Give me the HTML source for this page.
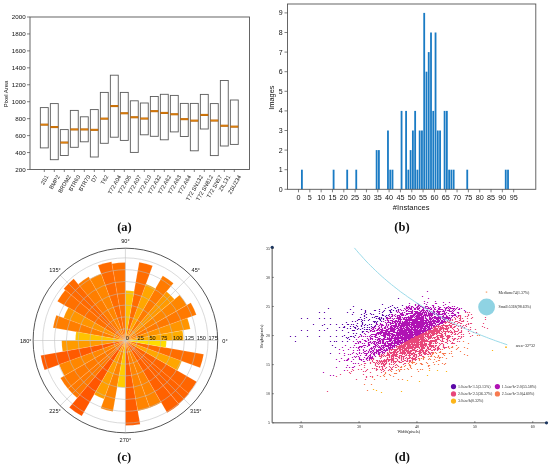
<!DOCTYPE html><html><head><meta charset="utf-8"><style>html,body{margin:0;padding:0;background:#fff;width:550px;height:465px;overflow:hidden}svg{display:block;filter:blur(0.3px)}text{font-family:"Liberation Sans",sans-serif}.sr{font-family:"Liberation Serif",serif}</style></head><body>
<svg width="550" height="465" viewBox="0 0 550 465">
<g id="pa">
<rect x="30.0" y="17.0" width="219.5" height="152.5" fill="none" stroke="#555" stroke-width="0.9"/>
<line x1="27.0" y1="169.5" x2="30.0" y2="169.5" stroke="#4a4a4a" stroke-width="0.7"/>
<text x="25.6" y="171.85" font-size="6.2" fill="#111" text-anchor="end">200</text>
<line x1="27.0" y1="152.56" x2="30.0" y2="152.56" stroke="#4a4a4a" stroke-width="0.7"/>
<text x="25.6" y="154.91" font-size="6.2" fill="#111" text-anchor="end">400</text>
<line x1="27.0" y1="135.61" x2="30.0" y2="135.61" stroke="#4a4a4a" stroke-width="0.7"/>
<text x="25.6" y="137.96" font-size="6.2" fill="#111" text-anchor="end">600</text>
<line x1="27.0" y1="118.67" x2="30.0" y2="118.67" stroke="#4a4a4a" stroke-width="0.7"/>
<text x="25.6" y="121.02" font-size="6.2" fill="#111" text-anchor="end">800</text>
<line x1="27.0" y1="101.72" x2="30.0" y2="101.72" stroke="#4a4a4a" stroke-width="0.7"/>
<text x="25.6" y="104.07" font-size="6.2" fill="#111" text-anchor="end">1000</text>
<line x1="27.0" y1="84.78" x2="30.0" y2="84.78" stroke="#4a4a4a" stroke-width="0.7"/>
<text x="25.6" y="87.13" font-size="6.2" fill="#111" text-anchor="end">1200</text>
<line x1="27.0" y1="67.83" x2="30.0" y2="67.83" stroke="#4a4a4a" stroke-width="0.7"/>
<text x="25.6" y="70.18" font-size="6.2" fill="#111" text-anchor="end">1400</text>
<line x1="27.0" y1="50.89" x2="30.0" y2="50.89" stroke="#4a4a4a" stroke-width="0.7"/>
<text x="25.6" y="53.24" font-size="6.2" fill="#111" text-anchor="end">1600</text>
<line x1="27.0" y1="33.94" x2="30.0" y2="33.94" stroke="#4a4a4a" stroke-width="0.7"/>
<text x="25.6" y="36.29" font-size="6.2" fill="#111" text-anchor="end">1800</text>
<line x1="27.0" y1="17" x2="30.0" y2="17" stroke="#4a4a4a" stroke-width="0.7"/>
<text x="25.6" y="19.35" font-size="6.2" fill="#111" text-anchor="end">2000</text>
<text transform="translate(8.4,94) rotate(-90)" font-size="5.9" fill="#111" text-anchor="middle">Pixel Area</text>
<rect x="40.35" y="107.6" width="7.9" height="40.3" fill="#fff" stroke="#5a5a5a" stroke-width="0.9"/>
<rect x="40.35" y="123.6" width="7.9" height="2.1" fill="#b86408"/>
<line x1="40.85" y1="124.6" x2="47.75" y2="124.6" stroke="#e88a10" stroke-width="0.8"/>
<line x1="44.3" y1="169.5" x2="44.3" y2="172.0" stroke="#4a4a4a" stroke-width="0.7"/>
<text transform="translate(44.3,179.87) rotate(-60)" font-size="5.6" fill="#111" text-anchor="middle" dy="2.1">2S1</text>
<rect x="50.35" y="103.6" width="7.9" height="56.1" fill="#fff" stroke="#5a5a5a" stroke-width="0.9"/>
<rect x="50.35" y="126" width="7.9" height="2.1" fill="#b86408"/>
<line x1="50.85" y1="127" x2="57.75" y2="127" stroke="#e88a10" stroke-width="0.8"/>
<line x1="54.3" y1="169.5" x2="54.3" y2="172.0" stroke="#4a4a4a" stroke-width="0.7"/>
<text transform="translate(54.3,182.16) rotate(-60)" font-size="5.6" fill="#111" text-anchor="middle" dy="2.1">BMP2</text>
<rect x="60.35" y="129.6" width="7.9" height="25.9" fill="#fff" stroke="#5a5a5a" stroke-width="0.9"/>
<rect x="60.35" y="141.5" width="7.9" height="2.1" fill="#b86408"/>
<line x1="60.85" y1="142.5" x2="67.75" y2="142.5" stroke="#e88a10" stroke-width="0.8"/>
<line x1="64.3" y1="169.5" x2="64.3" y2="172.0" stroke="#4a4a4a" stroke-width="0.7"/>
<text transform="translate(64.3,184.05) rotate(-60)" font-size="5.6" fill="#111" text-anchor="middle" dy="2.1">BRDM2</text>
<rect x="70.35" y="110.4" width="7.9" height="36.9" fill="#fff" stroke="#5a5a5a" stroke-width="0.9"/>
<rect x="70.35" y="128.4" width="7.9" height="2.1" fill="#b86408"/>
<line x1="70.85" y1="129.4" x2="77.75" y2="129.4" stroke="#e88a10" stroke-width="0.8"/>
<line x1="74.3" y1="169.5" x2="74.3" y2="172.0" stroke="#4a4a4a" stroke-width="0.7"/>
<text transform="translate(74.3,183.11) rotate(-60)" font-size="5.6" fill="#111" text-anchor="middle" dy="2.1">BTR60</text>
<rect x="80.35" y="116.8" width="7.9" height="25" fill="#fff" stroke="#5a5a5a" stroke-width="0.9"/>
<rect x="80.35" y="128.4" width="7.9" height="2.1" fill="#b86408"/>
<line x1="80.85" y1="129.4" x2="87.75" y2="129.4" stroke="#e88a10" stroke-width="0.8"/>
<line x1="84.3" y1="169.5" x2="84.3" y2="172.0" stroke="#4a4a4a" stroke-width="0.7"/>
<text transform="translate(84.3,183.11) rotate(-60)" font-size="5.6" fill="#111" text-anchor="middle" dy="2.1">BTR70</text>
<rect x="90.35" y="109.6" width="7.9" height="47.4" fill="#fff" stroke="#5a5a5a" stroke-width="0.9"/>
<rect x="90.35" y="128.8" width="7.9" height="2.1" fill="#b86408"/>
<line x1="90.85" y1="129.8" x2="97.75" y2="129.8" stroke="#e88a10" stroke-width="0.8"/>
<line x1="94.3" y1="169.5" x2="94.3" y2="172.0" stroke="#4a4a4a" stroke-width="0.7"/>
<text transform="translate(94.3,178.66) rotate(-60)" font-size="5.6" fill="#111" text-anchor="middle" dy="2.1">D7</text>
<rect x="100.35" y="92.4" width="7.9" height="50.9" fill="#fff" stroke="#5a5a5a" stroke-width="0.9"/>
<rect x="100.35" y="117.6" width="7.9" height="2.1" fill="#b86408"/>
<line x1="100.85" y1="118.6" x2="107.75" y2="118.6" stroke="#e88a10" stroke-width="0.8"/>
<line x1="104.3" y1="169.5" x2="104.3" y2="172.0" stroke="#4a4a4a" stroke-width="0.7"/>
<text transform="translate(104.3,179.74) rotate(-60)" font-size="5.6" fill="#111" text-anchor="middle" dy="2.1">T62</text>
<rect x="110.35" y="75.2" width="7.9" height="62" fill="#fff" stroke="#5a5a5a" stroke-width="0.9"/>
<rect x="110.35" y="105" width="7.9" height="2.1" fill="#b86408"/>
<line x1="110.85" y1="106" x2="117.75" y2="106" stroke="#e88a10" stroke-width="0.8"/>
<line x1="114.3" y1="169.5" x2="114.3" y2="172.0" stroke="#4a4a4a" stroke-width="0.7"/>
<text transform="translate(114.3,184.59) rotate(-60)" font-size="5.6" fill="#111" text-anchor="middle" dy="2.1">T72 A04</text>
<rect x="120.35" y="92.4" width="7.9" height="48" fill="#fff" stroke="#5a5a5a" stroke-width="0.9"/>
<rect x="120.35" y="112.2" width="7.9" height="2.1" fill="#b86408"/>
<line x1="120.85" y1="113.2" x2="127.75" y2="113.2" stroke="#e88a10" stroke-width="0.8"/>
<line x1="124.3" y1="169.5" x2="124.3" y2="172.0" stroke="#4a4a4a" stroke-width="0.7"/>
<text transform="translate(124.3,184.59) rotate(-60)" font-size="5.6" fill="#111" text-anchor="middle" dy="2.1">T72 A05</text>
<rect x="130.35" y="100.8" width="7.9" height="51.6" fill="#fff" stroke="#5a5a5a" stroke-width="0.9"/>
<rect x="130.35" y="116.2" width="7.9" height="2.1" fill="#b86408"/>
<line x1="130.85" y1="117.2" x2="137.75" y2="117.2" stroke="#e88a10" stroke-width="0.8"/>
<line x1="134.3" y1="169.5" x2="134.3" y2="172.0" stroke="#4a4a4a" stroke-width="0.7"/>
<text transform="translate(134.3,184.59) rotate(-60)" font-size="5.6" fill="#111" text-anchor="middle" dy="2.1">T72 A07</text>
<rect x="140.35" y="103" width="7.9" height="31.8" fill="#fff" stroke="#5a5a5a" stroke-width="0.9"/>
<rect x="140.35" y="117.5" width="7.9" height="2.1" fill="#b86408"/>
<line x1="140.85" y1="118.5" x2="147.75" y2="118.5" stroke="#e88a10" stroke-width="0.8"/>
<line x1="144.3" y1="169.5" x2="144.3" y2="172.0" stroke="#4a4a4a" stroke-width="0.7"/>
<text transform="translate(144.3,184.59) rotate(-60)" font-size="5.6" fill="#111" text-anchor="middle" dy="2.1">T72 A10</text>
<rect x="150.35" y="96.5" width="7.9" height="39.8" fill="#fff" stroke="#5a5a5a" stroke-width="0.9"/>
<rect x="150.35" y="110.1" width="7.9" height="2.1" fill="#b86408"/>
<line x1="150.85" y1="111.1" x2="157.75" y2="111.1" stroke="#e88a10" stroke-width="0.8"/>
<line x1="154.3" y1="169.5" x2="154.3" y2="172.0" stroke="#4a4a4a" stroke-width="0.7"/>
<text transform="translate(154.3,184.59) rotate(-60)" font-size="5.6" fill="#111" text-anchor="middle" dy="2.1">T72 A32</text>
<rect x="160.35" y="94.3" width="7.9" height="45.5" fill="#fff" stroke="#5a5a5a" stroke-width="0.9"/>
<rect x="160.35" y="111.9" width="7.9" height="2.1" fill="#b86408"/>
<line x1="160.85" y1="112.9" x2="167.75" y2="112.9" stroke="#e88a10" stroke-width="0.8"/>
<line x1="164.3" y1="169.5" x2="164.3" y2="172.0" stroke="#4a4a4a" stroke-width="0.7"/>
<text transform="translate(164.3,184.59) rotate(-60)" font-size="5.6" fill="#111" text-anchor="middle" dy="2.1">T72 A62</text>
<rect x="170.35" y="95.4" width="7.9" height="36.5" fill="#fff" stroke="#5a5a5a" stroke-width="0.9"/>
<rect x="170.35" y="113.2" width="7.9" height="2.1" fill="#b86408"/>
<line x1="170.85" y1="114.2" x2="177.75" y2="114.2" stroke="#e88a10" stroke-width="0.8"/>
<line x1="174.3" y1="169.5" x2="174.3" y2="172.0" stroke="#4a4a4a" stroke-width="0.7"/>
<text transform="translate(174.3,184.59) rotate(-60)" font-size="5.6" fill="#111" text-anchor="middle" dy="2.1">T72 A63</text>
<rect x="180.35" y="103.4" width="7.9" height="33.1" fill="#fff" stroke="#5a5a5a" stroke-width="0.9"/>
<rect x="180.35" y="118.1" width="7.9" height="2.1" fill="#b86408"/>
<line x1="180.85" y1="119.1" x2="187.75" y2="119.1" stroke="#e88a10" stroke-width="0.8"/>
<line x1="184.3" y1="169.5" x2="184.3" y2="172.0" stroke="#4a4a4a" stroke-width="0.7"/>
<text transform="translate(184.3,184.59) rotate(-60)" font-size="5.6" fill="#111" text-anchor="middle" dy="2.1">T72 A64</text>
<rect x="190.35" y="103.4" width="7.9" height="47.4" fill="#fff" stroke="#5a5a5a" stroke-width="0.9"/>
<rect x="190.35" y="119.6" width="7.9" height="2.1" fill="#b86408"/>
<line x1="190.85" y1="120.6" x2="197.75" y2="120.6" stroke="#e88a10" stroke-width="0.8"/>
<line x1="194.3" y1="169.5" x2="194.3" y2="172.0" stroke="#4a4a4a" stroke-width="0.7"/>
<text transform="translate(194.3,187.83) rotate(-60)" font-size="5.6" fill="#111" text-anchor="middle" dy="2.1">T72 SN132</text>
<rect x="200.35" y="94.4" width="7.9" height="34.6" fill="#fff" stroke="#5a5a5a" stroke-width="0.9"/>
<rect x="200.35" y="113.9" width="7.9" height="2.1" fill="#b86408"/>
<line x1="200.85" y1="114.9" x2="207.75" y2="114.9" stroke="#e88a10" stroke-width="0.8"/>
<line x1="204.3" y1="169.5" x2="204.3" y2="172.0" stroke="#4a4a4a" stroke-width="0.7"/>
<text transform="translate(204.3,187.83) rotate(-60)" font-size="5.6" fill="#111" text-anchor="middle" dy="2.1">T72 SN812</text>
<rect x="210.35" y="103.6" width="7.9" height="52" fill="#fff" stroke="#5a5a5a" stroke-width="0.9"/>
<rect x="210.35" y="119.5" width="7.9" height="2.1" fill="#b86408"/>
<line x1="210.85" y1="120.5" x2="217.75" y2="120.5" stroke="#e88a10" stroke-width="0.8"/>
<line x1="214.3" y1="169.5" x2="214.3" y2="172.0" stroke="#4a4a4a" stroke-width="0.7"/>
<text transform="translate(214.3,186.48) rotate(-60)" font-size="5.6" fill="#111" text-anchor="middle" dy="2.1">T72 SN57</text>
<rect x="220.35" y="80.5" width="7.9" height="65.5" fill="#fff" stroke="#5a5a5a" stroke-width="0.9"/>
<rect x="220.35" y="124.7" width="7.9" height="2.1" fill="#b86408"/>
<line x1="220.85" y1="125.7" x2="227.75" y2="125.7" stroke="#e88a10" stroke-width="0.8"/>
<line x1="224.3" y1="169.5" x2="224.3" y2="172.0" stroke="#4a4a4a" stroke-width="0.7"/>
<text transform="translate(224.3,183.11) rotate(-60)" font-size="5.6" fill="#111" text-anchor="middle" dy="2.1">ZIL131</text>
<rect x="230.35" y="100" width="7.9" height="44.4" fill="#fff" stroke="#5a5a5a" stroke-width="0.9"/>
<rect x="230.35" y="125.6" width="7.9" height="2.1" fill="#b86408"/>
<line x1="230.85" y1="126.6" x2="237.75" y2="126.6" stroke="#e88a10" stroke-width="0.8"/>
<line x1="234.3" y1="169.5" x2="234.3" y2="172.0" stroke="#4a4a4a" stroke-width="0.7"/>
<text transform="translate(234.3,184.46) rotate(-60)" font-size="5.6" fill="#111" text-anchor="middle" dy="2.1">ZSU234</text>
<text class="sr" x="124.5" y="230.6" font-size="12.5" font-weight="bold" fill="#111" text-anchor="middle">(a)</text>
</g>
<g id="pb">
<rect x="300.99" y="169.7" width="1.81" height="19.6" fill="#1a7bc4"/>
<rect x="332.7" y="169.7" width="1.81" height="19.6" fill="#1a7bc4"/>
<rect x="346.29" y="169.7" width="1.81" height="19.6" fill="#1a7bc4"/>
<rect x="355.35" y="169.7" width="1.81" height="19.6" fill="#1a7bc4"/>
<rect x="375.74" y="150.1" width="1.81" height="39.2" fill="#1a7bc4"/>
<rect x="378" y="150.1" width="1.81" height="39.2" fill="#1a7bc4"/>
<rect x="387.06" y="130.5" width="1.81" height="58.8" fill="#1a7bc4"/>
<rect x="389.33" y="169.7" width="1.81" height="19.6" fill="#1a7bc4"/>
<rect x="391.59" y="169.7" width="1.81" height="19.6" fill="#1a7bc4"/>
<rect x="400.65" y="110.9" width="1.81" height="78.4" fill="#1a7bc4"/>
<rect x="405.18" y="110.9" width="1.81" height="78.4" fill="#1a7bc4"/>
<rect x="407.45" y="169.7" width="1.81" height="19.6" fill="#1a7bc4"/>
<rect x="409.71" y="150.1" width="1.81" height="39.2" fill="#1a7bc4"/>
<rect x="411.98" y="130.5" width="1.81" height="58.8" fill="#1a7bc4"/>
<rect x="414.24" y="110.9" width="1.81" height="78.4" fill="#1a7bc4"/>
<rect x="416.51" y="169.7" width="1.81" height="19.6" fill="#1a7bc4"/>
<rect x="418.77" y="130.5" width="1.81" height="58.8" fill="#1a7bc4"/>
<rect x="421.04" y="130.5" width="1.81" height="58.8" fill="#1a7bc4"/>
<rect x="423.3" y="12.9" width="1.81" height="176.4" fill="#1a7bc4"/>
<rect x="425.57" y="71.7" width="1.81" height="117.6" fill="#1a7bc4"/>
<rect x="427.83" y="52.1" width="1.81" height="137.2" fill="#1a7bc4"/>
<rect x="430.1" y="32.5" width="1.81" height="156.8" fill="#1a7bc4"/>
<rect x="432.36" y="110.9" width="1.81" height="78.4" fill="#1a7bc4"/>
<rect x="434.63" y="32.5" width="1.81" height="156.8" fill="#1a7bc4"/>
<rect x="436.89" y="130.5" width="1.81" height="58.8" fill="#1a7bc4"/>
<rect x="439.16" y="130.5" width="1.81" height="58.8" fill="#1a7bc4"/>
<rect x="443.69" y="110.9" width="1.81" height="78.4" fill="#1a7bc4"/>
<rect x="445.95" y="110.9" width="1.81" height="78.4" fill="#1a7bc4"/>
<rect x="448.22" y="169.7" width="1.81" height="19.6" fill="#1a7bc4"/>
<rect x="450.48" y="169.7" width="1.81" height="19.6" fill="#1a7bc4"/>
<rect x="452.75" y="169.7" width="1.81" height="19.6" fill="#1a7bc4"/>
<rect x="466.34" y="169.7" width="1.81" height="19.6" fill="#1a7bc4"/>
<rect x="504.84" y="169.7" width="1.81" height="19.6" fill="#1a7bc4"/>
<rect x="507.11" y="169.7" width="1.81" height="19.6" fill="#1a7bc4"/>
<rect x="287.5" y="4.0" width="248.3" height="185.3" fill="none" stroke="#555" stroke-width="0.9"/>
<line x1="284.5" y1="189.3" x2="287.5" y2="189.3" stroke="#4a4a4a" stroke-width="0.7"/>
<text x="282.6" y="191.8" font-size="7" fill="#111" text-anchor="end">0</text>
<line x1="284.5" y1="169.7" x2="287.5" y2="169.7" stroke="#4a4a4a" stroke-width="0.7"/>
<text x="282.6" y="172.2" font-size="7" fill="#111" text-anchor="end">1</text>
<line x1="284.5" y1="150.1" x2="287.5" y2="150.1" stroke="#4a4a4a" stroke-width="0.7"/>
<text x="282.6" y="152.6" font-size="7" fill="#111" text-anchor="end">2</text>
<line x1="284.5" y1="130.5" x2="287.5" y2="130.5" stroke="#4a4a4a" stroke-width="0.7"/>
<text x="282.6" y="133" font-size="7" fill="#111" text-anchor="end">3</text>
<line x1="284.5" y1="110.9" x2="287.5" y2="110.9" stroke="#4a4a4a" stroke-width="0.7"/>
<text x="282.6" y="113.4" font-size="7" fill="#111" text-anchor="end">4</text>
<line x1="284.5" y1="91.3" x2="287.5" y2="91.3" stroke="#4a4a4a" stroke-width="0.7"/>
<text x="282.6" y="93.8" font-size="7" fill="#111" text-anchor="end">5</text>
<line x1="284.5" y1="71.7" x2="287.5" y2="71.7" stroke="#4a4a4a" stroke-width="0.7"/>
<text x="282.6" y="74.2" font-size="7" fill="#111" text-anchor="end">6</text>
<line x1="284.5" y1="52.1" x2="287.5" y2="52.1" stroke="#4a4a4a" stroke-width="0.7"/>
<text x="282.6" y="54.6" font-size="7" fill="#111" text-anchor="end">7</text>
<line x1="284.5" y1="32.5" x2="287.5" y2="32.5" stroke="#4a4a4a" stroke-width="0.7"/>
<text x="282.6" y="35" font-size="7" fill="#111" text-anchor="end">8</text>
<line x1="284.5" y1="12.9" x2="287.5" y2="12.9" stroke="#4a4a4a" stroke-width="0.7"/>
<text x="282.6" y="15.4" font-size="7" fill="#111" text-anchor="end">9</text>
<line x1="298.5" y1="189.3" x2="298.5" y2="192.3" stroke="#4a4a4a" stroke-width="0.7"/>
<text x="298.5" y="199.8" font-size="7.2" fill="#111" text-anchor="middle">0</text>
<line x1="309.82" y1="189.3" x2="309.82" y2="192.3" stroke="#4a4a4a" stroke-width="0.7"/>
<text x="309.82" y="199.8" font-size="7.2" fill="#111" text-anchor="middle">5</text>
<line x1="321.15" y1="189.3" x2="321.15" y2="192.3" stroke="#4a4a4a" stroke-width="0.7"/>
<text x="321.15" y="199.8" font-size="7.2" fill="#111" text-anchor="middle">10</text>
<line x1="332.48" y1="189.3" x2="332.48" y2="192.3" stroke="#4a4a4a" stroke-width="0.7"/>
<text x="332.48" y="199.8" font-size="7.2" fill="#111" text-anchor="middle">15</text>
<line x1="343.8" y1="189.3" x2="343.8" y2="192.3" stroke="#4a4a4a" stroke-width="0.7"/>
<text x="343.8" y="199.8" font-size="7.2" fill="#111" text-anchor="middle">20</text>
<line x1="355.12" y1="189.3" x2="355.12" y2="192.3" stroke="#4a4a4a" stroke-width="0.7"/>
<text x="355.12" y="199.8" font-size="7.2" fill="#111" text-anchor="middle">25</text>
<line x1="366.45" y1="189.3" x2="366.45" y2="192.3" stroke="#4a4a4a" stroke-width="0.7"/>
<text x="366.45" y="199.8" font-size="7.2" fill="#111" text-anchor="middle">30</text>
<line x1="377.77" y1="189.3" x2="377.77" y2="192.3" stroke="#4a4a4a" stroke-width="0.7"/>
<text x="377.77" y="199.8" font-size="7.2" fill="#111" text-anchor="middle">35</text>
<line x1="389.1" y1="189.3" x2="389.1" y2="192.3" stroke="#4a4a4a" stroke-width="0.7"/>
<text x="389.1" y="199.8" font-size="7.2" fill="#111" text-anchor="middle">40</text>
<line x1="400.43" y1="189.3" x2="400.43" y2="192.3" stroke="#4a4a4a" stroke-width="0.7"/>
<text x="400.43" y="199.8" font-size="7.2" fill="#111" text-anchor="middle">45</text>
<line x1="411.75" y1="189.3" x2="411.75" y2="192.3" stroke="#4a4a4a" stroke-width="0.7"/>
<text x="411.75" y="199.8" font-size="7.2" fill="#111" text-anchor="middle">50</text>
<line x1="423.07" y1="189.3" x2="423.07" y2="192.3" stroke="#4a4a4a" stroke-width="0.7"/>
<text x="423.07" y="199.8" font-size="7.2" fill="#111" text-anchor="middle">55</text>
<line x1="434.4" y1="189.3" x2="434.4" y2="192.3" stroke="#4a4a4a" stroke-width="0.7"/>
<text x="434.4" y="199.8" font-size="7.2" fill="#111" text-anchor="middle">60</text>
<line x1="445.73" y1="189.3" x2="445.73" y2="192.3" stroke="#4a4a4a" stroke-width="0.7"/>
<text x="445.73" y="199.8" font-size="7.2" fill="#111" text-anchor="middle">65</text>
<line x1="457.05" y1="189.3" x2="457.05" y2="192.3" stroke="#4a4a4a" stroke-width="0.7"/>
<text x="457.05" y="199.8" font-size="7.2" fill="#111" text-anchor="middle">70</text>
<line x1="468.38" y1="189.3" x2="468.38" y2="192.3" stroke="#4a4a4a" stroke-width="0.7"/>
<text x="468.38" y="199.8" font-size="7.2" fill="#111" text-anchor="middle">75</text>
<line x1="479.7" y1="189.3" x2="479.7" y2="192.3" stroke="#4a4a4a" stroke-width="0.7"/>
<text x="479.7" y="199.8" font-size="7.2" fill="#111" text-anchor="middle">80</text>
<line x1="491.02" y1="189.3" x2="491.02" y2="192.3" stroke="#4a4a4a" stroke-width="0.7"/>
<text x="491.02" y="199.8" font-size="7.2" fill="#111" text-anchor="middle">85</text>
<line x1="502.35" y1="189.3" x2="502.35" y2="192.3" stroke="#4a4a4a" stroke-width="0.7"/>
<text x="502.35" y="199.8" font-size="7.2" fill="#111" text-anchor="middle">90</text>
<line x1="513.67" y1="189.3" x2="513.67" y2="192.3" stroke="#4a4a4a" stroke-width="0.7"/>
<text x="513.67" y="199.8" font-size="7.2" fill="#111" text-anchor="middle">95</text>
<text x="411.2" y="209.6" font-size="7.6" fill="#111" text-anchor="middle">#Instances</text>
<text transform="translate(274.2,97.6) rotate(-90)" font-size="7.4" fill="#111" text-anchor="middle">Images</text>
<text class="sr" x="402" y="230.6" font-size="12.5" font-weight="bold" fill="#111" text-anchor="middle">(b)</text>
</g>
<g id="pc">
<path d="M125.4,340.5L183.4,340.5A58,58 0 0 0 182.52,330.43Z" fill="#ffac00" stroke="#ffffff" stroke-width="0.4" stroke-opacity="0.3"/>
<path d="M125.4,340.5L190.3,329.06A65.9,65.9 0 0 0 187.33,317.96Z" fill="#ff9500" stroke="#ffffff" stroke-width="0.4" stroke-opacity="0.3"/>
<path d="M125.4,340.5L196.35,314.68A75.5,75.5 0 0 0 190.78,302.75Z" fill="#ff7900" stroke="#ffffff" stroke-width="0.4" stroke-opacity="0.3"/>
<path d="M125.4,340.5L186.71,305.1A70.8,70.8 0 0 0 179.64,294.99Z" fill="#ff8600" stroke="#ffffff" stroke-width="0.4" stroke-opacity="0.3"/>
<path d="M125.4,340.5L174.43,299.36A64,64 0 0 0 166.54,291.47Z" fill="#ff9a00" stroke="#ffffff" stroke-width="0.4" stroke-opacity="0.3"/>
<path d="M125.4,340.5L173.42,283.28A74.7,74.7 0 0 0 162.75,275.81Z" fill="#ff7b00" stroke="#ffffff" stroke-width="0.4" stroke-opacity="0.3"/>
<path d="M125.4,340.5L155.4,288.54A60,60 0 0 0 145.92,284.12Z" fill="#ffa600" stroke="#ffffff" stroke-width="0.4" stroke-opacity="0.3"/>
<path d="M125.4,340.5L152.59,265.79A79.5,79.5 0 0 0 139.21,262.21Z" fill="#ff6d00" stroke="#ffffff" stroke-width="0.4" stroke-opacity="0.3"/>
<path d="M125.4,340.5L134.08,291.26A50,50 0 0 0 125.4,290.5Z" fill="#ffc300" stroke="#ffffff" stroke-width="0.4" stroke-opacity="0.3"/>
<path d="M125.4,340.5L125.4,262.5A78,78 0 0 0 111.86,263.68Z" fill="#ff7100" stroke="#ffffff" stroke-width="0.4" stroke-opacity="0.3"/>
<path d="M125.4,340.5L111.51,261.72A80,80 0 0 0 98.04,265.32Z" fill="#ff6b00" stroke="#ffffff" stroke-width="0.4" stroke-opacity="0.3"/>
<path d="M125.4,340.5L101.12,273.78A71,71 0 0 0 89.9,279.01Z" fill="#ff8600" stroke="#ffffff" stroke-width="0.4" stroke-opacity="0.3"/>
<path d="M125.4,340.5L88.65,276.85A73.5,73.5 0 0 0 78.16,284.2Z" fill="#ff7e00" stroke="#ffffff" stroke-width="0.4" stroke-opacity="0.3"/>
<path d="M125.4,340.5L73.66,278.83A80.5,80.5 0 0 0 63.73,288.76Z" fill="#ff6a00" stroke="#ffffff" stroke-width="0.4" stroke-opacity="0.3"/>
<path d="M125.4,340.5L65.27,290.04A78.5,78.5 0 0 0 57.42,301.25Z" fill="#ff7000" stroke="#ffffff" stroke-width="0.4" stroke-opacity="0.3"/>
<path d="M125.4,340.5L68.42,307.6A65.8,65.8 0 0 0 63.57,318Z" fill="#ff9500" stroke="#ffffff" stroke-width="0.4" stroke-opacity="0.3"/>
<path d="M125.4,340.5L56.33,315.36A73.5,73.5 0 0 0 53.02,327.74Z" fill="#ff7e00" stroke="#ffffff" stroke-width="0.4" stroke-opacity="0.3"/>
<path d="M125.4,340.5L76.16,331.82A50,50 0 0 0 75.4,340.5Z" fill="#ffc300" stroke="#ffffff" stroke-width="0.4" stroke-opacity="0.3"/>
<path d="M125.4,340.5L61.7,340.5A63.7,63.7 0 0 0 62.67,351.56Z" fill="#ff9b00" stroke="#ffffff" stroke-width="0.4" stroke-opacity="0.3"/>
<path d="M125.4,340.5L40.71,355.43A86,86 0 0 0 44.59,369.91Z" fill="#ff5a00" stroke="#ffffff" stroke-width="0.4" stroke-opacity="0.3"/>
<path d="M125.4,340.5L59.15,364.61A70.5,70.5 0 0 0 64.35,375.75Z" fill="#ff8700" stroke="#ffffff" stroke-width="0.4" stroke-opacity="0.3"/>
<path d="M125.4,340.5L60.45,378A75,75 0 0 0 67.95,388.71Z" fill="#ff7a00" stroke="#ffffff" stroke-width="0.4" stroke-opacity="0.3"/>
<path d="M125.4,340.5L67.95,388.71A75,75 0 0 0 77.19,397.95Z" fill="#ff7a00" stroke="#ffffff" stroke-width="0.4" stroke-opacity="0.3"/>
<path d="M125.4,340.5L69.28,407.38A87.3,87.3 0 0 0 81.75,416.1Z" fill="#ff5600" stroke="#ffffff" stroke-width="0.4" stroke-opacity="0.3"/>
<path d="M125.4,340.5L94.25,394.45A62.3,62.3 0 0 0 104.09,399.04Z" fill="#ff9f00" stroke="#ffffff" stroke-width="0.4" stroke-opacity="0.3"/>
<path d="M125.4,340.5L100.77,408.16A72,72 0 0 0 112.9,411.41Z" fill="#ff8300" stroke="#ffffff" stroke-width="0.4" stroke-opacity="0.3"/>
<path d="M125.4,340.5L117.24,386.79A47,47 0 0 0 125.4,387.5Z" fill="#ffcc00" stroke="#ffffff" stroke-width="0.4" stroke-opacity="0.3"/>
<path d="M125.4,340.5L125.4,425.5A85,85 0 0 0 140.16,424.21Z" fill="#ff5d00" stroke="#ffffff" stroke-width="0.4" stroke-opacity="0.3"/>
<path d="M125.4,340.5L137.82,410.91A71.5,71.5 0 0 0 149.85,407.69Z" fill="#ff8400" stroke="#ffffff" stroke-width="0.4" stroke-opacity="0.3"/>
<path d="M125.4,340.5L149.85,407.69A71.5,71.5 0 0 0 161.15,402.42Z" fill="#ff8400" stroke="#ffffff" stroke-width="0.4" stroke-opacity="0.3"/>
<path d="M125.4,340.5L167.15,412.81A83.5,83.5 0 0 0 179.07,404.46Z" fill="#ff6100" stroke="#ffffff" stroke-width="0.4" stroke-opacity="0.3"/>
<path d="M125.4,340.5L178.75,404.08A83,83 0 0 0 188.98,393.85Z" fill="#ff6300" stroke="#ffffff" stroke-width="0.4" stroke-opacity="0.3"/>
<path d="M125.4,340.5L188.45,393.4A82.3,82.3 0 0 0 196.67,381.65Z" fill="#ff6500" stroke="#ffffff" stroke-width="0.4" stroke-opacity="0.3"/>
<path d="M125.4,340.5L177.36,370.5A60,60 0 0 0 181.78,361.02Z" fill="#ffa600" stroke="#ffffff" stroke-width="0.4" stroke-opacity="0.3"/>
<path d="M125.4,340.5L200.11,367.69A79.5,79.5 0 0 0 203.69,354.31Z" fill="#ff6d00" stroke="#ffffff" stroke-width="0.4" stroke-opacity="0.3"/>
<path d="M125.4,340.5L165.78,347.62A41,41 0 0 0 166.4,340.5Z" fill="#ffdd00" stroke="#ffffff" stroke-width="0.4" stroke-opacity="0.3"/>
<circle cx="125.4" cy="340.5" r="11.81" fill="none" stroke="#bdbdbd" stroke-width="0.7" stroke-opacity="0.8"/>
<circle cx="125.4" cy="340.5" r="23.61" fill="none" stroke="#bdbdbd" stroke-width="0.7" stroke-opacity="0.8"/>
<circle cx="125.4" cy="340.5" r="35.42" fill="none" stroke="#bdbdbd" stroke-width="0.7" stroke-opacity="0.8"/>
<circle cx="125.4" cy="340.5" r="47.23" fill="none" stroke="#bdbdbd" stroke-width="0.7" stroke-opacity="0.8"/>
<circle cx="125.4" cy="340.5" r="59.04" fill="none" stroke="#bdbdbd" stroke-width="0.7" stroke-opacity="0.8"/>
<circle cx="125.4" cy="340.5" r="70.84" fill="none" stroke="#bdbdbd" stroke-width="0.7" stroke-opacity="0.8"/>
<circle cx="125.4" cy="340.5" r="82.65" fill="none" stroke="#bdbdbd" stroke-width="0.7" stroke-opacity="0.8"/>
<line x1="125.4" y1="340.5" x2="217.7" y2="340.5" stroke="#bdbdbd" stroke-width="0.7" stroke-opacity="0.8"/>
<line x1="125.4" y1="340.5" x2="190.67" y2="275.23" stroke="#bdbdbd" stroke-width="0.7" stroke-opacity="0.8"/>
<line x1="125.4" y1="340.5" x2="125.4" y2="248.2" stroke="#bdbdbd" stroke-width="0.7" stroke-opacity="0.8"/>
<line x1="125.4" y1="340.5" x2="60.13" y2="275.23" stroke="#bdbdbd" stroke-width="0.7" stroke-opacity="0.8"/>
<line x1="125.4" y1="340.5" x2="33.1" y2="340.5" stroke="#bdbdbd" stroke-width="0.7" stroke-opacity="0.8"/>
<line x1="125.4" y1="340.5" x2="60.13" y2="405.77" stroke="#bdbdbd" stroke-width="0.7" stroke-opacity="0.8"/>
<line x1="125.4" y1="340.5" x2="125.4" y2="432.8" stroke="#bdbdbd" stroke-width="0.7" stroke-opacity="0.8"/>
<line x1="125.4" y1="340.5" x2="190.67" y2="405.77" stroke="#bdbdbd" stroke-width="0.7" stroke-opacity="0.8"/>
<circle cx="125.4" cy="340.5" r="92.3" fill="none" stroke="#444" stroke-width="0.9"/>
<text x="125.8" y="339.7" font-size="5.6" fill="#111">0</text>
<text x="137.61" y="339.7" font-size="5.6" fill="#111">25</text>
<text x="149.42" y="339.7" font-size="5.6" fill="#111">50</text>
<text x="161.22" y="339.7" font-size="5.6" fill="#111">75</text>
<text x="173.03" y="339.7" font-size="5.6" fill="#111">100</text>
<text x="184.84" y="339.7" font-size="5.6" fill="#111">125</text>
<text x="196.65" y="339.7" font-size="5.6" fill="#111">150</text>
<text x="208.45" y="339.7" font-size="5.6" fill="#111">175</text>
<text x="225" y="342.5" font-size="5.6" fill="#111" text-anchor="middle">0°</text>
<text x="195.83" y="272.07" font-size="5.6" fill="#111" text-anchor="middle">45°</text>
<text x="125.4" y="242.9" font-size="5.6" fill="#111" text-anchor="middle">90°</text>
<text x="54.97" y="272.07" font-size="5.6" fill="#111" text-anchor="middle">135°</text>
<text x="25.8" y="342.5" font-size="5.6" fill="#111" text-anchor="middle">180°</text>
<text x="54.97" y="412.93" font-size="5.6" fill="#111" text-anchor="middle">225°</text>
<text x="125.4" y="442.1" font-size="5.6" fill="#111" text-anchor="middle">270°</text>
<text x="195.83" y="412.93" font-size="5.6" fill="#111" text-anchor="middle">315°</text>
<text class="sr" x="124.3" y="460.9" font-size="12.5" font-weight="bold" fill="#111" text-anchor="middle">(c)</text>
</g>
<g id="pd">
<line x1="272.2" y1="422.8" x2="546.5" y2="422.8" stroke="#8c8c8c" stroke-width="1.5"/>
<line x1="272.2" y1="422.8" x2="272.2" y2="247.2" stroke="#8c8c8c" stroke-width="1.5"/>
<circle cx="546.5" cy="422.8" r="1.6" fill="#1c3660"/>
<circle cx="272.2" cy="247.3" r="1.6" fill="#1c3660"/>
<line x1="301.15" y1="421.2" x2="301.15" y2="422.8" stroke="#333" stroke-width="0.6"/>
<text class="sr" x="301.15" y="428" font-size="3.9" fill="#111" text-anchor="middle">20</text>
<line x1="359.05" y1="421.2" x2="359.05" y2="422.8" stroke="#333" stroke-width="0.6"/>
<text class="sr" x="359.05" y="428" font-size="3.9" fill="#111" text-anchor="middle">30</text>
<line x1="416.95" y1="421.2" x2="416.95" y2="422.8" stroke="#333" stroke-width="0.6"/>
<text class="sr" x="416.95" y="428" font-size="3.9" fill="#111" text-anchor="middle">40</text>
<line x1="474.85" y1="421.2" x2="474.85" y2="422.8" stroke="#333" stroke-width="0.6"/>
<text class="sr" x="474.85" y="428" font-size="3.9" fill="#111" text-anchor="middle">50</text>
<line x1="532.75" y1="421.2" x2="532.75" y2="422.8" stroke="#333" stroke-width="0.6"/>
<text class="sr" x="532.75" y="428" font-size="3.9" fill="#111" text-anchor="middle">60</text>
<line x1="272.2" y1="422.8" x2="273.8" y2="422.8" stroke="#333" stroke-width="0.6"/>
<text class="sr" x="270.0" y="424.1" font-size="3.9" fill="#111" text-anchor="end">5</text>
<line x1="272.2" y1="393.72" x2="273.8" y2="393.72" stroke="#333" stroke-width="0.6"/>
<text class="sr" x="270.0" y="395.02" font-size="3.9" fill="#111" text-anchor="end">10</text>
<line x1="272.2" y1="364.63" x2="273.8" y2="364.63" stroke="#333" stroke-width="0.6"/>
<text class="sr" x="270.0" y="365.93" font-size="3.9" fill="#111" text-anchor="end">15</text>
<line x1="272.2" y1="335.55" x2="273.8" y2="335.55" stroke="#333" stroke-width="0.6"/>
<text class="sr" x="270.0" y="336.85" font-size="3.9" fill="#111" text-anchor="end">20</text>
<line x1="272.2" y1="306.46" x2="273.8" y2="306.46" stroke="#333" stroke-width="0.6"/>
<text class="sr" x="270.0" y="307.76" font-size="3.9" fill="#111" text-anchor="end">25</text>
<line x1="272.2" y1="277.38" x2="273.8" y2="277.38" stroke="#333" stroke-width="0.6"/>
<text class="sr" x="270.0" y="278.68" font-size="3.9" fill="#111" text-anchor="end">30</text>
<line x1="272.2" y1="248.29" x2="273.8" y2="248.29" stroke="#333" stroke-width="0.6"/>
<text class="sr" x="270.0" y="249.59" font-size="3.9" fill="#111" text-anchor="end">35</text>
<text class="sr" x="408.8" y="433.4" font-size="4.1" fill="#111" text-anchor="middle">Width(pixels)</text>
<text class="sr" transform="translate(263.4,336.4) rotate(-90)" font-size="4.1" fill="#111" text-anchor="middle">Height(pixels)</text>
<path d="M361.9 322.9h1.2v1.2h-1.2zM397.9 297.9h1.2v1.2h-1.2zM323.9 329.9h1.2v1.2h-1.2zM352.9 329.9h1.2v1.2h-1.2zM352.9 325.9h1.2v1.2h-1.2zM361.9 319.9h1.2v1.2h-1.2zM363.9 319.9h1.2v1.2h-1.2zM381.9 303.9h1.2v1.2h-1.2zM318.9 335.9h1.2v1.2h-1.2zM381.9 311.9h1.2v1.2h-1.2zM300.9 317.9h1.2v1.2h-1.2zM335.9 323.9h1.2v1.2h-1.2zM341.9 323.9h1.2v1.2h-1.2zM354.9 320.9h1.2v1.2h-1.2zM380.9 320.9h1.2v1.2h-1.2zM329.9 317.9h1.2v1.2h-1.2zM390.9 311.9h1.2v1.2h-1.2zM363.9 317.9h1.2v1.2h-1.2zM365.9 313.9h1.2v1.2h-1.2zM379.9 319.9h1.2v1.2h-1.2zM368.9 323.9h1.2v1.2h-1.2zM352.9 332.9h1.2v1.2h-1.2zM318.9 311.9h1.2v1.2h-1.2zM392.9 309.9h1.2v1.2h-1.2zM395.9 309.9h1.2v1.2h-1.2zM370.9 325.9h1.2v1.2h-1.2zM347.9 323.9h1.2v1.2h-1.2zM354.9 334.9h1.2v1.2h-1.2zM343.9 325.9h1.2v1.2h-1.2zM389.9 310.9h1.2v1.2h-1.2zM360.9 324.9h1.2v1.2h-1.2zM341.9 335.9h1.2v1.2h-1.2zM366.9 328.9h1.2v1.2h-1.2zM370.9 313.9h1.2v1.2h-1.2zM356.9 328.9h1.2v1.2h-1.2zM367.9 319.9h1.2v1.2h-1.2zM364.9 310.9h1.2v1.2h-1.2zM346.9 327.9h1.2v1.2h-1.2zM355.9 324.9h1.2v1.2h-1.2zM346.9 340.9h1.2v1.2h-1.2zM355.9 332.9h1.2v1.2h-1.2zM366.9 326.9h1.2v1.2h-1.2zM326.9 327.9h1.2v1.2h-1.2zM387.9 314.9h1.2v1.2h-1.2zM329.9 352.9h1.2v1.2h-1.2zM378.9 318.9h1.2v1.2h-1.2zM306.9 335.9h1.2v1.2h-1.2zM371.9 316.9h1.2v1.2h-1.2zM364.9 311.9h1.2v1.2h-1.2zM346.9 323.9h1.2v1.2h-1.2zM354.9 327.9h1.2v1.2h-1.2zM373.9 316.9h1.2v1.2h-1.2zM368.9 318.9h1.2v1.2h-1.2zM323.9 317.9h1.2v1.2h-1.2zM382.9 310.9h1.2v1.2h-1.2zM380.9 317.9h1.2v1.2h-1.2zM365.9 316.9h1.2v1.2h-1.2zM360.9 318.9h1.2v1.2h-1.2zM366.9 324.9h1.2v1.2h-1.2zM375.9 315.9h1.2v1.2h-1.2zM331.9 344.9h1.2v1.2h-1.2zM318.9 317.9h1.2v1.2h-1.2zM360.9 308.9h1.2v1.2h-1.2zM361.9 327.9h1.2v1.2h-1.2zM341.9 329.9h1.2v1.2h-1.2zM373.9 309.9h1.2v1.2h-1.2zM363.9 314.9h1.2v1.2h-1.2zM351.9 313.9h1.2v1.2h-1.2zM343.9 334.9h1.2v1.2h-1.2zM363.9 326.9h1.2v1.2h-1.2zM374.9 320.9h1.2v1.2h-1.2zM338.9 326.9h1.2v1.2h-1.2zM347.9 331.9h1.2v1.2h-1.2zM376.9 315.9h1.2v1.2h-1.2zM350.9 335.9h1.2v1.2h-1.2zM353.9 329.9h1.2v1.2h-1.2zM378.9 310.9h1.2v1.2h-1.2zM365.9 330.9h1.2v1.2h-1.2zM352.9 311.9h1.2v1.2h-1.2zM360.9 313.9h1.2v1.2h-1.2zM368.9 326.9h1.2v1.2h-1.2zM327.9 307.9h1.2v1.2h-1.2zM363.9 312.9h1.2v1.2h-1.2zM352.9 335.9h1.2v1.2h-1.2zM363.9 328.9h1.2v1.2h-1.2zM335.9 335.9h1.2v1.2h-1.2zM364.9 309.9h1.2v1.2h-1.2zM352.9 305.9h1.2v1.2h-1.2zM372.9 320.9h1.2v1.2h-1.2zM356.9 322.9h1.2v1.2h-1.2zM345.9 321.9h1.2v1.2h-1.2zM363.9 315.9h1.2v1.2h-1.2zM335.9 329.9h1.2v1.2h-1.2zM383.9 309.9h1.2v1.2h-1.2zM351.9 329.9h1.2v1.2h-1.2zM397.9 308.9h1.2v1.2h-1.2zM394.9 307.9h1.2v1.2h-1.2zM342.9 326.9h1.2v1.2h-1.2zM364.9 323.9h1.2v1.2h-1.2zM380.9 316.9h1.2v1.2h-1.2zM294.9 340.9h1.2v1.2h-1.2zM349.9 308.9h1.2v1.2h-1.2zM349.9 325.9h1.2v1.2h-1.2zM329.9 323.9h1.2v1.2h-1.2zM361.9 331.9h1.2v1.2h-1.2zM334.9 346.9h1.2v1.2h-1.2zM348.9 338.9h1.2v1.2h-1.2zM385.9 314.9h1.2v1.2h-1.2zM358.9 318.9h1.2v1.2h-1.2zM393.9 306.9h1.2v1.2h-1.2zM361.9 330.9h1.2v1.2h-1.2zM356.9 325.9h1.2v1.2h-1.2zM388.9 313.9h1.2v1.2h-1.2zM389.9 305.9h1.2v1.2h-1.2zM318.9 329.9h1.2v1.2h-1.2zM359.9 316.9h1.2v1.2h-1.2zM312.9 323.9h1.2v1.2h-1.2zM401.9 304.9h1.2v1.2h-1.2zM374.9 324.9h1.2v1.2h-1.2zM306.9 317.9h1.2v1.2h-1.2zM373.9 325.9h1.2v1.2h-1.2zM378.9 312.9h1.2v1.2h-1.2zM346.9 311.9h1.2v1.2h-1.2zM346.9 337.9h1.2v1.2h-1.2zM361.9 323.9h1.2v1.2h-1.2zM363.9 324.9h1.2v1.2h-1.2zM353.9 336.9h1.2v1.2h-1.2zM361.9 321.9h1.2v1.2h-1.2zM379.9 318.9h1.2v1.2h-1.2zM329.9 340.9h1.2v1.2h-1.2zM350.9 323.9h1.2v1.2h-1.2zM323.9 323.9h1.2v1.2h-1.2zM347.9 336.9h1.2v1.2h-1.2zM381.9 313.9h1.2v1.2h-1.2zM341.9 340.9h1.2v1.2h-1.2zM354.9 326.9h1.2v1.2h-1.2zM353.9 326.9h1.2v1.2h-1.2zM391.9 304.9h1.2v1.2h-1.2zM375.9 321.9h1.2v1.2h-1.2zM356.9 319.9h1.2v1.2h-1.2zM375.9 317.9h1.2v1.2h-1.2zM378.9 317.9h1.2v1.2h-1.2zM333.9 340.9h1.2v1.2h-1.2zM378.9 316.9h1.2v1.2h-1.2zM352.9 323.9h1.2v1.2h-1.2zM376.9 320.9h1.2v1.2h-1.2zM349.9 327.9h1.2v1.2h-1.2zM396.9 306.9h1.2v1.2h-1.2zM381.9 314.9h1.2v1.2h-1.2zM387.9 306.9h1.2v1.2h-1.2zM323.9 311.9h1.2v1.2h-1.2zM345.9 336.9h1.2v1.2h-1.2zM372.9 313.9h1.2v1.2h-1.2zM377.9 317.9h1.2v1.2h-1.2zM388.9 309.9h1.2v1.2h-1.2zM343.9 326.9h1.2v1.2h-1.2zM382.9 317.9h1.2v1.2h-1.2zM335.9 340.9h1.2v1.2h-1.2zM384.9 307.9h1.2v1.2h-1.2zM306.9 329.9h1.2v1.2h-1.2zM357.9 327.9h1.2v1.2h-1.2zM373.9 321.9h1.2v1.2h-1.2zM389.9 309.9h1.2v1.2h-1.2zM371.9 326.9h1.2v1.2h-1.2zM382.9 318.9h1.2v1.2h-1.2zM368.9 328.9h1.2v1.2h-1.2zM300.9 329.9h1.2v1.2h-1.2zM321.9 324.9h1.2v1.2h-1.2zM374.9 315.9h1.2v1.2h-1.2zM357.9 318.9h1.2v1.2h-1.2zM370.9 323.9h1.2v1.2h-1.2zM329.9 335.9h1.2v1.2h-1.2zM375.9 322.9h1.2v1.2h-1.2zM385.9 316.9h1.2v1.2h-1.2zM373.9 320.9h1.2v1.2h-1.2zM384.9 315.9h1.2v1.2h-1.2zM360.9 325.9h1.2v1.2h-1.2zM351.9 320.9h1.2v1.2h-1.2zM359.9 333.9h1.2v1.2h-1.2zM294.9 335.9h1.2v1.2h-1.2zM349.9 335.9h1.2v1.2h-1.2zM389.9 311.9h1.2v1.2h-1.2zM369.9 312.9h1.2v1.2h-1.2zM365.9 328.9h1.2v1.2h-1.2zM359.9 328.9h1.2v1.2h-1.2zM360.9 320.9h1.2v1.2h-1.2zM390.9 308.9h1.2v1.2h-1.2zM374.9 309.9h1.2v1.2h-1.2zM362.9 330.9h1.2v1.2h-1.2zM289.9 335.9h1.2v1.2h-1.2zM378.9 308.9h1.2v1.2h-1.2zM382.9 314.9h1.2v1.2h-1.2z" fill="#5c0aa8"/>
<path d="M432.9 309.9h1.2v1.2h-1.2zM369.9 355.9h1.2v1.2h-1.2zM386.9 348.9h1.2v1.2h-1.2zM421.9 326.9h1.2v1.2h-1.2zM427.9 319.9h1.2v1.2h-1.2zM425.9 311.9h1.2v1.2h-1.2zM392.9 324.9h1.2v1.2h-1.2zM394.9 331.9h1.2v1.2h-1.2zM393.9 333.9h1.2v1.2h-1.2zM365.9 349.9h1.2v1.2h-1.2zM445.9 317.9h1.2v1.2h-1.2zM370.9 356.9h1.2v1.2h-1.2zM369.9 336.9h1.2v1.2h-1.2zM378.9 337.9h1.2v1.2h-1.2zM409.9 335.9h1.2v1.2h-1.2zM418.9 324.9h1.2v1.2h-1.2zM376.9 323.9h1.2v1.2h-1.2zM362.9 348.9h1.2v1.2h-1.2zM393.9 330.9h1.2v1.2h-1.2zM414.9 321.9h1.2v1.2h-1.2zM397.9 342.9h1.2v1.2h-1.2zM438.9 312.9h1.2v1.2h-1.2zM409.9 338.9h1.2v1.2h-1.2zM408.9 329.9h1.2v1.2h-1.2zM422.9 320.9h1.2v1.2h-1.2zM404.9 328.9h1.2v1.2h-1.2zM408.9 306.9h1.2v1.2h-1.2zM429.9 313.9h1.2v1.2h-1.2zM322.9 371.9h1.2v1.2h-1.2zM432.9 305.9h1.2v1.2h-1.2zM416.9 313.9h1.2v1.2h-1.2zM417.9 330.9h1.2v1.2h-1.2zM410.9 310.9h1.2v1.2h-1.2zM360.9 335.9h1.2v1.2h-1.2zM414.9 322.9h1.2v1.2h-1.2zM378.9 338.9h1.2v1.2h-1.2zM441.9 313.9h1.2v1.2h-1.2zM421.9 323.9h1.2v1.2h-1.2zM400.9 337.9h1.2v1.2h-1.2zM407.9 323.9h1.2v1.2h-1.2zM410.9 317.9h1.2v1.2h-1.2zM407.9 333.9h1.2v1.2h-1.2zM413.9 330.9h1.2v1.2h-1.2zM424.9 314.9h1.2v1.2h-1.2zM393.9 341.9h1.2v1.2h-1.2zM374.9 351.9h1.2v1.2h-1.2zM357.9 342.9h1.2v1.2h-1.2zM360.9 358.9h1.2v1.2h-1.2zM420.9 324.9h1.2v1.2h-1.2zM427.9 323.9h1.2v1.2h-1.2zM433.9 307.9h1.2v1.2h-1.2zM387.9 331.9h1.2v1.2h-1.2zM419.9 318.9h1.2v1.2h-1.2zM441.9 321.9h1.2v1.2h-1.2zM433.9 325.9h1.2v1.2h-1.2zM403.9 334.9h1.2v1.2h-1.2zM410.9 325.9h1.2v1.2h-1.2zM419.9 327.9h1.2v1.2h-1.2zM404.9 331.9h1.2v1.2h-1.2zM392.9 333.9h1.2v1.2h-1.2zM395.9 338.9h1.2v1.2h-1.2zM404.9 322.9h1.2v1.2h-1.2zM405.9 317.9h1.2v1.2h-1.2zM409.9 330.9h1.2v1.2h-1.2zM422.9 314.9h1.2v1.2h-1.2zM446.9 306.9h1.2v1.2h-1.2zM368.9 343.9h1.2v1.2h-1.2zM377.9 342.9h1.2v1.2h-1.2zM388.9 315.9h1.2v1.2h-1.2zM423.9 326.9h1.2v1.2h-1.2zM450.9 307.9h1.2v1.2h-1.2zM405.9 318.9h1.2v1.2h-1.2zM395.9 333.9h1.2v1.2h-1.2zM396.9 336.9h1.2v1.2h-1.2zM430.9 326.9h1.2v1.2h-1.2zM387.9 345.9h1.2v1.2h-1.2zM386.9 338.9h1.2v1.2h-1.2zM374.9 346.9h1.2v1.2h-1.2zM408.9 336.9h1.2v1.2h-1.2zM368.9 344.9h1.2v1.2h-1.2zM424.9 327.9h1.2v1.2h-1.2zM447.9 305.9h1.2v1.2h-1.2zM410.9 332.9h1.2v1.2h-1.2zM407.9 337.9h1.2v1.2h-1.2zM412.9 326.9h1.2v1.2h-1.2zM377.9 338.9h1.2v1.2h-1.2zM405.9 334.9h1.2v1.2h-1.2zM402.9 317.9h1.2v1.2h-1.2zM386.9 340.9h1.2v1.2h-1.2zM448.9 301.9h1.2v1.2h-1.2zM416.9 332.9h1.2v1.2h-1.2zM410.9 322.9h1.2v1.2h-1.2zM419.9 311.9h1.2v1.2h-1.2zM355.9 352.9h1.2v1.2h-1.2zM425.9 318.9h1.2v1.2h-1.2zM413.9 332.9h1.2v1.2h-1.2zM396.9 326.9h1.2v1.2h-1.2zM393.9 344.9h1.2v1.2h-1.2zM411.9 327.9h1.2v1.2h-1.2zM412.9 320.9h1.2v1.2h-1.2zM420.9 316.9h1.2v1.2h-1.2zM410.9 337.9h1.2v1.2h-1.2zM375.9 334.9h1.2v1.2h-1.2zM410.9 328.9h1.2v1.2h-1.2zM430.9 315.9h1.2v1.2h-1.2zM401.9 312.9h1.2v1.2h-1.2zM410.9 311.9h1.2v1.2h-1.2zM390.9 343.9h1.2v1.2h-1.2zM420.9 321.9h1.2v1.2h-1.2zM415.9 325.9h1.2v1.2h-1.2zM426.9 322.9h1.2v1.2h-1.2zM368.9 356.9h1.2v1.2h-1.2zM391.9 329.9h1.2v1.2h-1.2zM397.9 327.9h1.2v1.2h-1.2zM379.9 341.9h1.2v1.2h-1.2zM416.9 319.9h1.2v1.2h-1.2zM392.9 328.9h1.2v1.2h-1.2zM382.9 337.9h1.2v1.2h-1.2zM422.9 324.9h1.2v1.2h-1.2zM406.9 335.9h1.2v1.2h-1.2zM424.9 320.9h1.2v1.2h-1.2zM359.9 358.9h1.2v1.2h-1.2zM417.9 311.9h1.2v1.2h-1.2zM414.9 320.9h1.2v1.2h-1.2zM354.9 356.9h1.2v1.2h-1.2zM413.9 328.9h1.2v1.2h-1.2zM381.9 330.9h1.2v1.2h-1.2zM416.9 316.9h1.2v1.2h-1.2zM426.9 290.9h1.2v1.2h-1.2zM405.9 326.9h1.2v1.2h-1.2zM437.9 320.9h1.2v1.2h-1.2zM416.9 333.9h1.2v1.2h-1.2zM410.9 308.9h1.2v1.2h-1.2zM402.9 325.9h1.2v1.2h-1.2zM398.9 343.9h1.2v1.2h-1.2zM404.9 323.9h1.2v1.2h-1.2zM417.9 331.9h1.2v1.2h-1.2zM355.9 342.9h1.2v1.2h-1.2zM399.9 328.9h1.2v1.2h-1.2zM359.9 345.9h1.2v1.2h-1.2zM403.9 322.9h1.2v1.2h-1.2zM425.9 323.9h1.2v1.2h-1.2zM371.9 356.9h1.2v1.2h-1.2zM384.9 329.9h1.2v1.2h-1.2zM385.9 322.9h1.2v1.2h-1.2zM412.9 321.9h1.2v1.2h-1.2zM417.9 304.9h1.2v1.2h-1.2zM423.9 329.9h1.2v1.2h-1.2zM431.9 324.9h1.2v1.2h-1.2zM409.9 307.9h1.2v1.2h-1.2zM436.9 313.9h1.2v1.2h-1.2zM416.9 317.9h1.2v1.2h-1.2zM417.9 320.9h1.2v1.2h-1.2zM406.9 324.9h1.2v1.2h-1.2zM404.9 335.9h1.2v1.2h-1.2zM367.9 341.9h1.2v1.2h-1.2zM424.9 324.9h1.2v1.2h-1.2zM396.9 330.9h1.2v1.2h-1.2zM397.9 324.9h1.2v1.2h-1.2zM370.9 346.9h1.2v1.2h-1.2zM372.9 326.9h1.2v1.2h-1.2zM414.9 329.9h1.2v1.2h-1.2zM423.9 319.9h1.2v1.2h-1.2zM417.9 316.9h1.2v1.2h-1.2zM403.9 329.9h1.2v1.2h-1.2zM352.9 366.9h1.2v1.2h-1.2zM381.9 346.9h1.2v1.2h-1.2zM385.9 330.9h1.2v1.2h-1.2zM444.9 320.9h1.2v1.2h-1.2zM416.9 306.9h1.2v1.2h-1.2zM398.9 333.9h1.2v1.2h-1.2zM421.9 324.9h1.2v1.2h-1.2zM433.9 317.9h1.2v1.2h-1.2zM444.9 318.9h1.2v1.2h-1.2zM438.9 319.9h1.2v1.2h-1.2zM420.9 332.9h1.2v1.2h-1.2zM405.9 307.9h1.2v1.2h-1.2zM360.9 346.9h1.2v1.2h-1.2zM410.9 315.9h1.2v1.2h-1.2zM426.9 326.9h1.2v1.2h-1.2zM432.9 304.9h1.2v1.2h-1.2zM383.9 346.9h1.2v1.2h-1.2zM393.9 343.9h1.2v1.2h-1.2zM398.9 332.9h1.2v1.2h-1.2zM453.9 313.9h1.2v1.2h-1.2zM364.9 335.9h1.2v1.2h-1.2zM423.9 321.9h1.2v1.2h-1.2zM414.9 331.9h1.2v1.2h-1.2zM429.9 319.9h1.2v1.2h-1.2zM385.9 349.9h1.2v1.2h-1.2zM439.9 313.9h1.2v1.2h-1.2zM392.9 320.9h1.2v1.2h-1.2zM418.9 333.9h1.2v1.2h-1.2zM398.9 330.9h1.2v1.2h-1.2zM425.9 322.9h1.2v1.2h-1.2zM371.9 330.9h1.2v1.2h-1.2zM389.9 343.9h1.2v1.2h-1.2zM394.9 338.9h1.2v1.2h-1.2zM378.9 332.9h1.2v1.2h-1.2zM440.9 313.9h1.2v1.2h-1.2zM415.9 328.9h1.2v1.2h-1.2zM384.9 319.9h1.2v1.2h-1.2zM419.9 333.9h1.2v1.2h-1.2zM420.9 325.9h1.2v1.2h-1.2zM418.9 318.9h1.2v1.2h-1.2zM430.9 325.9h1.2v1.2h-1.2zM408.9 335.9h1.2v1.2h-1.2zM375.9 332.9h1.2v1.2h-1.2zM412.9 331.9h1.2v1.2h-1.2zM423.9 313.9h1.2v1.2h-1.2zM409.9 323.9h1.2v1.2h-1.2zM401.9 335.9h1.2v1.2h-1.2zM448.9 310.9h1.2v1.2h-1.2zM393.9 328.9h1.2v1.2h-1.2zM453.9 305.9h1.2v1.2h-1.2zM398.9 334.9h1.2v1.2h-1.2zM389.9 338.9h1.2v1.2h-1.2zM415.9 315.9h1.2v1.2h-1.2zM400.9 324.9h1.2v1.2h-1.2zM424.9 315.9h1.2v1.2h-1.2zM401.9 338.9h1.2v1.2h-1.2zM400.9 313.9h1.2v1.2h-1.2zM420.9 323.9h1.2v1.2h-1.2zM399.9 320.9h1.2v1.2h-1.2zM405.9 325.9h1.2v1.2h-1.2zM430.9 318.9h1.2v1.2h-1.2zM423.9 309.9h1.2v1.2h-1.2zM356.9 340.9h1.2v1.2h-1.2zM432.9 311.9h1.2v1.2h-1.2zM377.9 352.9h1.2v1.2h-1.2zM417.9 307.9h1.2v1.2h-1.2zM399.9 316.9h1.2v1.2h-1.2zM353.9 344.9h1.2v1.2h-1.2zM381.9 334.9h1.2v1.2h-1.2zM349.9 346.9h1.2v1.2h-1.2zM378.9 352.9h1.2v1.2h-1.2zM379.9 342.9h1.2v1.2h-1.2zM388.9 340.9h1.2v1.2h-1.2zM421.9 308.9h1.2v1.2h-1.2zM407.9 329.9h1.2v1.2h-1.2zM409.9 331.9h1.2v1.2h-1.2zM380.9 330.9h1.2v1.2h-1.2zM439.9 306.9h1.2v1.2h-1.2zM404.9 316.9h1.2v1.2h-1.2zM409.9 318.9h1.2v1.2h-1.2zM399.9 331.9h1.2v1.2h-1.2zM341.9 346.9h1.2v1.2h-1.2zM403.9 318.9h1.2v1.2h-1.2zM412.9 325.9h1.2v1.2h-1.2zM413.9 323.9h1.2v1.2h-1.2zM436.9 319.9h1.2v1.2h-1.2zM385.9 338.9h1.2v1.2h-1.2zM414.9 332.9h1.2v1.2h-1.2zM383.9 336.9h1.2v1.2h-1.2zM421.9 331.9h1.2v1.2h-1.2zM417.9 333.9h1.2v1.2h-1.2zM394.9 324.9h1.2v1.2h-1.2zM386.9 330.9h1.2v1.2h-1.2zM400.9 309.9h1.2v1.2h-1.2zM393.9 337.9h1.2v1.2h-1.2zM402.9 323.9h1.2v1.2h-1.2zM384.9 350.9h1.2v1.2h-1.2zM448.9 316.9h1.2v1.2h-1.2zM405.9 335.9h1.2v1.2h-1.2zM427.9 327.9h1.2v1.2h-1.2zM374.9 336.9h1.2v1.2h-1.2zM396.9 342.9h1.2v1.2h-1.2zM411.9 320.9h1.2v1.2h-1.2zM402.9 321.9h1.2v1.2h-1.2zM419.9 332.9h1.2v1.2h-1.2zM423.9 327.9h1.2v1.2h-1.2zM366.9 359.9h1.2v1.2h-1.2zM435.9 324.9h1.2v1.2h-1.2zM403.9 331.9h1.2v1.2h-1.2zM415.9 323.9h1.2v1.2h-1.2zM422.9 330.9h1.2v1.2h-1.2zM415.9 329.9h1.2v1.2h-1.2zM414.9 308.9h1.2v1.2h-1.2zM450.9 314.9h1.2v1.2h-1.2zM411.9 334.9h1.2v1.2h-1.2zM377.9 328.9h1.2v1.2h-1.2zM370.9 337.9h1.2v1.2h-1.2zM390.9 322.9h1.2v1.2h-1.2zM392.9 330.9h1.2v1.2h-1.2zM410.9 327.9h1.2v1.2h-1.2zM396.9 343.9h1.2v1.2h-1.2zM405.9 306.9h1.2v1.2h-1.2zM437.9 315.9h1.2v1.2h-1.2zM424.9 306.9h1.2v1.2h-1.2zM415.9 311.9h1.2v1.2h-1.2zM397.9 334.9h1.2v1.2h-1.2zM448.9 308.9h1.2v1.2h-1.2zM415.9 312.9h1.2v1.2h-1.2zM399.9 340.9h1.2v1.2h-1.2zM427.9 307.9h1.2v1.2h-1.2zM416.9 327.9h1.2v1.2h-1.2zM404.9 329.9h1.2v1.2h-1.2zM396.9 321.9h1.2v1.2h-1.2zM382.9 338.9h1.2v1.2h-1.2zM412.9 328.9h1.2v1.2h-1.2zM416.9 325.9h1.2v1.2h-1.2zM343.9 369.9h1.2v1.2h-1.2zM392.9 327.9h1.2v1.2h-1.2zM429.9 324.9h1.2v1.2h-1.2zM451.9 314.9h1.2v1.2h-1.2zM420.9 320.9h1.2v1.2h-1.2zM411.9 324.9h1.2v1.2h-1.2zM410.9 334.9h1.2v1.2h-1.2zM414.9 327.9h1.2v1.2h-1.2zM428.9 315.9h1.2v1.2h-1.2zM380.9 338.9h1.2v1.2h-1.2zM413.9 326.9h1.2v1.2h-1.2zM400.9 338.9h1.2v1.2h-1.2zM406.9 306.9h1.2v1.2h-1.2zM425.9 313.9h1.2v1.2h-1.2zM458.9 308.9h1.2v1.2h-1.2zM418.9 314.9h1.2v1.2h-1.2zM411.9 322.9h1.2v1.2h-1.2zM413.9 331.9h1.2v1.2h-1.2zM397.9 337.9h1.2v1.2h-1.2zM421.9 322.9h1.2v1.2h-1.2zM423.9 328.9h1.2v1.2h-1.2zM410.9 323.9h1.2v1.2h-1.2zM414.9 326.9h1.2v1.2h-1.2zM381.9 327.9h1.2v1.2h-1.2zM403.9 328.9h1.2v1.2h-1.2zM410.9 333.9h1.2v1.2h-1.2zM386.9 333.9h1.2v1.2h-1.2zM396.9 315.9h1.2v1.2h-1.2zM384.9 343.9h1.2v1.2h-1.2zM426.9 321.9h1.2v1.2h-1.2zM422.9 328.9h1.2v1.2h-1.2zM413.9 329.9h1.2v1.2h-1.2zM387.9 347.9h1.2v1.2h-1.2zM432.9 312.9h1.2v1.2h-1.2zM430.9 312.9h1.2v1.2h-1.2zM373.9 329.9h1.2v1.2h-1.2zM403.9 325.9h1.2v1.2h-1.2zM434.9 319.9h1.2v1.2h-1.2zM387.9 340.9h1.2v1.2h-1.2zM407.9 321.9h1.2v1.2h-1.2zM435.9 312.9h1.2v1.2h-1.2zM399.9 337.9h1.2v1.2h-1.2zM425.9 319.9h1.2v1.2h-1.2zM408.9 322.9h1.2v1.2h-1.2zM345.9 366.9h1.2v1.2h-1.2zM382.9 349.9h1.2v1.2h-1.2zM413.9 321.9h1.2v1.2h-1.2zM389.9 325.9h1.2v1.2h-1.2zM387.9 344.9h1.2v1.2h-1.2zM417.9 326.9h1.2v1.2h-1.2zM404.9 332.9h1.2v1.2h-1.2zM377.9 333.9h1.2v1.2h-1.2zM401.9 323.9h1.2v1.2h-1.2zM374.9 344.9h1.2v1.2h-1.2zM389.9 347.9h1.2v1.2h-1.2zM390.9 344.9h1.2v1.2h-1.2zM387.9 334.9h1.2v1.2h-1.2zM406.9 319.9h1.2v1.2h-1.2zM420.9 318.9h1.2v1.2h-1.2zM385.9 348.9h1.2v1.2h-1.2zM366.9 330.9h1.2v1.2h-1.2zM381.9 329.9h1.2v1.2h-1.2zM394.9 344.9h1.2v1.2h-1.2zM374.9 340.9h1.2v1.2h-1.2zM369.9 356.9h1.2v1.2h-1.2zM387.9 337.9h1.2v1.2h-1.2zM397.9 336.9h1.2v1.2h-1.2zM354.9 342.9h1.2v1.2h-1.2zM411.9 333.9h1.2v1.2h-1.2zM421.9 313.9h1.2v1.2h-1.2zM409.9 312.9h1.2v1.2h-1.2zM422.9 323.9h1.2v1.2h-1.2zM369.9 347.9h1.2v1.2h-1.2zM403.9 327.9h1.2v1.2h-1.2zM390.9 333.9h1.2v1.2h-1.2zM382.9 332.9h1.2v1.2h-1.2zM463.9 309.9h1.2v1.2h-1.2zM401.9 316.9h1.2v1.2h-1.2zM355.9 346.9h1.2v1.2h-1.2zM384.9 325.9h1.2v1.2h-1.2zM390.9 341.9h1.2v1.2h-1.2zM402.9 326.9h1.2v1.2h-1.2zM390.9 319.9h1.2v1.2h-1.2zM395.9 336.9h1.2v1.2h-1.2zM437.9 308.9h1.2v1.2h-1.2zM413.9 312.9h1.2v1.2h-1.2zM394.9 339.9h1.2v1.2h-1.2zM386.9 325.9h1.2v1.2h-1.2zM403.9 321.9h1.2v1.2h-1.2zM415.9 314.9h1.2v1.2h-1.2zM406.9 339.9h1.2v1.2h-1.2zM394.9 323.9h1.2v1.2h-1.2zM430.9 322.9h1.2v1.2h-1.2zM438.9 308.9h1.2v1.2h-1.2zM411.9 328.9h1.2v1.2h-1.2zM417.9 324.9h1.2v1.2h-1.2zM404.9 320.9h1.2v1.2h-1.2zM379.9 330.9h1.2v1.2h-1.2zM411.9 316.9h1.2v1.2h-1.2zM411.9 331.9h1.2v1.2h-1.2zM393.9 339.9h1.2v1.2h-1.2zM447.9 316.9h1.2v1.2h-1.2zM410.9 314.9h1.2v1.2h-1.2zM432.9 321.9h1.2v1.2h-1.2zM413.9 314.9h1.2v1.2h-1.2zM391.9 315.9h1.2v1.2h-1.2zM391.9 347.9h1.2v1.2h-1.2zM402.9 327.9h1.2v1.2h-1.2zM389.9 337.9h1.2v1.2h-1.2zM401.9 332.9h1.2v1.2h-1.2zM390.9 335.9h1.2v1.2h-1.2zM415.9 330.9h1.2v1.2h-1.2zM409.9 333.9h1.2v1.2h-1.2zM402.9 322.9h1.2v1.2h-1.2zM382.9 320.9h1.2v1.2h-1.2zM441.9 319.9h1.2v1.2h-1.2zM443.9 313.9h1.2v1.2h-1.2zM412.9 333.9h1.2v1.2h-1.2zM405.9 313.9h1.2v1.2h-1.2zM422.9 319.9h1.2v1.2h-1.2zM392.9 342.9h1.2v1.2h-1.2zM430.9 320.9h1.2v1.2h-1.2zM397.9 343.9h1.2v1.2h-1.2zM405.9 321.9h1.2v1.2h-1.2zM427.9 326.9h1.2v1.2h-1.2zM403.9 332.9h1.2v1.2h-1.2zM391.9 324.9h1.2v1.2h-1.2zM383.9 343.9h1.2v1.2h-1.2zM423.9 323.9h1.2v1.2h-1.2zM401.9 337.9h1.2v1.2h-1.2zM412.9 315.9h1.2v1.2h-1.2zM416.9 312.9h1.2v1.2h-1.2zM384.9 345.9h1.2v1.2h-1.2zM401.9 329.9h1.2v1.2h-1.2zM375.9 351.9h1.2v1.2h-1.2zM369.9 330.9h1.2v1.2h-1.2zM391.9 317.9h1.2v1.2h-1.2zM442.9 318.9h1.2v1.2h-1.2zM348.9 366.9h1.2v1.2h-1.2zM379.9 323.9h1.2v1.2h-1.2zM421.9 315.9h1.2v1.2h-1.2zM402.9 338.9h1.2v1.2h-1.2zM429.9 320.9h1.2v1.2h-1.2zM394.9 341.9h1.2v1.2h-1.2zM402.9 329.9h1.2v1.2h-1.2zM378.9 346.9h1.2v1.2h-1.2zM416.9 331.9h1.2v1.2h-1.2zM428.9 314.9h1.2v1.2h-1.2zM414.9 335.9h1.2v1.2h-1.2zM375.9 323.9h1.2v1.2h-1.2zM430.9 321.9h1.2v1.2h-1.2zM405.9 331.9h1.2v1.2h-1.2zM392.9 344.9h1.2v1.2h-1.2zM437.9 323.9h1.2v1.2h-1.2zM424.9 326.9h1.2v1.2h-1.2zM409.9 321.9h1.2v1.2h-1.2zM351.9 366.9h1.2v1.2h-1.2zM400.9 326.9h1.2v1.2h-1.2zM399.9 312.9h1.2v1.2h-1.2zM389.9 342.9h1.2v1.2h-1.2zM381.9 338.9h1.2v1.2h-1.2zM390.9 336.9h1.2v1.2h-1.2zM414.9 318.9h1.2v1.2h-1.2zM384.9 333.9h1.2v1.2h-1.2zM416.9 326.9h1.2v1.2h-1.2zM398.9 314.9h1.2v1.2h-1.2zM404.9 337.9h1.2v1.2h-1.2zM436.9 318.9h1.2v1.2h-1.2zM403.9 333.9h1.2v1.2h-1.2zM423.9 312.9h1.2v1.2h-1.2zM394.9 315.9h1.2v1.2h-1.2zM383.9 327.9h1.2v1.2h-1.2zM434.9 320.9h1.2v1.2h-1.2zM420.9 330.9h1.2v1.2h-1.2zM382.9 344.9h1.2v1.2h-1.2zM407.9 316.9h1.2v1.2h-1.2zM414.9 330.9h1.2v1.2h-1.2zM429.9 328.9h1.2v1.2h-1.2zM417.9 329.9h1.2v1.2h-1.2zM437.9 318.9h1.2v1.2h-1.2zM429.9 306.9h1.2v1.2h-1.2zM389.9 316.9h1.2v1.2h-1.2zM374.9 325.9h1.2v1.2h-1.2zM368.9 358.9h1.2v1.2h-1.2zM418.9 312.9h1.2v1.2h-1.2zM399.9 321.9h1.2v1.2h-1.2zM430.9 308.9h1.2v1.2h-1.2zM383.9 334.9h1.2v1.2h-1.2zM431.9 327.9h1.2v1.2h-1.2zM447.9 307.9h1.2v1.2h-1.2zM358.9 340.9h1.2v1.2h-1.2zM428.9 325.9h1.2v1.2h-1.2zM410.9 336.9h1.2v1.2h-1.2zM415.9 316.9h1.2v1.2h-1.2zM401.9 311.9h1.2v1.2h-1.2zM428.9 316.9h1.2v1.2h-1.2zM360.9 345.9h1.2v1.2h-1.2zM418.9 328.9h1.2v1.2h-1.2zM387.9 328.9h1.2v1.2h-1.2zM384.9 344.9h1.2v1.2h-1.2zM396.9 329.9h1.2v1.2h-1.2zM401.9 330.9h1.2v1.2h-1.2zM411.9 312.9h1.2v1.2h-1.2zM413.9 322.9h1.2v1.2h-1.2zM446.9 316.9h1.2v1.2h-1.2zM429.9 327.9h1.2v1.2h-1.2zM390.9 327.9h1.2v1.2h-1.2zM396.9 339.9h1.2v1.2h-1.2zM386.9 341.9h1.2v1.2h-1.2zM370.9 348.9h1.2v1.2h-1.2zM434.9 322.9h1.2v1.2h-1.2zM432.9 319.9h1.2v1.2h-1.2zM414.9 317.9h1.2v1.2h-1.2zM405.9 336.9h1.2v1.2h-1.2zM414.9 304.9h1.2v1.2h-1.2zM436.9 321.9h1.2v1.2h-1.2zM362.9 344.9h1.2v1.2h-1.2zM443.9 320.9h1.2v1.2h-1.2zM369.9 337.9h1.2v1.2h-1.2zM364.9 340.9h1.2v1.2h-1.2zM384.9 338.9h1.2v1.2h-1.2zM446.9 317.9h1.2v1.2h-1.2zM420.9 326.9h1.2v1.2h-1.2zM405.9 323.9h1.2v1.2h-1.2zM386.9 345.9h1.2v1.2h-1.2zM431.9 323.9h1.2v1.2h-1.2zM394.9 325.9h1.2v1.2h-1.2zM380.9 332.9h1.2v1.2h-1.2zM393.9 342.9h1.2v1.2h-1.2zM435.9 320.9h1.2v1.2h-1.2zM456.9 311.9h1.2v1.2h-1.2zM373.9 352.9h1.2v1.2h-1.2zM423.9 302.9h1.2v1.2h-1.2zM415.9 324.9h1.2v1.2h-1.2zM399.9 318.9h1.2v1.2h-1.2zM434.9 323.9h1.2v1.2h-1.2zM417.9 312.9h1.2v1.2h-1.2zM352.9 351.9h1.2v1.2h-1.2zM434.9 316.9h1.2v1.2h-1.2zM388.9 348.9h1.2v1.2h-1.2zM406.9 334.9h1.2v1.2h-1.2zM443.9 319.9h1.2v1.2h-1.2zM432.9 322.9h1.2v1.2h-1.2zM413.9 308.9h1.2v1.2h-1.2zM382.9 351.9h1.2v1.2h-1.2zM439.9 321.9h1.2v1.2h-1.2zM398.9 324.9h1.2v1.2h-1.2zM419.9 322.9h1.2v1.2h-1.2zM390.9 313.9h1.2v1.2h-1.2zM399.9 334.9h1.2v1.2h-1.2zM401.9 336.9h1.2v1.2h-1.2zM427.9 312.9h1.2v1.2h-1.2zM393.9 338.9h1.2v1.2h-1.2zM438.9 315.9h1.2v1.2h-1.2zM428.9 323.9h1.2v1.2h-1.2zM419.9 330.9h1.2v1.2h-1.2zM404.9 330.9h1.2v1.2h-1.2zM405.9 327.9h1.2v1.2h-1.2zM416.9 318.9h1.2v1.2h-1.2zM372.9 342.9h1.2v1.2h-1.2zM443.9 311.9h1.2v1.2h-1.2zM391.9 346.9h1.2v1.2h-1.2zM380.9 324.9h1.2v1.2h-1.2zM392.9 334.9h1.2v1.2h-1.2zM385.9 317.9h1.2v1.2h-1.2zM409.9 326.9h1.2v1.2h-1.2zM454.9 313.9h1.2v1.2h-1.2zM343.9 352.9h1.2v1.2h-1.2zM426.9 328.9h1.2v1.2h-1.2zM371.9 335.9h1.2v1.2h-1.2zM405.9 328.9h1.2v1.2h-1.2zM441.9 315.9h1.2v1.2h-1.2zM410.9 324.9h1.2v1.2h-1.2zM430.9 313.9h1.2v1.2h-1.2zM432.9 306.9h1.2v1.2h-1.2zM409.9 328.9h1.2v1.2h-1.2zM434.9 306.9h1.2v1.2h-1.2zM380.9 348.9h1.2v1.2h-1.2zM408.9 319.9h1.2v1.2h-1.2zM409.9 308.9h1.2v1.2h-1.2zM438.9 317.9h1.2v1.2h-1.2zM427.9 320.9h1.2v1.2h-1.2zM407.9 328.9h1.2v1.2h-1.2zM367.9 344.9h1.2v1.2h-1.2zM391.9 344.9h1.2v1.2h-1.2zM414.9 325.9h1.2v1.2h-1.2zM454.9 314.9h1.2v1.2h-1.2zM397.9 319.9h1.2v1.2h-1.2zM381.9 341.9h1.2v1.2h-1.2zM378.9 335.9h1.2v1.2h-1.2zM424.9 307.9h1.2v1.2h-1.2zM409.9 314.9h1.2v1.2h-1.2zM426.9 324.9h1.2v1.2h-1.2zM410.9 319.9h1.2v1.2h-1.2zM426.9 325.9h1.2v1.2h-1.2zM421.9 325.9h1.2v1.2h-1.2zM412.9 329.9h1.2v1.2h-1.2zM377.9 332.9h1.2v1.2h-1.2zM428.9 326.9h1.2v1.2h-1.2zM410.9 331.9h1.2v1.2h-1.2zM379.9 339.9h1.2v1.2h-1.2zM382.9 334.9h1.2v1.2h-1.2zM384.9 327.9h1.2v1.2h-1.2zM414.9 310.9h1.2v1.2h-1.2zM412.9 336.9h1.2v1.2h-1.2zM418.9 309.9h1.2v1.2h-1.2zM444.9 307.9h1.2v1.2h-1.2zM372.9 352.9h1.2v1.2h-1.2zM419.9 328.9h1.2v1.2h-1.2zM443.9 310.9h1.2v1.2h-1.2zM421.9 329.9h1.2v1.2h-1.2zM389.9 334.9h1.2v1.2h-1.2zM411.9 335.9h1.2v1.2h-1.2zM407.9 327.9h1.2v1.2h-1.2zM408.9 331.9h1.2v1.2h-1.2zM393.9 324.9h1.2v1.2h-1.2zM427.9 313.9h1.2v1.2h-1.2zM359.9 354.9h1.2v1.2h-1.2zM415.9 332.9h1.2v1.2h-1.2zM379.9 332.9h1.2v1.2h-1.2zM416.9 320.9h1.2v1.2h-1.2zM420.9 327.9h1.2v1.2h-1.2zM383.9 342.9h1.2v1.2h-1.2zM406.9 309.9h1.2v1.2h-1.2zM428.9 320.9h1.2v1.2h-1.2zM455.9 315.9h1.2v1.2h-1.2zM411.9 330.9h1.2v1.2h-1.2zM383.9 351.9h1.2v1.2h-1.2zM418.9 325.9h1.2v1.2h-1.2zM387.9 324.9h1.2v1.2h-1.2zM388.9 321.9h1.2v1.2h-1.2zM444.9 316.9h1.2v1.2h-1.2zM431.9 316.9h1.2v1.2h-1.2zM422.9 325.9h1.2v1.2h-1.2zM418.9 326.9h1.2v1.2h-1.2zM359.9 340.9h1.2v1.2h-1.2zM397.9 335.9h1.2v1.2h-1.2zM351.9 352.9h1.2v1.2h-1.2zM404.9 340.9h1.2v1.2h-1.2zM416.9 311.9h1.2v1.2h-1.2zM426.9 323.9h1.2v1.2h-1.2zM379.9 346.9h1.2v1.2h-1.2zM356.9 349.9h1.2v1.2h-1.2zM396.9 333.9h1.2v1.2h-1.2zM435.9 302.9h1.2v1.2h-1.2zM382.9 342.9h1.2v1.2h-1.2zM428.9 324.9h1.2v1.2h-1.2zM390.9 346.9h1.2v1.2h-1.2zM406.9 331.9h1.2v1.2h-1.2zM368.9 349.9h1.2v1.2h-1.2zM413.9 310.9h1.2v1.2h-1.2zM399.9 339.9h1.2v1.2h-1.2zM411.9 321.9h1.2v1.2h-1.2zM377.9 344.9h1.2v1.2h-1.2zM410.9 330.9h1.2v1.2h-1.2zM439.9 315.9h1.2v1.2h-1.2zM399.9 332.9h1.2v1.2h-1.2zM440.9 322.9h1.2v1.2h-1.2zM398.9 320.9h1.2v1.2h-1.2zM389.9 330.9h1.2v1.2h-1.2zM421.9 327.9h1.2v1.2h-1.2zM397.9 322.9h1.2v1.2h-1.2zM416.9 322.9h1.2v1.2h-1.2zM425.9 307.9h1.2v1.2h-1.2zM423.9 311.9h1.2v1.2h-1.2zM387.9 330.9h1.2v1.2h-1.2zM448.9 317.9h1.2v1.2h-1.2zM404.9 314.9h1.2v1.2h-1.2zM399.9 315.9h1.2v1.2h-1.2zM421.9 321.9h1.2v1.2h-1.2zM416.9 324.9h1.2v1.2h-1.2zM390.9 339.9h1.2v1.2h-1.2zM373.9 347.9h1.2v1.2h-1.2zM411.9 310.9h1.2v1.2h-1.2zM401.9 320.9h1.2v1.2h-1.2zM432.9 316.9h1.2v1.2h-1.2zM424.9 321.9h1.2v1.2h-1.2zM425.9 321.9h1.2v1.2h-1.2zM376.9 336.9h1.2v1.2h-1.2zM422.9 322.9h1.2v1.2h-1.2zM445.9 306.9h1.2v1.2h-1.2zM425.9 329.9h1.2v1.2h-1.2zM406.9 325.9h1.2v1.2h-1.2zM404.9 326.9h1.2v1.2h-1.2zM397.9 325.9h1.2v1.2h-1.2zM411.9 311.9h1.2v1.2h-1.2zM390.9 315.9h1.2v1.2h-1.2zM387.9 343.9h1.2v1.2h-1.2zM417.9 318.9h1.2v1.2h-1.2zM432.9 326.9h1.2v1.2h-1.2zM402.9 337.9h1.2v1.2h-1.2zM371.9 328.9h1.2v1.2h-1.2zM418.9 317.9h1.2v1.2h-1.2zM417.9 332.9h1.2v1.2h-1.2zM378.9 331.9h1.2v1.2h-1.2zM435.9 316.9h1.2v1.2h-1.2zM385.9 323.9h1.2v1.2h-1.2zM377.9 341.9h1.2v1.2h-1.2zM358.9 348.9h1.2v1.2h-1.2zM432.9 310.9h1.2v1.2h-1.2zM384.9 330.9h1.2v1.2h-1.2zM408.9 318.9h1.2v1.2h-1.2zM402.9 333.9h1.2v1.2h-1.2zM413.9 320.9h1.2v1.2h-1.2zM426.9 310.9h1.2v1.2h-1.2zM421.9 311.9h1.2v1.2h-1.2zM412.9 322.9h1.2v1.2h-1.2zM385.9 328.9h1.2v1.2h-1.2zM423.9 314.9h1.2v1.2h-1.2zM370.9 352.9h1.2v1.2h-1.2zM425.9 317.9h1.2v1.2h-1.2zM400.9 330.9h1.2v1.2h-1.2zM380.9 334.9h1.2v1.2h-1.2zM360.9 352.9h1.2v1.2h-1.2zM391.9 335.9h1.2v1.2h-1.2zM391.9 314.9h1.2v1.2h-1.2zM410.9 335.9h1.2v1.2h-1.2zM451.9 312.9h1.2v1.2h-1.2zM451.9 305.9h1.2v1.2h-1.2zM418.9 323.9h1.2v1.2h-1.2zM411.9 337.9h1.2v1.2h-1.2zM409.9 336.9h1.2v1.2h-1.2zM422.9 316.9h1.2v1.2h-1.2zM409.9 332.9h1.2v1.2h-1.2zM382.9 329.9h1.2v1.2h-1.2zM396.9 314.9h1.2v1.2h-1.2zM401.9 340.9h1.2v1.2h-1.2zM393.9 336.9h1.2v1.2h-1.2zM391.9 345.9h1.2v1.2h-1.2zM446.9 309.9h1.2v1.2h-1.2zM351.9 356.9h1.2v1.2h-1.2zM385.9 331.9h1.2v1.2h-1.2zM440.9 308.9h1.2v1.2h-1.2zM409.9 337.9h1.2v1.2h-1.2zM375.9 348.9h1.2v1.2h-1.2zM414.9 334.9h1.2v1.2h-1.2zM451.9 307.9h1.2v1.2h-1.2zM437.9 321.9h1.2v1.2h-1.2zM391.9 337.9h1.2v1.2h-1.2zM402.9 332.9h1.2v1.2h-1.2zM394.9 336.9h1.2v1.2h-1.2zM375.9 350.9h1.2v1.2h-1.2zM410.9 329.9h1.2v1.2h-1.2zM425.9 320.9h1.2v1.2h-1.2zM360.9 359.9h1.2v1.2h-1.2zM367.9 351.9h1.2v1.2h-1.2zM392.9 322.9h1.2v1.2h-1.2zM419.9 313.9h1.2v1.2h-1.2zM452.9 310.9h1.2v1.2h-1.2zM441.9 308.9h1.2v1.2h-1.2zM419.9 323.9h1.2v1.2h-1.2zM385.9 347.9h1.2v1.2h-1.2zM408.9 333.9h1.2v1.2h-1.2zM376.9 345.9h1.2v1.2h-1.2zM367.9 350.9h1.2v1.2h-1.2zM402.9 318.9h1.2v1.2h-1.2zM412.9 323.9h1.2v1.2h-1.2zM429.9 317.9h1.2v1.2h-1.2zM430.9 310.9h1.2v1.2h-1.2zM369.9 353.9h1.2v1.2h-1.2zM360.9 334.9h1.2v1.2h-1.2zM429.9 308.9h1.2v1.2h-1.2zM407.9 338.9h1.2v1.2h-1.2zM428.9 327.9h1.2v1.2h-1.2zM370.9 342.9h1.2v1.2h-1.2zM429.9 314.9h1.2v1.2h-1.2zM441.9 317.9h1.2v1.2h-1.2zM391.9 319.9h1.2v1.2h-1.2zM370.9 329.9h1.2v1.2h-1.2zM398.9 339.9h1.2v1.2h-1.2zM391.9 336.9h1.2v1.2h-1.2zM418.9 315.9h1.2v1.2h-1.2zM404.9 321.9h1.2v1.2h-1.2zM406.9 327.9h1.2v1.2h-1.2zM409.9 316.9h1.2v1.2h-1.2zM389.9 332.9h1.2v1.2h-1.2zM426.9 329.9h1.2v1.2h-1.2zM426.9 305.9h1.2v1.2h-1.2zM373.9 342.9h1.2v1.2h-1.2zM408.9 324.9h1.2v1.2h-1.2zM394.9 342.9h1.2v1.2h-1.2zM376.9 331.9h1.2v1.2h-1.2zM400.9 335.9h1.2v1.2h-1.2zM403.9 320.9h1.2v1.2h-1.2zM407.9 330.9h1.2v1.2h-1.2zM344.9 344.9h1.2v1.2h-1.2zM380.9 323.9h1.2v1.2h-1.2zM422.9 329.9h1.2v1.2h-1.2zM414.9 333.9h1.2v1.2h-1.2zM347.9 353.9h1.2v1.2h-1.2zM385.9 340.9h1.2v1.2h-1.2zM399.9 325.9h1.2v1.2h-1.2zM391.9 313.9h1.2v1.2h-1.2zM416.9 305.9h1.2v1.2h-1.2zM403.9 339.9h1.2v1.2h-1.2zM371.9 333.9h1.2v1.2h-1.2zM437.9 313.9h1.2v1.2h-1.2zM407.9 305.9h1.2v1.2h-1.2zM388.9 343.9h1.2v1.2h-1.2zM407.9 322.9h1.2v1.2h-1.2zM373.9 333.9h1.2v1.2h-1.2zM413.9 325.9h1.2v1.2h-1.2zM382.9 346.9h1.2v1.2h-1.2zM434.9 308.9h1.2v1.2h-1.2zM399.9 329.9h1.2v1.2h-1.2zM417.9 317.9h1.2v1.2h-1.2zM386.9 318.9h1.2v1.2h-1.2zM387.9 327.9h1.2v1.2h-1.2zM390.9 324.9h1.2v1.2h-1.2zM411.9 332.9h1.2v1.2h-1.2zM411.9 305.9h1.2v1.2h-1.2zM399.9 336.9h1.2v1.2h-1.2zM424.9 311.9h1.2v1.2h-1.2zM383.9 337.9h1.2v1.2h-1.2zM420.9 305.9h1.2v1.2h-1.2zM442.9 315.9h1.2v1.2h-1.2zM429.9 312.9h1.2v1.2h-1.2zM448.9 306.9h1.2v1.2h-1.2zM393.9 340.9h1.2v1.2h-1.2zM412.9 319.9h1.2v1.2h-1.2zM384.9 321.9h1.2v1.2h-1.2zM424.9 322.9h1.2v1.2h-1.2zM450.9 316.9h1.2v1.2h-1.2zM388.9 344.9h1.2v1.2h-1.2zM413.9 313.9h1.2v1.2h-1.2zM431.9 320.9h1.2v1.2h-1.2zM371.9 347.9h1.2v1.2h-1.2zM402.9 309.9h1.2v1.2h-1.2zM372.9 350.9h1.2v1.2h-1.2zM449.9 318.9h1.2v1.2h-1.2zM402.9 331.9h1.2v1.2h-1.2zM342.9 349.9h1.2v1.2h-1.2zM375.9 333.9h1.2v1.2h-1.2zM428.9 313.9h1.2v1.2h-1.2zM338.9 348.9h1.2v1.2h-1.2zM381.9 352.9h1.2v1.2h-1.2zM414.9 303.9h1.2v1.2h-1.2zM395.9 332.9h1.2v1.2h-1.2zM406.9 322.9h1.2v1.2h-1.2zM448.9 309.9h1.2v1.2h-1.2zM413.9 324.9h1.2v1.2h-1.2zM375.9 342.9h1.2v1.2h-1.2zM370.9 327.9h1.2v1.2h-1.2zM400.9 341.9h1.2v1.2h-1.2zM452.9 307.9h1.2v1.2h-1.2zM410.9 312.9h1.2v1.2h-1.2zM417.9 305.9h1.2v1.2h-1.2zM392.9 331.9h1.2v1.2h-1.2zM387.9 346.9h1.2v1.2h-1.2zM414.9 307.9h1.2v1.2h-1.2zM407.9 308.9h1.2v1.2h-1.2zM406.9 323.9h1.2v1.2h-1.2zM437.9 324.9h1.2v1.2h-1.2zM444.9 303.9h1.2v1.2h-1.2zM410.9 318.9h1.2v1.2h-1.2zM430.9 314.9h1.2v1.2h-1.2zM388.9 347.9h1.2v1.2h-1.2zM413.9 319.9h1.2v1.2h-1.2zM386.9 326.9h1.2v1.2h-1.2zM398.9 318.9h1.2v1.2h-1.2zM400.9 342.9h1.2v1.2h-1.2zM406.9 337.9h1.2v1.2h-1.2zM393.9 325.9h1.2v1.2h-1.2zM442.9 309.9h1.2v1.2h-1.2zM403.9 338.9h1.2v1.2h-1.2zM457.9 311.9h1.2v1.2h-1.2zM412.9 313.9h1.2v1.2h-1.2zM365.9 357.9h1.2v1.2h-1.2zM418.9 330.9h1.2v1.2h-1.2zM377.9 349.9h1.2v1.2h-1.2zM377.9 346.9h1.2v1.2h-1.2zM432.9 325.9h1.2v1.2h-1.2zM450.9 312.9h1.2v1.2h-1.2zM400.9 328.9h1.2v1.2h-1.2zM381.9 344.9h1.2v1.2h-1.2zM396.9 327.9h1.2v1.2h-1.2zM425.9 312.9h1.2v1.2h-1.2zM358.9 345.9h1.2v1.2h-1.2zM444.9 309.9h1.2v1.2h-1.2zM398.9 315.9h1.2v1.2h-1.2zM412.9 314.9h1.2v1.2h-1.2zM427.9 321.9h1.2v1.2h-1.2zM441.9 312.9h1.2v1.2h-1.2zM382.9 339.9h1.2v1.2h-1.2zM379.9 322.9h1.2v1.2h-1.2zM387.9 333.9h1.2v1.2h-1.2zM424.9 330.9h1.2v1.2h-1.2zM421.9 306.9h1.2v1.2h-1.2zM399.9 330.9h1.2v1.2h-1.2zM369.9 357.9h1.2v1.2h-1.2zM398.9 323.9h1.2v1.2h-1.2zM396.9 331.9h1.2v1.2h-1.2zM387.9 338.9h1.2v1.2h-1.2zM397.9 339.9h1.2v1.2h-1.2zM385.9 333.9h1.2v1.2h-1.2zM420.9 328.9h1.2v1.2h-1.2zM357.9 362.9h1.2v1.2h-1.2zM438.9 320.9h1.2v1.2h-1.2zM396.9 332.9h1.2v1.2h-1.2zM388.9 317.9h1.2v1.2h-1.2zM405.9 339.9h1.2v1.2h-1.2zM417.9 303.9h1.2v1.2h-1.2zM401.9 313.9h1.2v1.2h-1.2zM368.9 357.9h1.2v1.2h-1.2zM375.9 349.9h1.2v1.2h-1.2zM451.9 315.9h1.2v1.2h-1.2zM420.9 312.9h1.2v1.2h-1.2zM406.9 328.9h1.2v1.2h-1.2zM367.9 331.9h1.2v1.2h-1.2zM428.9 318.9h1.2v1.2h-1.2zM419.9 320.9h1.2v1.2h-1.2zM431.9 304.9h1.2v1.2h-1.2zM400.9 323.9h1.2v1.2h-1.2zM421.9 312.9h1.2v1.2h-1.2zM444.9 308.9h1.2v1.2h-1.2zM397.9 316.9h1.2v1.2h-1.2zM381.9 323.9h1.2v1.2h-1.2zM438.9 322.9h1.2v1.2h-1.2zM443.9 312.9h1.2v1.2h-1.2zM409.9 334.9h1.2v1.2h-1.2zM383.9 332.9h1.2v1.2h-1.2zM414.9 315.9h1.2v1.2h-1.2zM343.9 354.9h1.2v1.2h-1.2zM429.9 316.9h1.2v1.2h-1.2zM422.9 317.9h1.2v1.2h-1.2zM373.9 341.9h1.2v1.2h-1.2zM393.9 327.9h1.2v1.2h-1.2zM406.9 318.9h1.2v1.2h-1.2zM450.9 310.9h1.2v1.2h-1.2zM404.9 338.9h1.2v1.2h-1.2zM395.9 320.9h1.2v1.2h-1.2zM372.9 333.9h1.2v1.2h-1.2zM430.9 317.9h1.2v1.2h-1.2zM417.9 327.9h1.2v1.2h-1.2zM394.9 337.9h1.2v1.2h-1.2zM405.9 309.9h1.2v1.2h-1.2zM380.9 325.9h1.2v1.2h-1.2zM398.9 328.9h1.2v1.2h-1.2zM384.9 335.9h1.2v1.2h-1.2zM421.9 317.9h1.2v1.2h-1.2zM389.9 317.9h1.2v1.2h-1.2zM437.9 311.9h1.2v1.2h-1.2zM408.9 317.9h1.2v1.2h-1.2zM411.9 326.9h1.2v1.2h-1.2zM443.9 318.9h1.2v1.2h-1.2zM405.9 333.9h1.2v1.2h-1.2zM399.9 308.9h1.2v1.2h-1.2zM439.9 310.9h1.2v1.2h-1.2zM407.9 326.9h1.2v1.2h-1.2zM402.9 330.9h1.2v1.2h-1.2zM402.9 336.9h1.2v1.2h-1.2zM401.9 324.9h1.2v1.2h-1.2zM453.9 314.9h1.2v1.2h-1.2zM385.9 345.9h1.2v1.2h-1.2zM363.9 350.9h1.2v1.2h-1.2zM391.9 328.9h1.2v1.2h-1.2zM399.9 313.9h1.2v1.2h-1.2zM367.9 342.9h1.2v1.2h-1.2zM393.9 317.9h1.2v1.2h-1.2zM415.9 321.9h1.2v1.2h-1.2zM391.9 341.9h1.2v1.2h-1.2zM401.9 314.9h1.2v1.2h-1.2zM393.9 334.9h1.2v1.2h-1.2zM358.9 351.9h1.2v1.2h-1.2zM407.9 310.9h1.2v1.2h-1.2zM394.9 321.9h1.2v1.2h-1.2zM439.9 317.9h1.2v1.2h-1.2zM397.9 341.9h1.2v1.2h-1.2zM444.9 313.9h1.2v1.2h-1.2zM408.9 316.9h1.2v1.2h-1.2zM426.9 301.9h1.2v1.2h-1.2zM410.9 306.9h1.2v1.2h-1.2zM346.9 358.9h1.2v1.2h-1.2zM436.9 323.9h1.2v1.2h-1.2zM403.9 323.9h1.2v1.2h-1.2zM424.9 316.9h1.2v1.2h-1.2zM393.9 314.9h1.2v1.2h-1.2zM438.9 313.9h1.2v1.2h-1.2zM377.9 337.9h1.2v1.2h-1.2zM365.9 354.9h1.2v1.2h-1.2zM374.9 338.9h1.2v1.2h-1.2zM440.9 321.9h1.2v1.2h-1.2zM406.9 333.9h1.2v1.2h-1.2zM390.9 330.9h1.2v1.2h-1.2zM416.9 302.9h1.2v1.2h-1.2zM445.9 311.9h1.2v1.2h-1.2zM373.9 345.9h1.2v1.2h-1.2zM379.9 328.9h1.2v1.2h-1.2zM403.9 336.9h1.2v1.2h-1.2zM422.9 307.9h1.2v1.2h-1.2zM397.9 329.9h1.2v1.2h-1.2zM420.9 319.9h1.2v1.2h-1.2zM361.9 342.9h1.2v1.2h-1.2zM439.9 322.9h1.2v1.2h-1.2zM430.9 327.9h1.2v1.2h-1.2zM401.9 321.9h1.2v1.2h-1.2zM382.9 340.9h1.2v1.2h-1.2zM398.9 317.9h1.2v1.2h-1.2zM416.9 330.9h1.2v1.2h-1.2zM381.9 350.9h1.2v1.2h-1.2zM417.9 323.9h1.2v1.2h-1.2zM398.9 337.9h1.2v1.2h-1.2zM400.9 325.9h1.2v1.2h-1.2zM414.9 312.9h1.2v1.2h-1.2zM389.9 344.9h1.2v1.2h-1.2zM388.9 337.9h1.2v1.2h-1.2zM357.9 346.9h1.2v1.2h-1.2zM392.9 339.9h1.2v1.2h-1.2zM389.9 340.9h1.2v1.2h-1.2zM441.9 322.9h1.2v1.2h-1.2zM408.9 320.9h1.2v1.2h-1.2zM424.9 328.9h1.2v1.2h-1.2zM396.9 325.9h1.2v1.2h-1.2zM447.9 312.9h1.2v1.2h-1.2zM399.9 327.9h1.2v1.2h-1.2zM415.9 320.9h1.2v1.2h-1.2zM364.9 339.9h1.2v1.2h-1.2zM425.9 325.9h1.2v1.2h-1.2zM386.9 337.9h1.2v1.2h-1.2zM406.9 336.9h1.2v1.2h-1.2zM421.9 320.9h1.2v1.2h-1.2zM433.9 320.9h1.2v1.2h-1.2zM419.9 319.9h1.2v1.2h-1.2zM402.9 341.9h1.2v1.2h-1.2zM437.9 314.9h1.2v1.2h-1.2zM390.9 326.9h1.2v1.2h-1.2zM414.9 324.9h1.2v1.2h-1.2zM416.9 329.9h1.2v1.2h-1.2zM408.9 304.9h1.2v1.2h-1.2zM376.9 338.9h1.2v1.2h-1.2zM396.9 338.9h1.2v1.2h-1.2zM390.9 337.9h1.2v1.2h-1.2zM399.9 322.9h1.2v1.2h-1.2zM424.9 317.9h1.2v1.2h-1.2zM363.9 356.9h1.2v1.2h-1.2zM433.9 313.9h1.2v1.2h-1.2zM430.9 307.9h1.2v1.2h-1.2zM434.9 317.9h1.2v1.2h-1.2zM332.9 374.9h1.2v1.2h-1.2zM421.9 318.9h1.2v1.2h-1.2zM453.9 307.9h1.2v1.2h-1.2zM363.9 352.9h1.2v1.2h-1.2zM396.9 317.9h1.2v1.2h-1.2zM394.9 334.9h1.2v1.2h-1.2zM378.9 339.9h1.2v1.2h-1.2zM340.9 357.9h1.2v1.2h-1.2zM426.9 307.9h1.2v1.2h-1.2zM395.9 310.9h1.2v1.2h-1.2zM376.9 343.9h1.2v1.2h-1.2zM390.9 325.9h1.2v1.2h-1.2zM407.9 306.9h1.2v1.2h-1.2zM393.9 329.9h1.2v1.2h-1.2zM366.9 352.9h1.2v1.2h-1.2zM368.9 335.9h1.2v1.2h-1.2zM436.9 317.9h1.2v1.2h-1.2zM352.9 358.9h1.2v1.2h-1.2zM395.9 324.9h1.2v1.2h-1.2zM353.9 365.9h1.2v1.2h-1.2zM371.9 351.9h1.2v1.2h-1.2zM388.9 332.9h1.2v1.2h-1.2zM444.9 317.9h1.2v1.2h-1.2zM390.9 332.9h1.2v1.2h-1.2zM416.9 323.9h1.2v1.2h-1.2zM404.9 319.9h1.2v1.2h-1.2zM381.9 328.9h1.2v1.2h-1.2zM426.9 309.9h1.2v1.2h-1.2zM396.9 341.9h1.2v1.2h-1.2zM405.9 338.9h1.2v1.2h-1.2zM436.9 309.9h1.2v1.2h-1.2zM442.9 304.9h1.2v1.2h-1.2zM400.9 331.9h1.2v1.2h-1.2zM395.9 341.9h1.2v1.2h-1.2zM420.9 309.9h1.2v1.2h-1.2zM408.9 328.9h1.2v1.2h-1.2zM370.9 347.9h1.2v1.2h-1.2zM416.9 310.9h1.2v1.2h-1.2zM389.9 326.9h1.2v1.2h-1.2zM449.9 317.9h1.2v1.2h-1.2zM408.9 334.9h1.2v1.2h-1.2zM416.9 334.9h1.2v1.2h-1.2zM396.9 334.9h1.2v1.2h-1.2zM439.9 316.9h1.2v1.2h-1.2zM402.9 313.9h1.2v1.2h-1.2zM381.9 348.9h1.2v1.2h-1.2zM438.9 307.9h1.2v1.2h-1.2zM386.9 328.9h1.2v1.2h-1.2zM375.9 344.9h1.2v1.2h-1.2zM397.9 331.9h1.2v1.2h-1.2zM405.9 316.9h1.2v1.2h-1.2zM371.9 355.9h1.2v1.2h-1.2zM418.9 322.9h1.2v1.2h-1.2zM407.9 317.9h1.2v1.2h-1.2zM376.9 350.9h1.2v1.2h-1.2zM406.9 313.9h1.2v1.2h-1.2zM384.9 336.9h1.2v1.2h-1.2zM434.9 302.9h1.2v1.2h-1.2zM418.9 331.9h1.2v1.2h-1.2zM369.9 350.9h1.2v1.2h-1.2zM352.9 346.9h1.2v1.2h-1.2zM415.9 322.9h1.2v1.2h-1.2zM401.9 339.9h1.2v1.2h-1.2zM412.9 334.9h1.2v1.2h-1.2zM377.9 348.9h1.2v1.2h-1.2zM386.9 336.9h1.2v1.2h-1.2zM437.9 317.9h1.2v1.2h-1.2zM433.9 315.9h1.2v1.2h-1.2zM405.9 337.9h1.2v1.2h-1.2zM378.9 351.9h1.2v1.2h-1.2zM390.9 328.9h1.2v1.2h-1.2zM382.9 341.9h1.2v1.2h-1.2zM419.9 314.9h1.2v1.2h-1.2zM451.9 309.9h1.2v1.2h-1.2zM381.9 351.9h1.2v1.2h-1.2zM426.9 319.9h1.2v1.2h-1.2zM408.9 332.9h1.2v1.2h-1.2zM380.9 347.9h1.2v1.2h-1.2zM400.9 318.9h1.2v1.2h-1.2zM398.9 316.9h1.2v1.2h-1.2zM445.9 307.9h1.2v1.2h-1.2zM452.9 314.9h1.2v1.2h-1.2zM457.9 308.9h1.2v1.2h-1.2zM381.9 342.9h1.2v1.2h-1.2zM396.9 337.9h1.2v1.2h-1.2zM389.9 345.9h1.2v1.2h-1.2zM411.9 319.9h1.2v1.2h-1.2zM375.9 336.9h1.2v1.2h-1.2zM435.9 310.9h1.2v1.2h-1.2zM387.9 332.9h1.2v1.2h-1.2zM431.9 311.9h1.2v1.2h-1.2zM440.9 319.9h1.2v1.2h-1.2zM372.9 349.9h1.2v1.2h-1.2zM422.9 327.9h1.2v1.2h-1.2zM373.9 343.9h1.2v1.2h-1.2zM372.9 345.9h1.2v1.2h-1.2zM440.9 320.9h1.2v1.2h-1.2zM400.9 322.9h1.2v1.2h-1.2zM397.9 314.9h1.2v1.2h-1.2zM435.9 313.9h1.2v1.2h-1.2zM377.9 351.9h1.2v1.2h-1.2zM372.9 340.9h1.2v1.2h-1.2zM433.9 319.9h1.2v1.2h-1.2zM422.9 321.9h1.2v1.2h-1.2zM403.9 317.9h1.2v1.2h-1.2zM403.9 330.9h1.2v1.2h-1.2zM397.9 340.9h1.2v1.2h-1.2zM386.9 332.9h1.2v1.2h-1.2zM403.9 337.9h1.2v1.2h-1.2zM385.9 324.9h1.2v1.2h-1.2zM436.9 316.9h1.2v1.2h-1.2zM429.9 322.9h1.2v1.2h-1.2zM366.9 356.9h1.2v1.2h-1.2zM425.9 324.9h1.2v1.2h-1.2zM441.9 316.9h1.2v1.2h-1.2zM419.9 310.9h1.2v1.2h-1.2zM357.9 336.9h1.2v1.2h-1.2zM389.9 328.9h1.2v1.2h-1.2zM408.9 307.9h1.2v1.2h-1.2zM424.9 310.9h1.2v1.2h-1.2zM398.9 341.9h1.2v1.2h-1.2zM395.9 340.9h1.2v1.2h-1.2zM384.9 342.9h1.2v1.2h-1.2zM442.9 316.9h1.2v1.2h-1.2zM363.9 360.9h1.2v1.2h-1.2zM439.9 318.9h1.2v1.2h-1.2zM368.9 341.9h1.2v1.2h-1.2zM407.9 319.9h1.2v1.2h-1.2zM407.9 331.9h1.2v1.2h-1.2zM379.9 349.9h1.2v1.2h-1.2zM358.9 352.9h1.2v1.2h-1.2zM387.9 321.9h1.2v1.2h-1.2zM433.9 311.9h1.2v1.2h-1.2zM367.9 338.9h1.2v1.2h-1.2zM375.9 329.9h1.2v1.2h-1.2zM364.9 333.9h1.2v1.2h-1.2zM387.9 323.9h1.2v1.2h-1.2zM407.9 335.9h1.2v1.2h-1.2zM417.9 314.9h1.2v1.2h-1.2zM374.9 327.9h1.2v1.2h-1.2zM404.9 324.9h1.2v1.2h-1.2zM387.9 320.9h1.2v1.2h-1.2zM408.9 330.9h1.2v1.2h-1.2zM364.9 354.9h1.2v1.2h-1.2zM381.9 340.9h1.2v1.2h-1.2zM373.9 354.9h1.2v1.2h-1.2zM406.9 320.9h1.2v1.2h-1.2zM391.9 320.9h1.2v1.2h-1.2zM378.9 342.9h1.2v1.2h-1.2zM377.9 325.9h1.2v1.2h-1.2zM377.9 353.9h1.2v1.2h-1.2zM397.9 333.9h1.2v1.2h-1.2zM422.9 331.9h1.2v1.2h-1.2zM445.9 315.9h1.2v1.2h-1.2zM410.9 321.9h1.2v1.2h-1.2zM406.9 329.9h1.2v1.2h-1.2zM399.9 319.9h1.2v1.2h-1.2zM382.9 345.9h1.2v1.2h-1.2zM431.9 322.9h1.2v1.2h-1.2zM373.9 353.9h1.2v1.2h-1.2zM425.9 314.9h1.2v1.2h-1.2zM363.9 342.9h1.2v1.2h-1.2zM429.9 318.9h1.2v1.2h-1.2zM403.9 307.9h1.2v1.2h-1.2zM422.9 315.9h1.2v1.2h-1.2zM446.9 319.9h1.2v1.2h-1.2zM411.9 323.9h1.2v1.2h-1.2zM357.9 347.9h1.2v1.2h-1.2zM399.9 324.9h1.2v1.2h-1.2zM346.9 359.9h1.2v1.2h-1.2zM425.9 305.9h1.2v1.2h-1.2zM431.9 319.9h1.2v1.2h-1.2zM437.9 312.9h1.2v1.2h-1.2zM422.9 310.9h1.2v1.2h-1.2zM401.9 341.9h1.2v1.2h-1.2zM362.9 351.9h1.2v1.2h-1.2zM386.9 321.9h1.2v1.2h-1.2zM418.9 313.9h1.2v1.2h-1.2zM421.9 319.9h1.2v1.2h-1.2zM420.9 315.9h1.2v1.2h-1.2zM393.9 345.9h1.2v1.2h-1.2zM368.9 348.9h1.2v1.2h-1.2zM361.9 345.9h1.2v1.2h-1.2zM380.9 329.9h1.2v1.2h-1.2zM395.9 323.9h1.2v1.2h-1.2zM377.9 331.9h1.2v1.2h-1.2zM415.9 317.9h1.2v1.2h-1.2zM458.9 307.9h1.2v1.2h-1.2zM362.9 360.9h1.2v1.2h-1.2zM396.9 316.9h1.2v1.2h-1.2zM395.9 317.9h1.2v1.2h-1.2zM451.9 311.9h1.2v1.2h-1.2zM366.9 337.9h1.2v1.2h-1.2zM347.9 358.9h1.2v1.2h-1.2zM436.9 314.9h1.2v1.2h-1.2zM411.9 318.9h1.2v1.2h-1.2zM391.9 332.9h1.2v1.2h-1.2zM390.9 342.9h1.2v1.2h-1.2zM383.9 348.9h1.2v1.2h-1.2zM371.9 337.9h1.2v1.2h-1.2zM393.9 321.9h1.2v1.2h-1.2zM352.9 340.9h1.2v1.2h-1.2zM428.9 321.9h1.2v1.2h-1.2zM393.9 346.9h1.2v1.2h-1.2zM391.9 340.9h1.2v1.2h-1.2zM428.9 310.9h1.2v1.2h-1.2zM419.9 324.9h1.2v1.2h-1.2zM413.9 316.9h1.2v1.2h-1.2zM444.9 312.9h1.2v1.2h-1.2zM445.9 314.9h1.2v1.2h-1.2zM416.9 308.9h1.2v1.2h-1.2zM390.9 329.9h1.2v1.2h-1.2zM405.9 330.9h1.2v1.2h-1.2zM364.9 352.9h1.2v1.2h-1.2zM431.9 317.9h1.2v1.2h-1.2zM457.9 312.9h1.2v1.2h-1.2zM381.9 339.9h1.2v1.2h-1.2zM411.9 309.9h1.2v1.2h-1.2zM415.9 310.9h1.2v1.2h-1.2zM418.9 320.9h1.2v1.2h-1.2zM399.9 326.9h1.2v1.2h-1.2zM372.9 327.9h1.2v1.2h-1.2zM418.9 311.9h1.2v1.2h-1.2zM438.9 306.9h1.2v1.2h-1.2zM400.9 327.9h1.2v1.2h-1.2zM428.9 312.9h1.2v1.2h-1.2zM441.9 310.9h1.2v1.2h-1.2zM417.9 315.9h1.2v1.2h-1.2zM376.9 339.9h1.2v1.2h-1.2zM373.9 348.9h1.2v1.2h-1.2zM372.9 346.9h1.2v1.2h-1.2zM419.9 331.9h1.2v1.2h-1.2zM397.9 320.9h1.2v1.2h-1.2zM373.9 330.9h1.2v1.2h-1.2zM381.9 324.9h1.2v1.2h-1.2zM416.9 315.9h1.2v1.2h-1.2zM358.9 357.9h1.2v1.2h-1.2zM397.9 318.9h1.2v1.2h-1.2zM378.9 353.9h1.2v1.2h-1.2zM405.9 320.9h1.2v1.2h-1.2zM388.9 327.9h1.2v1.2h-1.2zM418.9 321.9h1.2v1.2h-1.2zM391.9 342.9h1.2v1.2h-1.2zM401.9 327.9h1.2v1.2h-1.2zM380.9 331.9h1.2v1.2h-1.2zM387.9 317.9h1.2v1.2h-1.2zM345.9 359.9h1.2v1.2h-1.2zM395.9 319.9h1.2v1.2h-1.2zM386.9 329.9h1.2v1.2h-1.2zM391.9 327.9h1.2v1.2h-1.2zM441.9 320.9h1.2v1.2h-1.2zM408.9 337.9h1.2v1.2h-1.2zM454.9 308.9h1.2v1.2h-1.2zM404.9 318.9h1.2v1.2h-1.2zM391.9 326.9h1.2v1.2h-1.2zM389.9 321.9h1.2v1.2h-1.2zM400.9 329.9h1.2v1.2h-1.2zM374.9 343.9h1.2v1.2h-1.2zM413.9 318.9h1.2v1.2h-1.2zM383.9 333.9h1.2v1.2h-1.2zM374.9 335.9h1.2v1.2h-1.2zM406.9 307.9h1.2v1.2h-1.2zM400.9 312.9h1.2v1.2h-1.2zM382.9 335.9h1.2v1.2h-1.2zM408.9 321.9h1.2v1.2h-1.2zM405.9 310.9h1.2v1.2h-1.2zM395.9 334.9h1.2v1.2h-1.2zM416.9 321.9h1.2v1.2h-1.2zM408.9 327.9h1.2v1.2h-1.2zM427.9 314.9h1.2v1.2h-1.2zM433.9 316.9h1.2v1.2h-1.2zM395.9 344.9h1.2v1.2h-1.2zM400.9 333.9h1.2v1.2h-1.2zM343.9 359.9h1.2v1.2h-1.2zM428.9 307.9h1.2v1.2h-1.2zM437.9 319.9h1.2v1.2h-1.2zM417.9 308.9h1.2v1.2h-1.2zM358.9 356.9h1.2v1.2h-1.2zM366.9 335.9h1.2v1.2h-1.2zM415.9 326.9h1.2v1.2h-1.2zM419.9 312.9h1.2v1.2h-1.2zM384.9 334.9h1.2v1.2h-1.2zM448.9 314.9h1.2v1.2h-1.2zM392.9 337.9h1.2v1.2h-1.2zM464.9 310.9h1.2v1.2h-1.2zM433.9 321.9h1.2v1.2h-1.2zM418.9 304.9h1.2v1.2h-1.2zM415.9 333.9h1.2v1.2h-1.2zM411.9 314.9h1.2v1.2h-1.2zM338.9 352.9h1.2v1.2h-1.2zM456.9 306.9h1.2v1.2h-1.2zM424.9 329.9h1.2v1.2h-1.2zM384.9 341.9h1.2v1.2h-1.2zM373.9 340.9h1.2v1.2h-1.2zM437.9 307.9h1.2v1.2h-1.2zM420.9 322.9h1.2v1.2h-1.2zM369.9 354.9h1.2v1.2h-1.2zM435.9 317.9h1.2v1.2h-1.2zM423.9 325.9h1.2v1.2h-1.2zM436.9 320.9h1.2v1.2h-1.2zM409.9 310.9h1.2v1.2h-1.2zM428.9 309.9h1.2v1.2h-1.2zM370.9 333.9h1.2v1.2h-1.2zM442.9 301.9h1.2v1.2h-1.2zM349.9 353.9h1.2v1.2h-1.2zM419.9 317.9h1.2v1.2h-1.2zM433.9 312.9h1.2v1.2h-1.2zM442.9 314.9h1.2v1.2h-1.2zM404.9 308.9h1.2v1.2h-1.2zM373.9 335.9h1.2v1.2h-1.2zM419.9 321.9h1.2v1.2h-1.2zM372.9 353.9h1.2v1.2h-1.2zM396.9 335.9h1.2v1.2h-1.2zM371.9 349.9h1.2v1.2h-1.2zM370.9 335.9h1.2v1.2h-1.2zM385.9 344.9h1.2v1.2h-1.2zM373.9 351.9h1.2v1.2h-1.2zM395.9 337.9h1.2v1.2h-1.2zM391.9 330.9h1.2v1.2h-1.2zM420.9 314.9h1.2v1.2h-1.2zM410.9 307.9h1.2v1.2h-1.2zM383.9 326.9h1.2v1.2h-1.2zM412.9 324.9h1.2v1.2h-1.2zM460.9 307.9h1.2v1.2h-1.2zM431.9 313.9h1.2v1.2h-1.2zM379.9 351.9h1.2v1.2h-1.2zM431.9 314.9h1.2v1.2h-1.2zM391.9 333.9h1.2v1.2h-1.2zM439.9 308.9h1.2v1.2h-1.2zM377.9 327.9h1.2v1.2h-1.2zM373.9 326.9h1.2v1.2h-1.2zM398.9 329.9h1.2v1.2h-1.2zM406.9 332.9h1.2v1.2h-1.2zM404.9 334.9h1.2v1.2h-1.2zM387.9 342.9h1.2v1.2h-1.2zM378.9 348.9h1.2v1.2h-1.2zM350.9 360.9h1.2v1.2h-1.2zM409.9 317.9h1.2v1.2h-1.2zM369.9 340.9h1.2v1.2h-1.2zM358.9 349.9h1.2v1.2h-1.2zM389.9 322.9h1.2v1.2h-1.2zM395.9 331.9h1.2v1.2h-1.2zM388.9 346.9h1.2v1.2h-1.2zM407.9 336.9h1.2v1.2h-1.2zM384.9 326.9h1.2v1.2h-1.2zM386.9 317.9h1.2v1.2h-1.2zM347.9 348.9h1.2v1.2h-1.2zM446.9 315.9h1.2v1.2h-1.2zM369.9 351.9h1.2v1.2h-1.2zM422.9 318.9h1.2v1.2h-1.2zM422.9 308.9h1.2v1.2h-1.2zM449.9 307.9h1.2v1.2h-1.2zM422.9 309.9h1.2v1.2h-1.2zM420.9 313.9h1.2v1.2h-1.2zM427.9 311.9h1.2v1.2h-1.2zM437.9 305.9h1.2v1.2h-1.2zM383.9 329.9h1.2v1.2h-1.2zM384.9 331.9h1.2v1.2h-1.2zM392.9 345.9h1.2v1.2h-1.2zM438.9 323.9h1.2v1.2h-1.2zM425.9 327.9h1.2v1.2h-1.2zM392.9 335.9h1.2v1.2h-1.2zM418.9 332.9h1.2v1.2h-1.2zM394.9 322.9h1.2v1.2h-1.2zM401.9 331.9h1.2v1.2h-1.2zM366.9 345.9h1.2v1.2h-1.2zM423.9 330.9h1.2v1.2h-1.2zM427.9 325.9h1.2v1.2h-1.2zM382.9 324.9h1.2v1.2h-1.2zM435.9 318.9h1.2v1.2h-1.2zM401.9 328.9h1.2v1.2h-1.2zM397.9 338.9h1.2v1.2h-1.2zM358.9 358.9h1.2v1.2h-1.2zM415.9 318.9h1.2v1.2h-1.2zM389.9 327.9h1.2v1.2h-1.2zM346.9 364.9h1.2v1.2h-1.2zM408.9 310.9h1.2v1.2h-1.2zM421.9 309.9h1.2v1.2h-1.2zM393.9 320.9h1.2v1.2h-1.2zM365.9 353.9h1.2v1.2h-1.2zM415.9 334.9h1.2v1.2h-1.2zM438.9 316.9h1.2v1.2h-1.2zM380.9 328.9h1.2v1.2h-1.2zM400.9 336.9h1.2v1.2h-1.2zM405.9 312.9h1.2v1.2h-1.2zM413.9 333.9h1.2v1.2h-1.2zM391.9 334.9h1.2v1.2h-1.2zM397.9 323.9h1.2v1.2h-1.2zM432.9 324.9h1.2v1.2h-1.2zM383.9 331.9h1.2v1.2h-1.2zM404.9 336.9h1.2v1.2h-1.2zM374.9 345.9h1.2v1.2h-1.2zM388.9 333.9h1.2v1.2h-1.2zM434.9 325.9h1.2v1.2h-1.2zM398.9 336.9h1.2v1.2h-1.2zM422.9 306.9h1.2v1.2h-1.2zM403.9 335.9h1.2v1.2h-1.2zM427.9 306.9h1.2v1.2h-1.2zM412.9 306.9h1.2v1.2h-1.2zM361.9 338.9h1.2v1.2h-1.2zM417.9 321.9h1.2v1.2h-1.2zM449.9 306.9h1.2v1.2h-1.2zM409.9 325.9h1.2v1.2h-1.2zM428.9 317.9h1.2v1.2h-1.2zM437.9 316.9h1.2v1.2h-1.2zM369.9 334.9h1.2v1.2h-1.2zM370.9 350.9h1.2v1.2h-1.2zM371.9 357.9h1.2v1.2h-1.2zM404.9 341.9h1.2v1.2h-1.2zM424.9 305.9h1.2v1.2h-1.2zM388.9 342.9h1.2v1.2h-1.2zM445.9 316.9h1.2v1.2h-1.2zM394.9 328.9h1.2v1.2h-1.2zM433.9 310.9h1.2v1.2h-1.2zM387.9 319.9h1.2v1.2h-1.2zM383.9 338.9h1.2v1.2h-1.2zM453.9 309.9h1.2v1.2h-1.2zM438.9 310.9h1.2v1.2h-1.2zM431.9 312.9h1.2v1.2h-1.2zM383.9 335.9h1.2v1.2h-1.2zM362.9 335.9h1.2v1.2h-1.2zM372.9 330.9h1.2v1.2h-1.2zM394.9 319.9h1.2v1.2h-1.2zM388.9 335.9h1.2v1.2h-1.2zM457.9 314.9h1.2v1.2h-1.2zM397.9 328.9h1.2v1.2h-1.2zM438.9 311.9h1.2v1.2h-1.2zM388.9 336.9h1.2v1.2h-1.2zM400.9 314.9h1.2v1.2h-1.2zM389.9 323.9h1.2v1.2h-1.2zM382.9 347.9h1.2v1.2h-1.2zM419.9 316.9h1.2v1.2h-1.2zM407.9 312.9h1.2v1.2h-1.2zM367.9 343.9h1.2v1.2h-1.2zM396.9 340.9h1.2v1.2h-1.2zM424.9 313.9h1.2v1.2h-1.2zM418.9 307.9h1.2v1.2h-1.2zM384.9 349.9h1.2v1.2h-1.2zM403.9 340.9h1.2v1.2h-1.2zM367.9 355.9h1.2v1.2h-1.2zM411.9 315.9h1.2v1.2h-1.2zM413.9 335.9h1.2v1.2h-1.2zM398.9 311.9h1.2v1.2h-1.2zM404.9 333.9h1.2v1.2h-1.2zM383.9 349.9h1.2v1.2h-1.2zM447.9 318.9h1.2v1.2h-1.2zM414.9 328.9h1.2v1.2h-1.2zM379.9 337.9h1.2v1.2h-1.2zM429.9 323.9h1.2v1.2h-1.2zM364.9 344.9h1.2v1.2h-1.2zM365.9 340.9h1.2v1.2h-1.2zM395.9 322.9h1.2v1.2h-1.2zM378.9 349.9h1.2v1.2h-1.2zM379.9 333.9h1.2v1.2h-1.2zM397.9 332.9h1.2v1.2h-1.2zM394.9 335.9h1.2v1.2h-1.2zM408.9 325.9h1.2v1.2h-1.2zM407.9 315.9h1.2v1.2h-1.2zM391.9 322.9h1.2v1.2h-1.2zM398.9 322.9h1.2v1.2h-1.2zM410.9 326.9h1.2v1.2h-1.2zM363.9 344.9h1.2v1.2h-1.2zM392.9 325.9h1.2v1.2h-1.2zM433.9 322.9h1.2v1.2h-1.2zM398.9 331.9h1.2v1.2h-1.2zM411.9 336.9h1.2v1.2h-1.2zM388.9 338.9h1.2v1.2h-1.2zM374.9 334.9h1.2v1.2h-1.2zM417.9 334.9h1.2v1.2h-1.2zM379.9 347.9h1.2v1.2h-1.2zM455.9 307.9h1.2v1.2h-1.2zM394.9 340.9h1.2v1.2h-1.2zM410.9 316.9h1.2v1.2h-1.2zM389.9 329.9h1.2v1.2h-1.2zM419.9 329.9h1.2v1.2h-1.2zM335.9 358.9h1.2v1.2h-1.2zM436.9 311.9h1.2v1.2h-1.2zM402.9 324.9h1.2v1.2h-1.2zM408.9 302.9h1.2v1.2h-1.2zM418.9 306.9h1.2v1.2h-1.2zM420.9 329.9h1.2v1.2h-1.2zM434.9 300.9h1.2v1.2h-1.2zM434.9 315.9h1.2v1.2h-1.2zM408.9 338.9h1.2v1.2h-1.2zM393.9 326.9h1.2v1.2h-1.2zM415.9 319.9h1.2v1.2h-1.2zM428.9 322.9h1.2v1.2h-1.2zM369.9 329.9h1.2v1.2h-1.2zM421.9 295.9h1.2v1.2h-1.2zM400.9 339.9h1.2v1.2h-1.2zM394.9 320.9h1.2v1.2h-1.2zM423.9 300.9h1.2v1.2h-1.2zM365.9 352.9h1.2v1.2h-1.2zM420.9 317.9h1.2v1.2h-1.2zM417.9 325.9h1.2v1.2h-1.2zM402.9 334.9h1.2v1.2h-1.2zM425.9 309.9h1.2v1.2h-1.2zM399.9 333.9h1.2v1.2h-1.2zM408.9 323.9h1.2v1.2h-1.2zM403.9 316.9h1.2v1.2h-1.2zM347.9 357.9h1.2v1.2h-1.2zM405.9 322.9h1.2v1.2h-1.2zM376.9 341.9h1.2v1.2h-1.2zM379.9 348.9h1.2v1.2h-1.2zM367.9 339.9h1.2v1.2h-1.2zM362.9 358.9h1.2v1.2h-1.2zM403.9 324.9h1.2v1.2h-1.2zM376.9 329.9h1.2v1.2h-1.2zM443.9 316.9h1.2v1.2h-1.2zM426.9 318.9h1.2v1.2h-1.2zM399.9 317.9h1.2v1.2h-1.2zM379.9 331.9h1.2v1.2h-1.2zM433.9 324.9h1.2v1.2h-1.2zM388.9 331.9h1.2v1.2h-1.2zM369.9 341.9h1.2v1.2h-1.2zM443.9 306.9h1.2v1.2h-1.2zM378.9 326.9h1.2v1.2h-1.2zM386.9 316.9h1.2v1.2h-1.2zM388.9 339.9h1.2v1.2h-1.2zM426.9 314.9h1.2v1.2h-1.2zM415.9 306.9h1.2v1.2h-1.2zM400.9 332.9h1.2v1.2h-1.2zM405.9 329.9h1.2v1.2h-1.2zM396.9 311.9h1.2v1.2h-1.2zM371.9 338.9h1.2v1.2h-1.2zM403.9 341.9h1.2v1.2h-1.2zM377.9 350.9h1.2v1.2h-1.2zM442.9 320.9h1.2v1.2h-1.2zM418.9 316.9h1.2v1.2h-1.2zM354.9 362.9h1.2v1.2h-1.2zM421.9 332.9h1.2v1.2h-1.2zM419.9 305.9h1.2v1.2h-1.2zM386.9 349.9h1.2v1.2h-1.2zM369.9 338.9h1.2v1.2h-1.2zM412.9 318.9h1.2v1.2h-1.2zM389.9 346.9h1.2v1.2h-1.2zM395.9 325.9h1.2v1.2h-1.2zM381.9 331.9h1.2v1.2h-1.2zM430.9 324.9h1.2v1.2h-1.2zM384.9 332.9h1.2v1.2h-1.2zM425.9 303.9h1.2v1.2h-1.2zM424.9 325.9h1.2v1.2h-1.2zM433.9 326.9h1.2v1.2h-1.2zM397.9 317.9h1.2v1.2h-1.2zM428.9 328.9h1.2v1.2h-1.2zM435.9 321.9h1.2v1.2h-1.2zM386.9 344.9h1.2v1.2h-1.2zM394.9 313.9h1.2v1.2h-1.2zM392.9 329.9h1.2v1.2h-1.2zM423.9 322.9h1.2v1.2h-1.2zM394.9 326.9h1.2v1.2h-1.2zM385.9 332.9h1.2v1.2h-1.2zM370.9 357.9h1.2v1.2h-1.2zM355.9 338.9h1.2v1.2h-1.2zM416.9 307.9h1.2v1.2h-1.2zM414.9 313.9h1.2v1.2h-1.2zM382.9 331.9h1.2v1.2h-1.2zM401.9 322.9h1.2v1.2h-1.2zM393.9 331.9h1.2v1.2h-1.2zM357.9 341.9h1.2v1.2h-1.2zM380.9 344.9h1.2v1.2h-1.2zM449.9 310.9h1.2v1.2h-1.2zM401.9 325.9h1.2v1.2h-1.2zM396.9 320.9h1.2v1.2h-1.2zM416.9 328.9h1.2v1.2h-1.2zM405.9 332.9h1.2v1.2h-1.2zM408.9 312.9h1.2v1.2h-1.2zM379.9 340.9h1.2v1.2h-1.2zM397.9 310.9h1.2v1.2h-1.2zM363.9 346.9h1.2v1.2h-1.2zM415.9 331.9h1.2v1.2h-1.2zM376.9 328.9h1.2v1.2h-1.2zM452.9 312.9h1.2v1.2h-1.2zM372.9 328.9h1.2v1.2h-1.2zM401.9 334.9h1.2v1.2h-1.2zM406.9 326.9h1.2v1.2h-1.2zM414.9 311.9h1.2v1.2h-1.2zM409.9 319.9h1.2v1.2h-1.2zM392.9 318.9h1.2v1.2h-1.2zM413.9 307.9h1.2v1.2h-1.2zM352.9 362.9h1.2v1.2h-1.2zM410.9 305.9h1.2v1.2h-1.2zM404.9 339.9h1.2v1.2h-1.2zM398.9 340.9h1.2v1.2h-1.2zM335.9 366.9h1.2v1.2h-1.2zM430.9 323.9h1.2v1.2h-1.2zM418.9 329.9h1.2v1.2h-1.2zM424.9 319.9h1.2v1.2h-1.2zM422.9 311.9h1.2v1.2h-1.2zM432.9 320.9h1.2v1.2h-1.2zM395.9 327.9h1.2v1.2h-1.2zM380.9 345.9h1.2v1.2h-1.2zM359.9 341.9h1.2v1.2h-1.2zM437.9 310.9h1.2v1.2h-1.2zM436.9 310.9h1.2v1.2h-1.2zM419.9 326.9h1.2v1.2h-1.2zM363.9 332.9h1.2v1.2h-1.2zM362.9 349.9h1.2v1.2h-1.2zM382.9 333.9h1.2v1.2h-1.2zM409.9 329.9h1.2v1.2h-1.2zM329.9 374.9h1.2v1.2h-1.2zM442.9 310.9h1.2v1.2h-1.2zM414.9 319.9h1.2v1.2h-1.2zM420.9 310.9h1.2v1.2h-1.2zM388.9 330.9h1.2v1.2h-1.2zM385.9 329.9h1.2v1.2h-1.2zM407.9 334.9h1.2v1.2h-1.2zM397.9 309.9h1.2v1.2h-1.2zM378.9 345.9h1.2v1.2h-1.2zM416.9 314.9h1.2v1.2h-1.2zM419.9 325.9h1.2v1.2h-1.2zM429.9 311.9h1.2v1.2h-1.2zM405.9 319.9h1.2v1.2h-1.2zM399.9 342.9h1.2v1.2h-1.2zM433.9 308.9h1.2v1.2h-1.2zM398.9 326.9h1.2v1.2h-1.2zM358.9 335.9h1.2v1.2h-1.2zM386.9 319.9h1.2v1.2h-1.2zM417.9 313.9h1.2v1.2h-1.2zM352.9 349.9h1.2v1.2h-1.2zM364.9 350.9h1.2v1.2h-1.2zM356.9 353.9h1.2v1.2h-1.2zM452.9 308.9h1.2v1.2h-1.2zM403.9 311.9h1.2v1.2h-1.2zM405.9 340.9h1.2v1.2h-1.2zM375.9 341.9h1.2v1.2h-1.2zM378.9 329.9h1.2v1.2h-1.2zM368.9 354.9h1.2v1.2h-1.2zM377.9 340.9h1.2v1.2h-1.2zM395.9 342.9h1.2v1.2h-1.2zM406.9 321.9h1.2v1.2h-1.2zM426.9 315.9h1.2v1.2h-1.2zM374.9 355.9h1.2v1.2h-1.2zM371.9 341.9h1.2v1.2h-1.2zM380.9 326.9h1.2v1.2h-1.2zM375.9 352.9h1.2v1.2h-1.2zM399.9 341.9h1.2v1.2h-1.2zM353.9 355.9h1.2v1.2h-1.2zM427.9 297.9h1.2v1.2h-1.2zM389.9 339.9h1.2v1.2h-1.2zM398.9 321.9h1.2v1.2h-1.2zM391.9 321.9h1.2v1.2h-1.2zM357.9 355.9h1.2v1.2h-1.2zM447.9 309.9h1.2v1.2h-1.2zM358.9 346.9h1.2v1.2h-1.2zM389.9 319.9h1.2v1.2h-1.2zM380.9 350.9h1.2v1.2h-1.2zM365.9 358.9h1.2v1.2h-1.2zM378.9 324.9h1.2v1.2h-1.2zM390.9 338.9h1.2v1.2h-1.2zM447.9 317.9h1.2v1.2h-1.2zM429.9 321.9h1.2v1.2h-1.2zM413.9 327.9h1.2v1.2h-1.2zM409.9 315.9h1.2v1.2h-1.2zM406.9 312.9h1.2v1.2h-1.2zM402.9 314.9h1.2v1.2h-1.2zM378.9 340.9h1.2v1.2h-1.2zM366.9 357.9h1.2v1.2h-1.2zM363.9 339.9h1.2v1.2h-1.2zM355.9 355.9h1.2v1.2h-1.2zM407.9 324.9h1.2v1.2h-1.2zM388.9 334.9h1.2v1.2h-1.2zM376.9 332.9h1.2v1.2h-1.2zM383.9 344.9h1.2v1.2h-1.2zM421.9 316.9h1.2v1.2h-1.2zM421.9 330.9h1.2v1.2h-1.2zM432.9 318.9h1.2v1.2h-1.2zM406.9 316.9h1.2v1.2h-1.2zM442.9 312.9h1.2v1.2h-1.2zM405.9 305.9h1.2v1.2h-1.2zM405.9 324.9h1.2v1.2h-1.2zM378.9 327.9h1.2v1.2h-1.2zM374.9 333.9h1.2v1.2h-1.2zM376.9 349.9h1.2v1.2h-1.2zM386.9 334.9h1.2v1.2h-1.2zM417.9 322.9h1.2v1.2h-1.2zM442.9 321.9h1.2v1.2h-1.2zM401.9 333.9h1.2v1.2h-1.2zM443.9 317.9h1.2v1.2h-1.2zM427.9 328.9h1.2v1.2h-1.2zM407.9 318.9h1.2v1.2h-1.2zM386.9 342.9h1.2v1.2h-1.2zM399.9 335.9h1.2v1.2h-1.2zM338.9 360.9h1.2v1.2h-1.2z" fill="#b012b4"/>
<path d="M417.9 337.9h1.2v1.2h-1.2zM373.9 367.9h1.2v1.2h-1.2zM406.9 352.9h1.2v1.2h-1.2zM409.9 338.9h1.2v1.2h-1.2zM406.9 343.9h1.2v1.2h-1.2zM412.9 340.9h1.2v1.2h-1.2zM401.9 353.9h1.2v1.2h-1.2zM382.9 370.9h1.2v1.2h-1.2zM420.9 340.9h1.2v1.2h-1.2zM394.9 354.9h1.2v1.2h-1.2zM425.9 330.9h1.2v1.2h-1.2zM446.9 329.9h1.2v1.2h-1.2zM386.9 353.9h1.2v1.2h-1.2zM429.9 352.9h1.2v1.2h-1.2zM419.9 344.9h1.2v1.2h-1.2zM458.9 314.9h1.2v1.2h-1.2zM438.9 325.9h1.2v1.2h-1.2zM468.9 311.9h1.2v1.2h-1.2zM406.9 344.9h1.2v1.2h-1.2zM416.9 343.9h1.2v1.2h-1.2zM427.9 353.9h1.2v1.2h-1.2zM433.9 330.9h1.2v1.2h-1.2zM377.9 363.9h1.2v1.2h-1.2zM420.9 353.9h1.2v1.2h-1.2zM435.9 328.9h1.2v1.2h-1.2zM447.9 330.9h1.2v1.2h-1.2zM416.9 338.9h1.2v1.2h-1.2zM446.9 325.9h1.2v1.2h-1.2zM430.9 341.9h1.2v1.2h-1.2zM434.9 332.9h1.2v1.2h-1.2zM419.9 338.9h1.2v1.2h-1.2zM430.9 334.9h1.2v1.2h-1.2zM368.9 359.9h1.2v1.2h-1.2zM436.9 334.9h1.2v1.2h-1.2zM416.9 348.9h1.2v1.2h-1.2zM391.9 348.9h1.2v1.2h-1.2zM403.9 349.9h1.2v1.2h-1.2zM371.9 375.9h1.2v1.2h-1.2zM434.9 330.9h1.2v1.2h-1.2zM456.9 322.9h1.2v1.2h-1.2zM448.9 336.9h1.2v1.2h-1.2zM384.9 359.9h1.2v1.2h-1.2zM399.9 349.9h1.2v1.2h-1.2zM428.9 332.9h1.2v1.2h-1.2zM449.9 319.9h1.2v1.2h-1.2zM396.9 347.9h1.2v1.2h-1.2zM392.9 358.9h1.2v1.2h-1.2zM403.9 344.9h1.2v1.2h-1.2zM441.9 327.9h1.2v1.2h-1.2zM431.9 329.9h1.2v1.2h-1.2zM435.9 325.9h1.2v1.2h-1.2zM402.9 363.9h1.2v1.2h-1.2zM437.9 337.9h1.2v1.2h-1.2zM417.9 338.9h1.2v1.2h-1.2zM426.9 345.9h1.2v1.2h-1.2zM397.9 356.9h1.2v1.2h-1.2zM389.9 352.9h1.2v1.2h-1.2zM412.9 349.9h1.2v1.2h-1.2zM410.9 342.9h1.2v1.2h-1.2zM439.9 327.9h1.2v1.2h-1.2zM387.9 352.9h1.2v1.2h-1.2zM412.9 337.9h1.2v1.2h-1.2zM400.9 355.9h1.2v1.2h-1.2zM424.9 344.9h1.2v1.2h-1.2zM407.9 343.9h1.2v1.2h-1.2zM418.9 336.9h1.2v1.2h-1.2zM404.9 354.9h1.2v1.2h-1.2zM444.9 341.9h1.2v1.2h-1.2zM459.9 337.9h1.2v1.2h-1.2zM437.9 325.9h1.2v1.2h-1.2zM439.9 348.9h1.2v1.2h-1.2zM433.9 331.9h1.2v1.2h-1.2zM388.9 358.9h1.2v1.2h-1.2zM408.9 339.9h1.2v1.2h-1.2zM382.9 363.9h1.2v1.2h-1.2zM406.9 345.9h1.2v1.2h-1.2zM423.9 351.9h1.2v1.2h-1.2zM424.9 331.9h1.2v1.2h-1.2zM417.9 335.9h1.2v1.2h-1.2zM440.9 340.9h1.2v1.2h-1.2zM431.9 332.9h1.2v1.2h-1.2zM447.9 331.9h1.2v1.2h-1.2zM380.9 362.9h1.2v1.2h-1.2zM431.9 351.9h1.2v1.2h-1.2zM425.9 333.9h1.2v1.2h-1.2zM427.9 350.9h1.2v1.2h-1.2zM402.9 343.9h1.2v1.2h-1.2zM346.9 369.9h1.2v1.2h-1.2zM424.9 351.9h1.2v1.2h-1.2zM416.9 350.9h1.2v1.2h-1.2zM406.9 349.9h1.2v1.2h-1.2zM435.9 338.9h1.2v1.2h-1.2zM431.9 352.9h1.2v1.2h-1.2zM403.9 342.9h1.2v1.2h-1.2zM431.9 330.9h1.2v1.2h-1.2zM434.9 326.9h1.2v1.2h-1.2zM380.9 365.9h1.2v1.2h-1.2zM375.9 361.9h1.2v1.2h-1.2zM422.9 332.9h1.2v1.2h-1.2zM380.9 359.9h1.2v1.2h-1.2zM416.9 341.9h1.2v1.2h-1.2zM437.9 347.9h1.2v1.2h-1.2zM400.9 351.9h1.2v1.2h-1.2zM398.9 349.9h1.2v1.2h-1.2zM449.9 322.9h1.2v1.2h-1.2zM424.9 333.9h1.2v1.2h-1.2zM444.9 331.9h1.2v1.2h-1.2zM398.9 346.9h1.2v1.2h-1.2zM417.9 341.9h1.2v1.2h-1.2zM369.9 375.9h1.2v1.2h-1.2zM402.9 345.9h1.2v1.2h-1.2zM393.9 348.9h1.2v1.2h-1.2zM428.9 331.9h1.2v1.2h-1.2zM417.9 345.9h1.2v1.2h-1.2zM445.9 321.9h1.2v1.2h-1.2zM394.9 348.9h1.2v1.2h-1.2zM390.9 348.9h1.2v1.2h-1.2zM419.9 352.9h1.2v1.2h-1.2zM370.9 358.9h1.2v1.2h-1.2zM411.9 348.9h1.2v1.2h-1.2zM432.9 345.9h1.2v1.2h-1.2zM428.9 330.9h1.2v1.2h-1.2zM431.9 345.9h1.2v1.2h-1.2zM380.9 369.9h1.2v1.2h-1.2zM411.9 337.9h1.2v1.2h-1.2zM460.9 336.9h1.2v1.2h-1.2zM427.9 346.9h1.2v1.2h-1.2zM407.9 346.9h1.2v1.2h-1.2zM439.9 328.9h1.2v1.2h-1.2zM404.9 351.9h1.2v1.2h-1.2zM418.9 335.9h1.2v1.2h-1.2zM421.9 339.9h1.2v1.2h-1.2zM419.9 349.9h1.2v1.2h-1.2zM413.9 355.9h1.2v1.2h-1.2zM431.9 344.9h1.2v1.2h-1.2zM425.9 335.9h1.2v1.2h-1.2zM410.9 339.9h1.2v1.2h-1.2zM422.9 351.9h1.2v1.2h-1.2zM417.9 352.9h1.2v1.2h-1.2zM398.9 354.9h1.2v1.2h-1.2zM400.9 343.9h1.2v1.2h-1.2zM388.9 368.9h1.2v1.2h-1.2zM389.9 358.9h1.2v1.2h-1.2zM438.9 331.9h1.2v1.2h-1.2zM364.9 362.9h1.2v1.2h-1.2zM413.9 339.9h1.2v1.2h-1.2zM419.9 343.9h1.2v1.2h-1.2zM395.9 348.9h1.2v1.2h-1.2zM430.9 351.9h1.2v1.2h-1.2zM423.9 340.9h1.2v1.2h-1.2zM390.9 354.9h1.2v1.2h-1.2zM453.9 333.9h1.2v1.2h-1.2zM457.9 328.9h1.2v1.2h-1.2zM436.9 337.9h1.2v1.2h-1.2zM388.9 365.9h1.2v1.2h-1.2zM420.9 338.9h1.2v1.2h-1.2zM434.9 338.9h1.2v1.2h-1.2zM424.9 340.9h1.2v1.2h-1.2zM390.9 368.9h1.2v1.2h-1.2zM439.9 326.9h1.2v1.2h-1.2zM397.9 345.9h1.2v1.2h-1.2zM414.9 341.9h1.2v1.2h-1.2zM445.9 326.9h1.2v1.2h-1.2zM386.9 352.9h1.2v1.2h-1.2zM439.9 335.9h1.2v1.2h-1.2zM387.9 354.9h1.2v1.2h-1.2zM405.9 342.9h1.2v1.2h-1.2zM441.9 335.9h1.2v1.2h-1.2zM430.9 349.9h1.2v1.2h-1.2zM472.9 331.9h1.2v1.2h-1.2zM432.9 336.9h1.2v1.2h-1.2zM435.9 344.9h1.2v1.2h-1.2zM364.9 370.9h1.2v1.2h-1.2zM365.9 376.9h1.2v1.2h-1.2zM429.9 340.9h1.2v1.2h-1.2zM406.9 340.9h1.2v1.2h-1.2zM450.9 330.9h1.2v1.2h-1.2zM399.9 361.9h1.2v1.2h-1.2zM362.9 370.9h1.2v1.2h-1.2zM429.9 336.9h1.2v1.2h-1.2zM372.9 361.9h1.2v1.2h-1.2zM391.9 366.9h1.2v1.2h-1.2zM412.9 357.9h1.2v1.2h-1.2zM433.9 337.9h1.2v1.2h-1.2zM415.9 339.9h1.2v1.2h-1.2zM470.9 317.9h1.2v1.2h-1.2zM416.9 345.9h1.2v1.2h-1.2zM417.9 357.9h1.2v1.2h-1.2zM460.9 329.9h1.2v1.2h-1.2zM371.9 360.9h1.2v1.2h-1.2zM429.9 330.9h1.2v1.2h-1.2zM375.9 369.9h1.2v1.2h-1.2zM482.9 322.9h1.2v1.2h-1.2zM453.9 338.9h1.2v1.2h-1.2zM403.9 345.9h1.2v1.2h-1.2zM412.9 338.9h1.2v1.2h-1.2zM438.9 347.9h1.2v1.2h-1.2zM421.9 333.9h1.2v1.2h-1.2zM390.9 359.9h1.2v1.2h-1.2zM454.9 318.9h1.2v1.2h-1.2zM426.9 333.9h1.2v1.2h-1.2zM408.9 342.9h1.2v1.2h-1.2zM401.9 360.9h1.2v1.2h-1.2zM402.9 357.9h1.2v1.2h-1.2zM430.9 339.9h1.2v1.2h-1.2zM418.9 349.9h1.2v1.2h-1.2zM402.9 360.9h1.2v1.2h-1.2zM438.9 329.9h1.2v1.2h-1.2zM411.9 344.9h1.2v1.2h-1.2zM397.9 346.9h1.2v1.2h-1.2zM404.9 344.9h1.2v1.2h-1.2zM441.9 333.9h1.2v1.2h-1.2zM392.9 348.9h1.2v1.2h-1.2zM431.9 327.9h1.2v1.2h-1.2zM378.9 359.9h1.2v1.2h-1.2zM413.9 348.9h1.2v1.2h-1.2zM434.9 340.9h1.2v1.2h-1.2zM428.9 341.9h1.2v1.2h-1.2zM413.9 347.9h1.2v1.2h-1.2zM447.9 334.9h1.2v1.2h-1.2zM440.9 324.9h1.2v1.2h-1.2zM403.9 347.9h1.2v1.2h-1.2zM399.9 351.9h1.2v1.2h-1.2zM433.9 326.9h1.2v1.2h-1.2zM418.9 338.9h1.2v1.2h-1.2zM455.9 324.9h1.2v1.2h-1.2zM460.9 320.9h1.2v1.2h-1.2zM390.9 352.9h1.2v1.2h-1.2zM445.9 324.9h1.2v1.2h-1.2zM429.9 343.9h1.2v1.2h-1.2zM442.9 324.9h1.2v1.2h-1.2zM415.9 336.9h1.2v1.2h-1.2zM396.9 359.9h1.2v1.2h-1.2zM381.9 361.9h1.2v1.2h-1.2zM434.9 348.9h1.2v1.2h-1.2zM427.9 330.9h1.2v1.2h-1.2zM437.9 336.9h1.2v1.2h-1.2zM420.9 335.9h1.2v1.2h-1.2zM446.9 342.9h1.2v1.2h-1.2zM401.9 346.9h1.2v1.2h-1.2zM392.9 356.9h1.2v1.2h-1.2zM424.9 339.9h1.2v1.2h-1.2zM408.9 355.9h1.2v1.2h-1.2zM408.9 340.9h1.2v1.2h-1.2zM428.9 343.9h1.2v1.2h-1.2zM415.9 342.9h1.2v1.2h-1.2zM414.9 357.9h1.2v1.2h-1.2zM384.9 362.9h1.2v1.2h-1.2zM421.9 340.9h1.2v1.2h-1.2zM419.9 345.9h1.2v1.2h-1.2zM398.9 357.9h1.2v1.2h-1.2zM384.9 363.9h1.2v1.2h-1.2zM423.9 332.9h1.2v1.2h-1.2zM393.9 350.9h1.2v1.2h-1.2zM403.9 355.9h1.2v1.2h-1.2zM432.9 332.9h1.2v1.2h-1.2zM421.9 334.9h1.2v1.2h-1.2zM413.9 340.9h1.2v1.2h-1.2zM417.9 336.9h1.2v1.2h-1.2zM441.9 326.9h1.2v1.2h-1.2zM392.9 353.9h1.2v1.2h-1.2zM422.9 339.9h1.2v1.2h-1.2zM383.9 361.9h1.2v1.2h-1.2zM427.9 348.9h1.2v1.2h-1.2zM437.9 330.9h1.2v1.2h-1.2zM437.9 345.9h1.2v1.2h-1.2zM390.9 361.9h1.2v1.2h-1.2zM462.9 324.9h1.2v1.2h-1.2zM470.9 322.9h1.2v1.2h-1.2zM431.9 340.9h1.2v1.2h-1.2zM412.9 339.9h1.2v1.2h-1.2zM413.9 336.9h1.2v1.2h-1.2zM433.9 339.9h1.2v1.2h-1.2zM422.9 335.9h1.2v1.2h-1.2zM426.9 347.9h1.2v1.2h-1.2zM442.9 323.9h1.2v1.2h-1.2zM481.9 325.9h1.2v1.2h-1.2zM417.9 350.9h1.2v1.2h-1.2zM459.9 318.9h1.2v1.2h-1.2zM431.9 331.9h1.2v1.2h-1.2zM352.9 369.9h1.2v1.2h-1.2zM416.9 346.9h1.2v1.2h-1.2zM375.9 359.9h1.2v1.2h-1.2zM427.9 337.9h1.2v1.2h-1.2zM378.9 366.9h1.2v1.2h-1.2zM376.9 360.9h1.2v1.2h-1.2zM464.9 315.9h1.2v1.2h-1.2zM409.9 345.9h1.2v1.2h-1.2zM395.9 353.9h1.2v1.2h-1.2zM411.9 343.9h1.2v1.2h-1.2zM415.9 356.9h1.2v1.2h-1.2zM390.9 358.9h1.2v1.2h-1.2zM443.9 330.9h1.2v1.2h-1.2zM400.9 344.9h1.2v1.2h-1.2zM442.9 345.9h1.2v1.2h-1.2zM412.9 358.9h1.2v1.2h-1.2zM421.9 336.9h1.2v1.2h-1.2zM420.9 334.9h1.2v1.2h-1.2zM407.9 341.9h1.2v1.2h-1.2zM447.9 321.9h1.2v1.2h-1.2zM459.9 322.9h1.2v1.2h-1.2zM434.9 328.9h1.2v1.2h-1.2zM444.9 322.9h1.2v1.2h-1.2zM434.9 347.9h1.2v1.2h-1.2zM394.9 351.9h1.2v1.2h-1.2zM429.9 341.9h1.2v1.2h-1.2zM411.9 346.9h1.2v1.2h-1.2zM421.9 346.9h1.2v1.2h-1.2zM424.9 352.9h1.2v1.2h-1.2zM402.9 347.9h1.2v1.2h-1.2zM408.9 344.9h1.2v1.2h-1.2zM422.9 336.9h1.2v1.2h-1.2zM420.9 349.9h1.2v1.2h-1.2zM407.9 345.9h1.2v1.2h-1.2zM387.9 360.9h1.2v1.2h-1.2zM394.9 361.9h1.2v1.2h-1.2zM394.9 357.9h1.2v1.2h-1.2zM417.9 355.9h1.2v1.2h-1.2zM405.9 349.9h1.2v1.2h-1.2zM383.9 363.9h1.2v1.2h-1.2zM455.9 320.9h1.2v1.2h-1.2zM417.9 342.9h1.2v1.2h-1.2zM422.9 347.9h1.2v1.2h-1.2zM435.9 332.9h1.2v1.2h-1.2zM379.9 355.9h1.2v1.2h-1.2zM396.9 355.9h1.2v1.2h-1.2zM402.9 344.9h1.2v1.2h-1.2zM390.9 351.9h1.2v1.2h-1.2zM429.9 334.9h1.2v1.2h-1.2zM407.9 339.9h1.2v1.2h-1.2zM412.9 348.9h1.2v1.2h-1.2zM421.9 338.9h1.2v1.2h-1.2zM416.9 342.9h1.2v1.2h-1.2zM419.9 348.9h1.2v1.2h-1.2zM384.9 355.9h1.2v1.2h-1.2zM402.9 349.9h1.2v1.2h-1.2zM431.9 339.9h1.2v1.2h-1.2zM467.9 313.9h1.2v1.2h-1.2zM420.9 348.9h1.2v1.2h-1.2zM378.9 355.9h1.2v1.2h-1.2zM397.9 360.9h1.2v1.2h-1.2zM421.9 344.9h1.2v1.2h-1.2zM467.9 314.9h1.2v1.2h-1.2zM408.9 354.9h1.2v1.2h-1.2zM453.9 321.9h1.2v1.2h-1.2zM412.9 352.9h1.2v1.2h-1.2zM380.9 360.9h1.2v1.2h-1.2zM411.9 359.9h1.2v1.2h-1.2zM440.9 328.9h1.2v1.2h-1.2zM441.9 336.9h1.2v1.2h-1.2zM433.9 348.9h1.2v1.2h-1.2zM404.9 349.9h1.2v1.2h-1.2zM416.9 337.9h1.2v1.2h-1.2zM436.9 338.9h1.2v1.2h-1.2zM419.9 337.9h1.2v1.2h-1.2zM430.9 340.9h1.2v1.2h-1.2zM456.9 333.9h1.2v1.2h-1.2zM433.9 329.9h1.2v1.2h-1.2zM389.9 366.9h1.2v1.2h-1.2zM407.9 357.9h1.2v1.2h-1.2zM422.9 334.9h1.2v1.2h-1.2zM411.9 352.9h1.2v1.2h-1.2zM413.9 343.9h1.2v1.2h-1.2zM424.9 349.9h1.2v1.2h-1.2zM447.9 327.9h1.2v1.2h-1.2zM431.9 349.9h1.2v1.2h-1.2zM386.9 358.9h1.2v1.2h-1.2zM408.9 359.9h1.2v1.2h-1.2zM429.9 331.9h1.2v1.2h-1.2zM401.9 348.9h1.2v1.2h-1.2zM444.9 327.9h1.2v1.2h-1.2zM415.9 345.9h1.2v1.2h-1.2zM411.9 345.9h1.2v1.2h-1.2zM419.9 342.9h1.2v1.2h-1.2zM432.9 339.9h1.2v1.2h-1.2zM443.9 337.9h1.2v1.2h-1.2zM402.9 356.9h1.2v1.2h-1.2zM453.9 325.9h1.2v1.2h-1.2zM416.9 340.9h1.2v1.2h-1.2zM422.9 345.9h1.2v1.2h-1.2zM394.9 349.9h1.2v1.2h-1.2zM407.9 352.9h1.2v1.2h-1.2zM432.9 329.9h1.2v1.2h-1.2zM409.9 350.9h1.2v1.2h-1.2zM450.9 325.9h1.2v1.2h-1.2zM444.9 334.9h1.2v1.2h-1.2zM364.9 378.9h1.2v1.2h-1.2zM446.9 338.9h1.2v1.2h-1.2zM447.9 336.9h1.2v1.2h-1.2zM429.9 353.9h1.2v1.2h-1.2zM418.9 346.9h1.2v1.2h-1.2zM405.9 348.9h1.2v1.2h-1.2zM391.9 351.9h1.2v1.2h-1.2zM422.9 355.9h1.2v1.2h-1.2zM439.9 339.9h1.2v1.2h-1.2zM411.9 338.9h1.2v1.2h-1.2zM378.9 365.9h1.2v1.2h-1.2zM389.9 351.9h1.2v1.2h-1.2zM422.9 344.9h1.2v1.2h-1.2zM381.9 366.9h1.2v1.2h-1.2zM426.9 340.9h1.2v1.2h-1.2zM445.9 325.9h1.2v1.2h-1.2zM415.9 358.9h1.2v1.2h-1.2zM412.9 343.9h1.2v1.2h-1.2zM451.9 342.9h1.2v1.2h-1.2zM420.9 347.9h1.2v1.2h-1.2zM442.9 335.9h1.2v1.2h-1.2zM411.9 356.9h1.2v1.2h-1.2zM393.9 352.9h1.2v1.2h-1.2zM383.9 352.9h1.2v1.2h-1.2zM423.9 333.9h1.2v1.2h-1.2zM401.9 350.9h1.2v1.2h-1.2zM413.9 341.9h1.2v1.2h-1.2zM395.9 349.9h1.2v1.2h-1.2zM419.9 335.9h1.2v1.2h-1.2zM448.9 330.9h1.2v1.2h-1.2zM412.9 351.9h1.2v1.2h-1.2zM444.9 324.9h1.2v1.2h-1.2zM409.9 340.9h1.2v1.2h-1.2zM438.9 338.9h1.2v1.2h-1.2zM430.9 330.9h1.2v1.2h-1.2zM396.9 350.9h1.2v1.2h-1.2zM391.9 368.9h1.2v1.2h-1.2zM392.9 360.9h1.2v1.2h-1.2zM403.9 341.9h1.2v1.2h-1.2zM460.9 326.9h1.2v1.2h-1.2zM410.9 346.9h1.2v1.2h-1.2zM446.9 320.9h1.2v1.2h-1.2zM429.9 345.9h1.2v1.2h-1.2zM414.9 343.9h1.2v1.2h-1.2zM426.9 346.9h1.2v1.2h-1.2zM434.9 339.9h1.2v1.2h-1.2zM468.9 332.9h1.2v1.2h-1.2zM439.9 332.9h1.2v1.2h-1.2zM408.9 343.9h1.2v1.2h-1.2zM415.9 337.9h1.2v1.2h-1.2zM375.9 367.9h1.2v1.2h-1.2zM374.9 362.9h1.2v1.2h-1.2zM429.9 347.9h1.2v1.2h-1.2zM460.9 333.9h1.2v1.2h-1.2zM422.9 333.9h1.2v1.2h-1.2zM398.9 344.9h1.2v1.2h-1.2zM401.9 345.9h1.2v1.2h-1.2zM414.9 346.9h1.2v1.2h-1.2zM451.9 341.9h1.2v1.2h-1.2zM442.9 329.9h1.2v1.2h-1.2zM451.9 319.9h1.2v1.2h-1.2zM458.9 340.9h1.2v1.2h-1.2zM432.9 334.9h1.2v1.2h-1.2zM441.9 339.9h1.2v1.2h-1.2zM448.9 334.9h1.2v1.2h-1.2zM419.9 336.9h1.2v1.2h-1.2zM437.9 348.9h1.2v1.2h-1.2zM420.9 354.9h1.2v1.2h-1.2zM398.9 355.9h1.2v1.2h-1.2zM433.9 336.9h1.2v1.2h-1.2zM410.9 345.9h1.2v1.2h-1.2zM425.9 343.9h1.2v1.2h-1.2zM446.9 328.9h1.2v1.2h-1.2zM417.9 343.9h1.2v1.2h-1.2zM411.9 358.9h1.2v1.2h-1.2zM410.9 341.9h1.2v1.2h-1.2zM427.9 338.9h1.2v1.2h-1.2zM452.9 339.9h1.2v1.2h-1.2zM412.9 354.9h1.2v1.2h-1.2zM438.9 327.9h1.2v1.2h-1.2zM432.9 340.9h1.2v1.2h-1.2zM376.9 365.9h1.2v1.2h-1.2zM392.9 357.9h1.2v1.2h-1.2zM445.9 338.9h1.2v1.2h-1.2zM380.9 356.9h1.2v1.2h-1.2zM437.9 334.9h1.2v1.2h-1.2zM408.9 356.9h1.2v1.2h-1.2zM440.9 330.9h1.2v1.2h-1.2zM360.9 368.9h1.2v1.2h-1.2zM405.9 340.9h1.2v1.2h-1.2zM383.9 369.9h1.2v1.2h-1.2zM436.9 327.9h1.2v1.2h-1.2zM448.9 323.9h1.2v1.2h-1.2zM435.9 339.9h1.2v1.2h-1.2zM454.9 320.9h1.2v1.2h-1.2zM409.9 347.9h1.2v1.2h-1.2zM463.9 327.9h1.2v1.2h-1.2zM446.9 337.9h1.2v1.2h-1.2zM414.9 350.9h1.2v1.2h-1.2zM408.9 353.9h1.2v1.2h-1.2zM401.9 344.9h1.2v1.2h-1.2zM460.9 335.9h1.2v1.2h-1.2zM405.9 356.9h1.2v1.2h-1.2zM425.9 332.9h1.2v1.2h-1.2zM436.9 332.9h1.2v1.2h-1.2zM365.9 369.9h1.2v1.2h-1.2zM392.9 350.9h1.2v1.2h-1.2zM463.9 326.9h1.2v1.2h-1.2zM400.9 352.9h1.2v1.2h-1.2zM434.9 329.9h1.2v1.2h-1.2zM429.9 329.9h1.2v1.2h-1.2zM430.9 345.9h1.2v1.2h-1.2zM483.9 326.9h1.2v1.2h-1.2zM388.9 353.9h1.2v1.2h-1.2zM408.9 351.9h1.2v1.2h-1.2zM426.9 334.9h1.2v1.2h-1.2zM416.9 339.9h1.2v1.2h-1.2zM425.9 342.9h1.2v1.2h-1.2zM440.9 333.9h1.2v1.2h-1.2zM404.9 343.9h1.2v1.2h-1.2zM403.9 348.9h1.2v1.2h-1.2zM421.9 332.9h1.2v1.2h-1.2zM451.9 332.9h1.2v1.2h-1.2zM398.9 356.9h1.2v1.2h-1.2zM432.9 326.9h1.2v1.2h-1.2zM445.9 327.9h1.2v1.2h-1.2zM400.9 359.9h1.2v1.2h-1.2zM423.9 344.9h1.2v1.2h-1.2zM419.9 350.9h1.2v1.2h-1.2zM388.9 355.9h1.2v1.2h-1.2zM424.9 343.9h1.2v1.2h-1.2zM453.9 326.9h1.2v1.2h-1.2zM410.9 349.9h1.2v1.2h-1.2zM448.9 339.9h1.2v1.2h-1.2zM419.9 340.9h1.2v1.2h-1.2zM417.9 344.9h1.2v1.2h-1.2zM396.9 351.9h1.2v1.2h-1.2zM423.9 341.9h1.2v1.2h-1.2zM390.9 355.9h1.2v1.2h-1.2zM412.9 345.9h1.2v1.2h-1.2zM454.9 325.9h1.2v1.2h-1.2zM414.9 351.9h1.2v1.2h-1.2zM401.9 351.9h1.2v1.2h-1.2zM383.9 354.9h1.2v1.2h-1.2zM451.9 337.9h1.2v1.2h-1.2zM450.9 333.9h1.2v1.2h-1.2zM420.9 339.9h1.2v1.2h-1.2zM399.9 347.9h1.2v1.2h-1.2zM415.9 340.9h1.2v1.2h-1.2zM386.9 351.9h1.2v1.2h-1.2zM415.9 343.9h1.2v1.2h-1.2zM420.9 351.9h1.2v1.2h-1.2zM409.9 346.9h1.2v1.2h-1.2zM397.9 365.9h1.2v1.2h-1.2zM409.9 343.9h1.2v1.2h-1.2zM399.9 346.9h1.2v1.2h-1.2zM433.9 332.9h1.2v1.2h-1.2zM430.9 336.9h1.2v1.2h-1.2zM382.9 360.9h1.2v1.2h-1.2zM393.9 354.9h1.2v1.2h-1.2zM458.9 331.9h1.2v1.2h-1.2zM404.9 347.9h1.2v1.2h-1.2zM381.9 368.9h1.2v1.2h-1.2zM460.9 322.9h1.2v1.2h-1.2zM387.9 359.9h1.2v1.2h-1.2zM386.9 354.9h1.2v1.2h-1.2zM391.9 355.9h1.2v1.2h-1.2zM410.9 353.9h1.2v1.2h-1.2zM469.9 328.9h1.2v1.2h-1.2zM453.9 331.9h1.2v1.2h-1.2zM436.9 348.9h1.2v1.2h-1.2zM458.9 317.9h1.2v1.2h-1.2zM471.9 316.9h1.2v1.2h-1.2zM384.9 367.9h1.2v1.2h-1.2zM425.9 349.9h1.2v1.2h-1.2zM404.9 352.9h1.2v1.2h-1.2zM423.9 346.9h1.2v1.2h-1.2zM391.9 354.9h1.2v1.2h-1.2zM413.9 344.9h1.2v1.2h-1.2zM392.9 365.9h1.2v1.2h-1.2zM486.9 327.9h1.2v1.2h-1.2zM421.9 349.9h1.2v1.2h-1.2zM436.9 346.9h1.2v1.2h-1.2zM430.9 346.9h1.2v1.2h-1.2zM428.9 344.9h1.2v1.2h-1.2zM365.9 375.9h1.2v1.2h-1.2zM363.9 364.9h1.2v1.2h-1.2zM403.9 352.9h1.2v1.2h-1.2zM421.9 345.9h1.2v1.2h-1.2zM451.9 331.9h1.2v1.2h-1.2zM458.9 319.9h1.2v1.2h-1.2zM383.9 360.9h1.2v1.2h-1.2zM429.9 342.9h1.2v1.2h-1.2zM443.9 347.9h1.2v1.2h-1.2zM401.9 355.9h1.2v1.2h-1.2zM419.9 354.9h1.2v1.2h-1.2zM403.9 359.9h1.2v1.2h-1.2zM434.9 341.9h1.2v1.2h-1.2zM456.9 338.9h1.2v1.2h-1.2zM382.9 362.9h1.2v1.2h-1.2zM421.9 342.9h1.2v1.2h-1.2zM441.9 331.9h1.2v1.2h-1.2zM439.9 343.9h1.2v1.2h-1.2zM434.9 327.9h1.2v1.2h-1.2zM459.9 317.9h1.2v1.2h-1.2zM411.9 339.9h1.2v1.2h-1.2zM402.9 352.9h1.2v1.2h-1.2zM467.9 328.9h1.2v1.2h-1.2zM418.9 353.9h1.2v1.2h-1.2zM448.9 335.9h1.2v1.2h-1.2zM387.9 358.9h1.2v1.2h-1.2zM404.9 342.9h1.2v1.2h-1.2zM414.9 347.9h1.2v1.2h-1.2zM419.9 341.9h1.2v1.2h-1.2zM467.9 322.9h1.2v1.2h-1.2zM450.9 322.9h1.2v1.2h-1.2zM436.9 325.9h1.2v1.2h-1.2zM405.9 343.9h1.2v1.2h-1.2zM432.9 346.9h1.2v1.2h-1.2zM383.9 365.9h1.2v1.2h-1.2zM400.9 357.9h1.2v1.2h-1.2zM411.9 353.9h1.2v1.2h-1.2zM392.9 354.9h1.2v1.2h-1.2zM388.9 362.9h1.2v1.2h-1.2zM459.9 316.9h1.2v1.2h-1.2zM448.9 324.9h1.2v1.2h-1.2zM408.9 345.9h1.2v1.2h-1.2zM432.9 330.9h1.2v1.2h-1.2zM398.9 345.9h1.2v1.2h-1.2zM413.9 346.9h1.2v1.2h-1.2zM440.9 326.9h1.2v1.2h-1.2zM428.9 336.9h1.2v1.2h-1.2zM396.9 364.9h1.2v1.2h-1.2zM450.9 324.9h1.2v1.2h-1.2zM427.9 335.9h1.2v1.2h-1.2zM397.9 350.9h1.2v1.2h-1.2zM380.9 355.9h1.2v1.2h-1.2zM454.9 332.9h1.2v1.2h-1.2zM415.9 349.9h1.2v1.2h-1.2zM424.9 353.9h1.2v1.2h-1.2zM404.9 348.9h1.2v1.2h-1.2zM414.9 349.9h1.2v1.2h-1.2zM385.9 359.9h1.2v1.2h-1.2zM451.9 327.9h1.2v1.2h-1.2zM418.9 343.9h1.2v1.2h-1.2zM422.9 346.9h1.2v1.2h-1.2zM461.9 317.9h1.2v1.2h-1.2zM372.9 357.9h1.2v1.2h-1.2zM427.9 343.9h1.2v1.2h-1.2zM469.9 322.9h1.2v1.2h-1.2zM416.9 336.9h1.2v1.2h-1.2zM442.9 346.9h1.2v1.2h-1.2zM442.9 328.9h1.2v1.2h-1.2zM466.9 320.9h1.2v1.2h-1.2zM457.9 329.9h1.2v1.2h-1.2zM420.9 345.9h1.2v1.2h-1.2zM464.9 324.9h1.2v1.2h-1.2zM357.9 368.9h1.2v1.2h-1.2zM401.9 347.9h1.2v1.2h-1.2zM382.9 355.9h1.2v1.2h-1.2zM386.9 356.9h1.2v1.2h-1.2zM435.9 331.9h1.2v1.2h-1.2zM443.9 332.9h1.2v1.2h-1.2zM379.9 357.9h1.2v1.2h-1.2zM457.9 335.9h1.2v1.2h-1.2zM447.9 337.9h1.2v1.2h-1.2zM427.9 351.9h1.2v1.2h-1.2zM439.9 325.9h1.2v1.2h-1.2zM427.9 336.9h1.2v1.2h-1.2zM409.9 351.9h1.2v1.2h-1.2zM392.9 352.9h1.2v1.2h-1.2zM415.9 338.9h1.2v1.2h-1.2zM445.9 346.9h1.2v1.2h-1.2zM395.9 355.9h1.2v1.2h-1.2zM391.9 353.9h1.2v1.2h-1.2zM437.9 338.9h1.2v1.2h-1.2zM451.9 323.9h1.2v1.2h-1.2zM405.9 354.9h1.2v1.2h-1.2zM450.9 326.9h1.2v1.2h-1.2zM415.9 341.9h1.2v1.2h-1.2zM411.9 349.9h1.2v1.2h-1.2zM436.9 328.9h1.2v1.2h-1.2zM444.9 328.9h1.2v1.2h-1.2zM422.9 340.9h1.2v1.2h-1.2zM414.9 336.9h1.2v1.2h-1.2zM376.9 359.9h1.2v1.2h-1.2zM460.9 331.9h1.2v1.2h-1.2zM431.9 337.9h1.2v1.2h-1.2zM393.9 362.9h1.2v1.2h-1.2zM433.9 328.9h1.2v1.2h-1.2zM457.9 325.9h1.2v1.2h-1.2zM422.9 352.9h1.2v1.2h-1.2zM443.9 324.9h1.2v1.2h-1.2zM379.9 360.9h1.2v1.2h-1.2zM436.9 336.9h1.2v1.2h-1.2zM426.9 339.9h1.2v1.2h-1.2zM351.9 368.9h1.2v1.2h-1.2zM423.9 343.9h1.2v1.2h-1.2zM457.9 315.9h1.2v1.2h-1.2zM399.9 352.9h1.2v1.2h-1.2zM371.9 367.9h1.2v1.2h-1.2zM437.9 331.9h1.2v1.2h-1.2zM413.9 338.9h1.2v1.2h-1.2zM382.9 368.9h1.2v1.2h-1.2zM381.9 365.9h1.2v1.2h-1.2zM388.9 356.9h1.2v1.2h-1.2zM440.9 335.9h1.2v1.2h-1.2zM423.9 338.9h1.2v1.2h-1.2zM394.9 353.9h1.2v1.2h-1.2zM414.9 359.9h1.2v1.2h-1.2zM421.9 355.9h1.2v1.2h-1.2zM402.9 346.9h1.2v1.2h-1.2zM414.9 345.9h1.2v1.2h-1.2zM417.9 334.9h1.2v1.2h-1.2zM398.9 347.9h1.2v1.2h-1.2zM390.9 349.9h1.2v1.2h-1.2zM428.9 335.9h1.2v1.2h-1.2zM388.9 354.9h1.2v1.2h-1.2zM406.9 346.9h1.2v1.2h-1.2zM398.9 348.9h1.2v1.2h-1.2zM469.9 326.9h1.2v1.2h-1.2zM453.9 330.9h1.2v1.2h-1.2zM388.9 351.9h1.2v1.2h-1.2zM388.9 349.9h1.2v1.2h-1.2zM446.9 324.9h1.2v1.2h-1.2zM470.9 313.9h1.2v1.2h-1.2zM408.9 341.9h1.2v1.2h-1.2zM385.9 354.9h1.2v1.2h-1.2zM446.9 339.9h1.2v1.2h-1.2zM467.9 323.9h1.2v1.2h-1.2zM427.9 347.9h1.2v1.2h-1.2zM420.9 344.9h1.2v1.2h-1.2zM438.9 330.9h1.2v1.2h-1.2zM374.9 363.9h1.2v1.2h-1.2zM410.9 343.9h1.2v1.2h-1.2zM466.9 315.9h1.2v1.2h-1.2zM403.9 353.9h1.2v1.2h-1.2zM432.9 344.9h1.2v1.2h-1.2zM437.9 324.9h1.2v1.2h-1.2zM395.9 346.9h1.2v1.2h-1.2zM406.9 342.9h1.2v1.2h-1.2zM407.9 350.9h1.2v1.2h-1.2zM418.9 351.9h1.2v1.2h-1.2zM371.9 359.9h1.2v1.2h-1.2zM484.9 318.9h1.2v1.2h-1.2zM406.9 341.9h1.2v1.2h-1.2zM400.9 345.9h1.2v1.2h-1.2zM394.9 355.9h1.2v1.2h-1.2zM413.9 349.9h1.2v1.2h-1.2zM394.9 364.9h1.2v1.2h-1.2zM419.9 351.9h1.2v1.2h-1.2zM424.9 332.9h1.2v1.2h-1.2zM420.9 343.9h1.2v1.2h-1.2zM446.9 335.9h1.2v1.2h-1.2zM456.9 316.9h1.2v1.2h-1.2zM426.9 336.9h1.2v1.2h-1.2zM395.9 351.9h1.2v1.2h-1.2zM435.9 340.9h1.2v1.2h-1.2zM412.9 341.9h1.2v1.2h-1.2zM415.9 354.9h1.2v1.2h-1.2zM429.9 335.9h1.2v1.2h-1.2zM381.9 367.9h1.2v1.2h-1.2zM407.9 354.9h1.2v1.2h-1.2zM420.9 333.9h1.2v1.2h-1.2zM444.9 321.9h1.2v1.2h-1.2zM418.9 334.9h1.2v1.2h-1.2zM432.9 331.9h1.2v1.2h-1.2zM435.9 330.9h1.2v1.2h-1.2zM435.9 327.9h1.2v1.2h-1.2zM413.9 358.9h1.2v1.2h-1.2zM459.9 315.9h1.2v1.2h-1.2zM453.9 342.9h1.2v1.2h-1.2zM445.9 328.9h1.2v1.2h-1.2zM430.9 335.9h1.2v1.2h-1.2zM439.9 329.9h1.2v1.2h-1.2zM448.9 320.9h1.2v1.2h-1.2zM414.9 335.9h1.2v1.2h-1.2zM428.9 329.9h1.2v1.2h-1.2zM411.9 347.9h1.2v1.2h-1.2zM442.9 330.9h1.2v1.2h-1.2zM392.9 363.9h1.2v1.2h-1.2zM422.9 343.9h1.2v1.2h-1.2zM446.9 340.9h1.2v1.2h-1.2zM375.9 365.9h1.2v1.2h-1.2zM430.9 344.9h1.2v1.2h-1.2zM390.9 367.9h1.2v1.2h-1.2zM421.9 341.9h1.2v1.2h-1.2zM408.9 346.9h1.2v1.2h-1.2zM400.9 354.9h1.2v1.2h-1.2zM474.9 328.9h1.2v1.2h-1.2zM441.9 337.9h1.2v1.2h-1.2zM450.9 321.9h1.2v1.2h-1.2zM396.9 345.9h1.2v1.2h-1.2zM413.9 354.9h1.2v1.2h-1.2zM462.9 335.9h1.2v1.2h-1.2zM399.9 350.9h1.2v1.2h-1.2zM456.9 340.9h1.2v1.2h-1.2zM339.9 373.9h1.2v1.2h-1.2zM404.9 357.9h1.2v1.2h-1.2zM444.9 325.9h1.2v1.2h-1.2zM385.9 360.9h1.2v1.2h-1.2zM406.9 360.9h1.2v1.2h-1.2zM439.9 336.9h1.2v1.2h-1.2zM428.9 337.9h1.2v1.2h-1.2zM396.9 348.9h1.2v1.2h-1.2zM453.9 337.9h1.2v1.2h-1.2zM423.9 339.9h1.2v1.2h-1.2zM413.9 352.9h1.2v1.2h-1.2zM441.9 342.9h1.2v1.2h-1.2zM424.9 350.9h1.2v1.2h-1.2zM414.9 338.9h1.2v1.2h-1.2zM404.9 359.9h1.2v1.2h-1.2zM410.9 352.9h1.2v1.2h-1.2zM401.9 342.9h1.2v1.2h-1.2zM407.9 340.9h1.2v1.2h-1.2zM425.9 340.9h1.2v1.2h-1.2zM430.9 332.9h1.2v1.2h-1.2zM447.9 326.9h1.2v1.2h-1.2zM376.9 374.9h1.2v1.2h-1.2zM443.9 346.9h1.2v1.2h-1.2zM382.9 359.9h1.2v1.2h-1.2zM444.9 330.9h1.2v1.2h-1.2zM441.9 338.9h1.2v1.2h-1.2zM433.9 346.9h1.2v1.2h-1.2zM453.9 323.9h1.2v1.2h-1.2zM390.9 357.9h1.2v1.2h-1.2zM407.9 342.9h1.2v1.2h-1.2zM355.9 378.9h1.2v1.2h-1.2zM382.9 364.9h1.2v1.2h-1.2zM418.9 341.9h1.2v1.2h-1.2zM459.9 324.9h1.2v1.2h-1.2zM360.9 363.9h1.2v1.2h-1.2zM442.9 343.9h1.2v1.2h-1.2zM435.9 329.9h1.2v1.2h-1.2zM423.9 353.9h1.2v1.2h-1.2zM407.9 348.9h1.2v1.2h-1.2zM419.9 334.9h1.2v1.2h-1.2zM414.9 340.9h1.2v1.2h-1.2zM378.9 362.9h1.2v1.2h-1.2zM380.9 354.9h1.2v1.2h-1.2zM394.9 366.9h1.2v1.2h-1.2zM407.9 349.9h1.2v1.2h-1.2zM403.9 350.9h1.2v1.2h-1.2zM442.9 340.9h1.2v1.2h-1.2zM444.9 333.9h1.2v1.2h-1.2zM431.9 334.9h1.2v1.2h-1.2zM444.9 332.9h1.2v1.2h-1.2zM428.9 345.9h1.2v1.2h-1.2zM460.9 327.9h1.2v1.2h-1.2zM408.9 357.9h1.2v1.2h-1.2zM400.9 356.9h1.2v1.2h-1.2zM428.9 351.9h1.2v1.2h-1.2zM349.9 372.9h1.2v1.2h-1.2zM408.9 347.9h1.2v1.2h-1.2zM406.9 357.9h1.2v1.2h-1.2zM393.9 349.9h1.2v1.2h-1.2zM432.9 333.9h1.2v1.2h-1.2zM449.9 329.9h1.2v1.2h-1.2zM437.9 326.9h1.2v1.2h-1.2zM410.9 350.9h1.2v1.2h-1.2zM447.9 324.9h1.2v1.2h-1.2zM412.9 344.9h1.2v1.2h-1.2zM421.9 343.9h1.2v1.2h-1.2zM432.9 328.9h1.2v1.2h-1.2zM399.9 345.9h1.2v1.2h-1.2zM407.9 351.9h1.2v1.2h-1.2zM475.9 331.9h1.2v1.2h-1.2zM427.9 332.9h1.2v1.2h-1.2zM410.9 357.9h1.2v1.2h-1.2zM395.9 345.9h1.2v1.2h-1.2zM414.9 353.9h1.2v1.2h-1.2zM461.9 325.9h1.2v1.2h-1.2zM407.9 344.9h1.2v1.2h-1.2zM405.9 347.9h1.2v1.2h-1.2zM421.9 335.9h1.2v1.2h-1.2zM464.9 311.9h1.2v1.2h-1.2zM424.9 342.9h1.2v1.2h-1.2zM431.9 333.9h1.2v1.2h-1.2zM440.9 332.9h1.2v1.2h-1.2zM434.9 336.9h1.2v1.2h-1.2zM430.9 342.9h1.2v1.2h-1.2zM426.9 332.9h1.2v1.2h-1.2zM401.9 352.9h1.2v1.2h-1.2zM427.9 333.9h1.2v1.2h-1.2zM433.9 333.9h1.2v1.2h-1.2zM433.9 327.9h1.2v1.2h-1.2zM390.9 356.9h1.2v1.2h-1.2zM440.9 327.9h1.2v1.2h-1.2zM422.9 350.9h1.2v1.2h-1.2zM376.9 362.9h1.2v1.2h-1.2zM409.9 354.9h1.2v1.2h-1.2zM438.9 332.9h1.2v1.2h-1.2zM396.9 353.9h1.2v1.2h-1.2zM424.9 345.9h1.2v1.2h-1.2zM421.9 348.9h1.2v1.2h-1.2zM403.9 362.9h1.2v1.2h-1.2zM462.9 319.9h1.2v1.2h-1.2zM385.9 366.9h1.2v1.2h-1.2zM403.9 343.9h1.2v1.2h-1.2zM440.9 342.9h1.2v1.2h-1.2zM415.9 346.9h1.2v1.2h-1.2zM390.9 360.9h1.2v1.2h-1.2zM362.9 373.9h1.2v1.2h-1.2zM379.9 368.9h1.2v1.2h-1.2zM398.9 360.9h1.2v1.2h-1.2zM398.9 352.9h1.2v1.2h-1.2zM400.9 348.9h1.2v1.2h-1.2zM424.9 337.9h1.2v1.2h-1.2zM427.9 334.9h1.2v1.2h-1.2zM425.9 348.9h1.2v1.2h-1.2zM416.9 335.9h1.2v1.2h-1.2zM436.9 329.9h1.2v1.2h-1.2zM411.9 340.9h1.2v1.2h-1.2zM449.9 335.9h1.2v1.2h-1.2zM421.9 347.9h1.2v1.2h-1.2zM434.9 344.9h1.2v1.2h-1.2zM484.9 316.9h1.2v1.2h-1.2zM391.9 357.9h1.2v1.2h-1.2zM375.9 368.9h1.2v1.2h-1.2zM409.9 359.9h1.2v1.2h-1.2zM438.9 344.9h1.2v1.2h-1.2zM393.9 353.9h1.2v1.2h-1.2zM458.9 321.9h1.2v1.2h-1.2zM447.9 345.9h1.2v1.2h-1.2zM405.9 353.9h1.2v1.2h-1.2zM358.9 364.9h1.2v1.2h-1.2zM392.9 351.9h1.2v1.2h-1.2zM420.9 337.9h1.2v1.2h-1.2zM466.9 311.9h1.2v1.2h-1.2zM445.9 335.9h1.2v1.2h-1.2zM392.9 361.9h1.2v1.2h-1.2zM380.9 353.9h1.2v1.2h-1.2zM427.9 329.9h1.2v1.2h-1.2zM409.9 344.9h1.2v1.2h-1.2zM405.9 360.9h1.2v1.2h-1.2zM395.9 357.9h1.2v1.2h-1.2zM434.9 342.9h1.2v1.2h-1.2zM403.9 351.9h1.2v1.2h-1.2zM432.9 348.9h1.2v1.2h-1.2zM399.9 354.9h1.2v1.2h-1.2zM427.9 340.9h1.2v1.2h-1.2zM445.9 341.9h1.2v1.2h-1.2zM440.9 336.9h1.2v1.2h-1.2zM425.9 331.9h1.2v1.2h-1.2zM419.9 333.9h1.2v1.2h-1.2zM441.9 324.9h1.2v1.2h-1.2zM402.9 350.9h1.2v1.2h-1.2zM417.9 346.9h1.2v1.2h-1.2zM422.9 338.9h1.2v1.2h-1.2zM436.9 331.9h1.2v1.2h-1.2zM456.9 327.9h1.2v1.2h-1.2zM430.9 329.9h1.2v1.2h-1.2zM423.9 336.9h1.2v1.2h-1.2zM438.9 334.9h1.2v1.2h-1.2zM422.9 337.9h1.2v1.2h-1.2zM378.9 354.9h1.2v1.2h-1.2zM390.9 363.9h1.2v1.2h-1.2zM439.9 334.9h1.2v1.2h-1.2zM392.9 355.9h1.2v1.2h-1.2zM430.9 331.9h1.2v1.2h-1.2zM471.9 334.9h1.2v1.2h-1.2zM465.9 323.9h1.2v1.2h-1.2zM404.9 341.9h1.2v1.2h-1.2zM380.9 363.9h1.2v1.2h-1.2zM377.9 361.9h1.2v1.2h-1.2zM429.9 333.9h1.2v1.2h-1.2zM405.9 341.9h1.2v1.2h-1.2zM446.9 330.9h1.2v1.2h-1.2zM402.9 358.9h1.2v1.2h-1.2zM452.9 342.9h1.2v1.2h-1.2zM446.9 336.9h1.2v1.2h-1.2zM404.9 345.9h1.2v1.2h-1.2zM448.9 319.9h1.2v1.2h-1.2zM450.9 331.9h1.2v1.2h-1.2zM398.9 361.9h1.2v1.2h-1.2zM425.9 339.9h1.2v1.2h-1.2zM369.9 361.9h1.2v1.2h-1.2zM457.9 332.9h1.2v1.2h-1.2zM406.9 347.9h1.2v1.2h-1.2zM400.9 346.9h1.2v1.2h-1.2zM402.9 351.9h1.2v1.2h-1.2zM449.9 325.9h1.2v1.2h-1.2zM409.9 352.9h1.2v1.2h-1.2zM428.9 342.9h1.2v1.2h-1.2zM454.9 337.9h1.2v1.2h-1.2zM436.9 335.9h1.2v1.2h-1.2zM408.9 350.9h1.2v1.2h-1.2zM452.9 328.9h1.2v1.2h-1.2zM348.9 371.9h1.2v1.2h-1.2zM420.9 336.9h1.2v1.2h-1.2zM369.9 362.9h1.2v1.2h-1.2zM441.9 340.9h1.2v1.2h-1.2zM415.9 355.9h1.2v1.2h-1.2zM408.9 360.9h1.2v1.2h-1.2zM436.9 347.9h1.2v1.2h-1.2zM423.9 347.9h1.2v1.2h-1.2zM385.9 361.9h1.2v1.2h-1.2zM395.9 354.9h1.2v1.2h-1.2zM410.9 338.9h1.2v1.2h-1.2zM414.9 337.9h1.2v1.2h-1.2zM372.9 358.9h1.2v1.2h-1.2zM435.9 333.9h1.2v1.2h-1.2zM415.9 350.9h1.2v1.2h-1.2zM393.9 360.9h1.2v1.2h-1.2zM410.9 340.9h1.2v1.2h-1.2zM401.9 349.9h1.2v1.2h-1.2zM456.9 320.9h1.2v1.2h-1.2zM388.9 363.9h1.2v1.2h-1.2zM380.9 371.9h1.2v1.2h-1.2zM383.9 364.9h1.2v1.2h-1.2zM440.9 334.9h1.2v1.2h-1.2zM405.9 346.9h1.2v1.2h-1.2zM399.9 348.9h1.2v1.2h-1.2zM403.9 346.9h1.2v1.2h-1.2zM395.9 352.9h1.2v1.2h-1.2zM412.9 355.9h1.2v1.2h-1.2zM326.9 390.9h1.2v1.2h-1.2zM451.9 335.9h1.2v1.2h-1.2zM406.9 351.9h1.2v1.2h-1.2zM445.9 330.9h1.2v1.2h-1.2zM435.9 335.9h1.2v1.2h-1.2zM400.9 358.9h1.2v1.2h-1.2zM420.9 346.9h1.2v1.2h-1.2zM442.9 327.9h1.2v1.2h-1.2zM462.9 320.9h1.2v1.2h-1.2zM395.9 360.9h1.2v1.2h-1.2zM363.9 366.9h1.2v1.2h-1.2zM378.9 360.9h1.2v1.2h-1.2zM444.9 346.9h1.2v1.2h-1.2zM452.9 326.9h1.2v1.2h-1.2zM389.9 348.9h1.2v1.2h-1.2zM414.9 339.9h1.2v1.2h-1.2zM363.9 362.9h1.2v1.2h-1.2zM436.9 349.9h1.2v1.2h-1.2zM449.9 326.9h1.2v1.2h-1.2zM428.9 352.9h1.2v1.2h-1.2zM469.9 335.9h1.2v1.2h-1.2zM417.9 339.9h1.2v1.2h-1.2zM376.9 368.9h1.2v1.2h-1.2zM425.9 338.9h1.2v1.2h-1.2zM420.9 341.9h1.2v1.2h-1.2zM438.9 328.9h1.2v1.2h-1.2zM454.9 333.9h1.2v1.2h-1.2zM425.9 344.9h1.2v1.2h-1.2zM429.9 344.9h1.2v1.2h-1.2zM392.9 359.9h1.2v1.2h-1.2zM434.9 325.9h1.2v1.2h-1.2zM446.9 334.9h1.2v1.2h-1.2zM436.9 330.9h1.2v1.2h-1.2zM393.9 351.9h1.2v1.2h-1.2zM406.9 350.9h1.2v1.2h-1.2zM455.9 330.9h1.2v1.2h-1.2zM411.9 357.9h1.2v1.2h-1.2zM410.9 347.9h1.2v1.2h-1.2zM415.9 353.9h1.2v1.2h-1.2zM413.9 337.9h1.2v1.2h-1.2zM459.9 314.9h1.2v1.2h-1.2zM443.9 327.9h1.2v1.2h-1.2zM387.9 353.9h1.2v1.2h-1.2zM366.9 368.9h1.2v1.2h-1.2zM395.9 363.9h1.2v1.2h-1.2zM396.9 358.9h1.2v1.2h-1.2zM379.9 361.9h1.2v1.2h-1.2zM454.9 317.9h1.2v1.2h-1.2zM429.9 337.9h1.2v1.2h-1.2zM437.9 329.9h1.2v1.2h-1.2zM426.9 349.9h1.2v1.2h-1.2zM413.9 353.9h1.2v1.2h-1.2zM443.9 321.9h1.2v1.2h-1.2zM418.9 347.9h1.2v1.2h-1.2zM418.9 350.9h1.2v1.2h-1.2zM394.9 360.9h1.2v1.2h-1.2zM415.9 335.9h1.2v1.2h-1.2zM446.9 327.9h1.2v1.2h-1.2zM466.9 317.9h1.2v1.2h-1.2zM449.9 331.9h1.2v1.2h-1.2zM382.9 353.9h1.2v1.2h-1.2zM451.9 318.9h1.2v1.2h-1.2zM462.9 333.9h1.2v1.2h-1.2zM418.9 354.9h1.2v1.2h-1.2zM381.9 354.9h1.2v1.2h-1.2zM414.9 358.9h1.2v1.2h-1.2zM413.9 357.9h1.2v1.2h-1.2zM418.9 339.9h1.2v1.2h-1.2zM417.9 340.9h1.2v1.2h-1.2zM409.9 356.9h1.2v1.2h-1.2zM456.9 330.9h1.2v1.2h-1.2zM369.9 371.9h1.2v1.2h-1.2zM394.9 350.9h1.2v1.2h-1.2zM433.9 340.9h1.2v1.2h-1.2zM423.9 352.9h1.2v1.2h-1.2zM415.9 344.9h1.2v1.2h-1.2zM411.9 341.9h1.2v1.2h-1.2zM459.9 319.9h1.2v1.2h-1.2zM460.9 330.9h1.2v1.2h-1.2zM412.9 346.9h1.2v1.2h-1.2zM409.9 341.9h1.2v1.2h-1.2zM350.9 370.9h1.2v1.2h-1.2zM388.9 350.9h1.2v1.2h-1.2zM400.9 361.9h1.2v1.2h-1.2zM386.9 357.9h1.2v1.2h-1.2zM418.9 352.9h1.2v1.2h-1.2zM413.9 342.9h1.2v1.2h-1.2zM442.9 337.9h1.2v1.2h-1.2zM399.9 344.9h1.2v1.2h-1.2zM385.9 358.9h1.2v1.2h-1.2zM385.9 362.9h1.2v1.2h-1.2zM411.9 342.9h1.2v1.2h-1.2zM429.9 348.9h1.2v1.2h-1.2zM383.9 359.9h1.2v1.2h-1.2zM373.9 361.9h1.2v1.2h-1.2zM452.9 338.9h1.2v1.2h-1.2zM441.9 334.9h1.2v1.2h-1.2zM452.9 323.9h1.2v1.2h-1.2zM424.9 334.9h1.2v1.2h-1.2zM449.9 324.9h1.2v1.2h-1.2zM425.9 352.9h1.2v1.2h-1.2zM454.9 330.9h1.2v1.2h-1.2zM458.9 335.9h1.2v1.2h-1.2zM426.9 335.9h1.2v1.2h-1.2zM421.9 350.9h1.2v1.2h-1.2zM381.9 360.9h1.2v1.2h-1.2zM442.9 344.9h1.2v1.2h-1.2zM467.9 330.9h1.2v1.2h-1.2zM409.9 339.9h1.2v1.2h-1.2zM421.9 337.9h1.2v1.2h-1.2zM441.9 325.9h1.2v1.2h-1.2zM447.9 335.9h1.2v1.2h-1.2zM434.9 345.9h1.2v1.2h-1.2zM408.9 352.9h1.2v1.2h-1.2zM409.9 349.9h1.2v1.2h-1.2zM420.9 342.9h1.2v1.2h-1.2zM391.9 359.9h1.2v1.2h-1.2zM457.9 321.9h1.2v1.2h-1.2zM374.9 364.9h1.2v1.2h-1.2zM433.9 349.9h1.2v1.2h-1.2zM335.9 375.9h1.2v1.2h-1.2zM414.9 344.9h1.2v1.2h-1.2zM435.9 342.9h1.2v1.2h-1.2zM432.9 342.9h1.2v1.2h-1.2zM427.9 331.9h1.2v1.2h-1.2zM410.9 337.9h1.2v1.2h-1.2zM459.9 331.9h1.2v1.2h-1.2zM465.9 325.9h1.2v1.2h-1.2zM404.9 362.9h1.2v1.2h-1.2zM423.9 342.9h1.2v1.2h-1.2zM453.9 316.9h1.2v1.2h-1.2zM425.9 350.9h1.2v1.2h-1.2zM387.9 369.9h1.2v1.2h-1.2zM409.9 360.9h1.2v1.2h-1.2zM422.9 349.9h1.2v1.2h-1.2zM461.9 320.9h1.2v1.2h-1.2zM442.9 326.9h1.2v1.2h-1.2zM388.9 359.9h1.2v1.2h-1.2zM384.9 360.9h1.2v1.2h-1.2zM429.9 339.9h1.2v1.2h-1.2zM406.9 359.9h1.2v1.2h-1.2zM436.9 341.9h1.2v1.2h-1.2zM397.9 347.9h1.2v1.2h-1.2zM426.9 353.9h1.2v1.2h-1.2zM383.9 358.9h1.2v1.2h-1.2zM437.9 346.9h1.2v1.2h-1.2zM453.9 329.9h1.2v1.2h-1.2zM424.9 335.9h1.2v1.2h-1.2zM450.9 342.9h1.2v1.2h-1.2zM414.9 356.9h1.2v1.2h-1.2zM449.9 340.9h1.2v1.2h-1.2zM402.9 355.9h1.2v1.2h-1.2zM406.9 358.9h1.2v1.2h-1.2zM448.9 321.9h1.2v1.2h-1.2zM428.9 340.9h1.2v1.2h-1.2zM407.9 347.9h1.2v1.2h-1.2zM381.9 362.9h1.2v1.2h-1.2zM416.9 344.9h1.2v1.2h-1.2zM438.9 342.9h1.2v1.2h-1.2zM457.9 337.9h1.2v1.2h-1.2zM405.9 350.9h1.2v1.2h-1.2zM428.9 348.9h1.2v1.2h-1.2zM391.9 358.9h1.2v1.2h-1.2z" fill="#e8467a"/>
<path d="M431.9 352.9h1.2v1.2h-1.2zM437.9 363.9h1.2v1.2h-1.2zM415.9 362.9h1.2v1.2h-1.2zM451.9 345.9h1.2v1.2h-1.2zM427.9 365.9h1.2v1.2h-1.2zM438.9 359.9h1.2v1.2h-1.2zM400.9 365.9h1.2v1.2h-1.2zM450.9 352.9h1.2v1.2h-1.2zM389.9 369.9h1.2v1.2h-1.2zM463.9 346.9h1.2v1.2h-1.2zM411.9 360.9h1.2v1.2h-1.2zM432.9 361.9h1.2v1.2h-1.2zM404.9 364.9h1.2v1.2h-1.2zM388.9 373.9h1.2v1.2h-1.2zM410.9 367.9h1.2v1.2h-1.2zM379.9 375.9h1.2v1.2h-1.2zM420.9 362.9h1.2v1.2h-1.2zM417.9 370.9h1.2v1.2h-1.2zM409.9 364.9h1.2v1.2h-1.2zM419.9 368.9h1.2v1.2h-1.2zM430.9 354.9h1.2v1.2h-1.2zM371.9 376.9h1.2v1.2h-1.2zM421.9 363.9h1.2v1.2h-1.2zM429.9 355.9h1.2v1.2h-1.2zM399.9 366.9h1.2v1.2h-1.2zM443.9 354.9h1.2v1.2h-1.2zM407.9 368.9h1.2v1.2h-1.2zM450.9 346.9h1.2v1.2h-1.2zM421.9 368.9h1.2v1.2h-1.2zM435.9 352.9h1.2v1.2h-1.2zM427.9 355.9h1.2v1.2h-1.2zM422.9 357.9h1.2v1.2h-1.2zM413.9 361.9h1.2v1.2h-1.2zM463.9 353.9h1.2v1.2h-1.2zM420.9 357.9h1.2v1.2h-1.2zM398.9 369.9h1.2v1.2h-1.2zM427.9 358.9h1.2v1.2h-1.2zM397.9 378.9h1.2v1.2h-1.2zM428.9 357.9h1.2v1.2h-1.2zM395.9 372.9h1.2v1.2h-1.2zM393.9 372.9h1.2v1.2h-1.2zM432.9 352.9h1.2v1.2h-1.2zM466.9 347.9h1.2v1.2h-1.2zM383.9 373.9h1.2v1.2h-1.2zM443.9 363.9h1.2v1.2h-1.2zM476.9 334.9h1.2v1.2h-1.2zM385.9 378.9h1.2v1.2h-1.2zM441.9 348.9h1.2v1.2h-1.2zM457.9 346.9h1.2v1.2h-1.2zM410.9 361.9h1.2v1.2h-1.2zM459.9 350.9h1.2v1.2h-1.2zM409.9 365.9h1.2v1.2h-1.2zM418.9 357.9h1.2v1.2h-1.2zM433.9 363.9h1.2v1.2h-1.2zM411.9 362.9h1.2v1.2h-1.2zM412.9 361.9h1.2v1.2h-1.2zM420.9 363.9h1.2v1.2h-1.2zM384.9 372.9h1.2v1.2h-1.2zM401.9 378.9h1.2v1.2h-1.2zM438.9 351.9h1.2v1.2h-1.2zM462.9 340.9h1.2v1.2h-1.2zM416.9 368.9h1.2v1.2h-1.2zM426.9 362.9h1.2v1.2h-1.2zM451.9 355.9h1.2v1.2h-1.2zM397.9 368.9h1.2v1.2h-1.2zM442.9 352.9h1.2v1.2h-1.2zM384.9 371.9h1.2v1.2h-1.2zM427.9 364.9h1.2v1.2h-1.2zM389.9 374.9h1.2v1.2h-1.2zM435.9 360.9h1.2v1.2h-1.2zM414.9 363.9h1.2v1.2h-1.2zM363.9 383.9h1.2v1.2h-1.2zM407.9 362.9h1.2v1.2h-1.2zM403.9 365.9h1.2v1.2h-1.2zM437.9 355.9h1.2v1.2h-1.2zM400.9 366.9h1.2v1.2h-1.2zM430.9 355.9h1.2v1.2h-1.2zM411.9 361.9h1.2v1.2h-1.2zM436.9 356.9h1.2v1.2h-1.2zM478.9 334.9h1.2v1.2h-1.2zM433.9 355.9h1.2v1.2h-1.2zM419.9 362.9h1.2v1.2h-1.2zM439.9 356.9h1.2v1.2h-1.2zM437.9 359.9h1.2v1.2h-1.2zM445.9 357.9h1.2v1.2h-1.2zM437.9 354.9h1.2v1.2h-1.2zM431.9 353.9h1.2v1.2h-1.2zM466.9 354.9h1.2v1.2h-1.2zM448.9 347.9h1.2v1.2h-1.2zM398.9 370.9h1.2v1.2h-1.2zM455.9 344.9h1.2v1.2h-1.2zM390.9 370.9h1.2v1.2h-1.2zM450.9 350.9h1.2v1.2h-1.2zM441.9 352.9h1.2v1.2h-1.2zM370.9 383.9h1.2v1.2h-1.2zM428.9 367.9h1.2v1.2h-1.2zM400.9 368.9h1.2v1.2h-1.2zM408.9 361.9h1.2v1.2h-1.2zM467.9 342.9h1.2v1.2h-1.2zM442.9 353.9h1.2v1.2h-1.2zM399.9 368.9h1.2v1.2h-1.2zM438.9 357.9h1.2v1.2h-1.2zM444.9 352.9h1.2v1.2h-1.2zM366.9 389.9h1.2v1.2h-1.2zM438.9 356.9h1.2v1.2h-1.2zM451.9 346.9h1.2v1.2h-1.2zM403.9 368.9h1.2v1.2h-1.2zM408.9 363.9h1.2v1.2h-1.2zM409.9 366.9h1.2v1.2h-1.2zM448.9 352.9h1.2v1.2h-1.2zM418.9 359.9h1.2v1.2h-1.2zM408.9 364.9h1.2v1.2h-1.2zM392.9 375.9h1.2v1.2h-1.2zM428.9 364.9h1.2v1.2h-1.2zM422.9 358.9h1.2v1.2h-1.2zM434.9 356.9h1.2v1.2h-1.2zM410.9 375.9h1.2v1.2h-1.2zM373.9 378.9h1.2v1.2h-1.2zM443.9 352.9h1.2v1.2h-1.2zM456.9 347.9h1.2v1.2h-1.2zM425.9 361.9h1.2v1.2h-1.2zM406.9 367.9h1.2v1.2h-1.2zM418.9 358.9h1.2v1.2h-1.2zM432.9 351.9h1.2v1.2h-1.2zM423.9 356.9h1.2v1.2h-1.2zM395.9 369.9h1.2v1.2h-1.2zM433.9 358.9h1.2v1.2h-1.2zM383.9 375.9h1.2v1.2h-1.2zM422.9 356.9h1.2v1.2h-1.2zM439.9 350.9h1.2v1.2h-1.2zM441.9 362.9h1.2v1.2h-1.2zM441.9 356.9h1.2v1.2h-1.2zM444.9 362.9h1.2v1.2h-1.2zM447.9 346.9h1.2v1.2h-1.2zM434.9 351.9h1.2v1.2h-1.2zM394.9 372.9h1.2v1.2h-1.2zM429.9 358.9h1.2v1.2h-1.2zM439.9 351.9h1.2v1.2h-1.2zM382.9 374.9h1.2v1.2h-1.2zM455.9 348.9h1.2v1.2h-1.2zM395.9 366.9h1.2v1.2h-1.2z" fill="#f77a4f"/>
<path d="M406.9 379.9h1.2v1.2h-1.2zM372.9 388.9h1.2v1.2h-1.2zM426.9 374.9h1.2v1.2h-1.2zM380.9 391.9h1.2v1.2h-1.2zM436.9 369.9h1.2v1.2h-1.2zM375.9 389.9h1.2v1.2h-1.2zM418.9 380.9h1.2v1.2h-1.2zM400.9 390.9h1.2v1.2h-1.2zM491.9 349.9h1.2v1.2h-1.2zM445.9 370.9h1.2v1.2h-1.2zM428.9 369.9h1.2v1.2h-1.2z" fill="#fcb519"/>
<polyline points="354.4,247.9 356.7,250.6 359.0,253.3 361.4,255.9 363.7,258.5 366.0,261.0 368.3,263.4 370.6,265.7 372.9,268.0 375.3,270.3 377.6,272.5 379.9,274.6 382.2,276.7 384.5,278.7 386.8,280.7 389.2,282.7 391.5,284.6 393.8,286.4 396.1,288.2 398.4,290.0 400.7,291.8 403.1,293.5 405.4,295.1 407.7,296.8 410.0,298.4 412.3,299.9 414.6,301.5 416.9,303.0 419.3,304.4 421.6,305.9 423.9,307.3 426.2,308.7 428.5,310.1 430.8,311.4 433.2,312.7 435.5,314.0 437.8,315.3 440.1,316.5 442.4,317.7 444.7,318.9 447.1,320.1 449.4,321.3 451.7,322.4 454.0,323.5 456.3,324.6 458.6,325.7 461.0,326.7 463.3,327.8 465.6,328.8 467.9,329.8 470.2,330.8 472.5,331.8 474.8,332.8 477.2,333.7 479.5,334.6 481.8,335.5 484.1,336.4 486.4,337.3 488.7,338.2 491.1,339.1 493.4,339.9 495.7,340.8 498.0,341.6 500.3,342.4 502.6,343.2 505.0,344.0 507.3,344.8" fill="none" stroke="#8fd6e6" stroke-width="0.9"/>
<circle cx="506" cy="347.2" r="0.9" fill="#fcb519"/>
<text class="sr" x="515.8" y="347.2" font-size="4.1" fill="#222">area=32*32</text>
<circle cx="486.5" cy="292.1" r="0.9" fill="#f9b48a"/>
<text class="sr" x="498.6" y="293.5" font-size="3.9" fill="#222">Medium:74(1.37%)</text>
<circle cx="486.6" cy="307.0" r="8.4" fill="#8fd3e3"/>
<text class="sr" x="498.6" y="308.0" font-size="3.9" fill="#222">Small:5318(98.63%)</text>
<circle cx="453.5" cy="386.6" r="2.6" fill="#5c0aa8"/>
<text class="sr" x="457.9" y="387.90000000000003" font-size="3.9" fill="#222">1.0≤w/h&lt;1.5(3.13%)</text>
<circle cx="497.4" cy="386.6" r="2.6" fill="#b012b4"/>
<text class="sr" x="501.79999999999995" y="387.90000000000003" font-size="3.9" fill="#222">1.5≤w/h&lt;2.0(55.58%)</text>
<circle cx="453.5" cy="393.9" r="2.6" fill="#e8467a"/>
<text class="sr" x="457.9" y="395.2" font-size="3.9" fill="#222">2.0≤w/h&lt;2.5(36.37%)</text>
<circle cx="497.4" cy="393.9" r="2.6" fill="#f77a4f"/>
<text class="sr" x="501.79999999999995" y="395.2" font-size="3.9" fill="#222">2.5≤w/h&lt;3.0(4.60%)</text>
<circle cx="453.5" cy="401.1" r="2.6" fill="#fcb519"/>
<text class="sr" x="457.9" y="402.40000000000003" font-size="3.9" fill="#222">3.0≤w/h(0.32%)</text>
<text class="sr" x="402.3" y="460.9" font-size="12.5" font-weight="bold" fill="#111" text-anchor="middle">(d)</text>
</g>
</svg></body></html>
